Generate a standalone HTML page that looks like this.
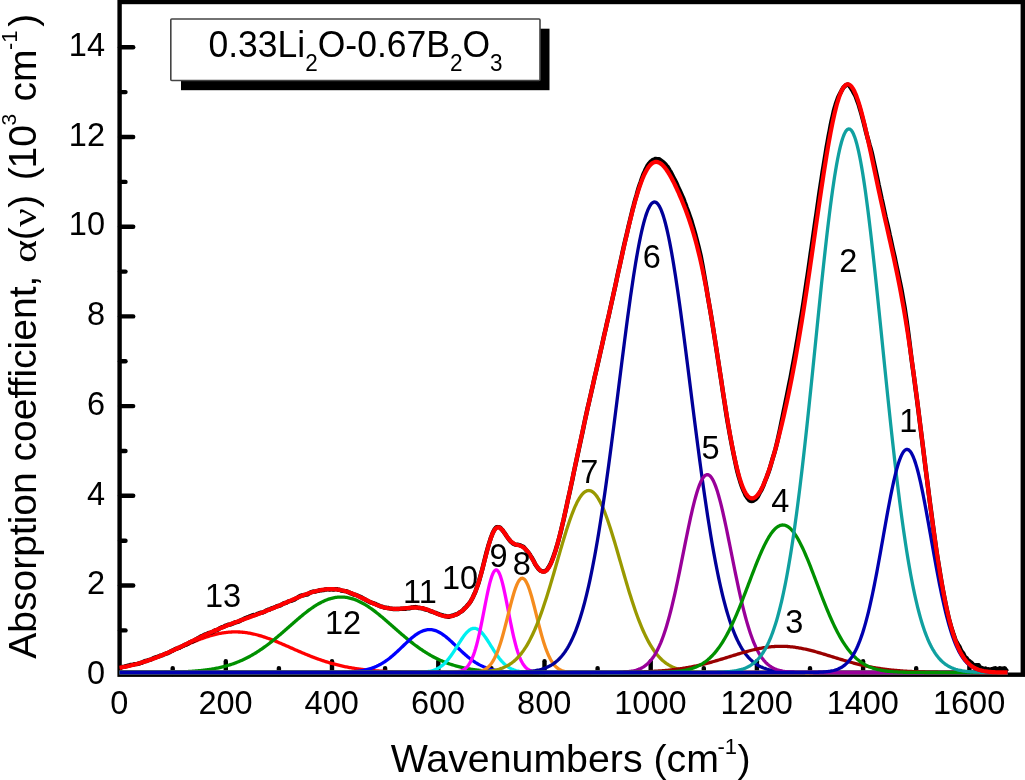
<!DOCTYPE html><html><head><meta charset="utf-8"><style>html,body{margin:0;padding:0;background:#fff;}svg{display:block;}</style></head><body>
<svg width="1025" height="780" viewBox="0 0 1025 780">
<rect x="0" y="0" width="1025" height="780" fill="#fff"/>
<rect x="119.6" y="2" width="903.2" height="672.7" fill="none" stroke="#000" stroke-width="4.4"/>
<line x1="172.7" y1="674" x2="172.7" y2="668.1" stroke="#000" stroke-width="4.4" stroke-linecap="round"/>
<line x1="225.8" y1="674" x2="225.8" y2="661.2" stroke="#000" stroke-width="4.4" stroke-linecap="round"/>
<line x1="278.9" y1="674" x2="278.9" y2="668.1" stroke="#000" stroke-width="4.4" stroke-linecap="round"/>
<line x1="332.0" y1="674" x2="332.0" y2="661.2" stroke="#000" stroke-width="4.4" stroke-linecap="round"/>
<line x1="385.1" y1="674" x2="385.1" y2="668.1" stroke="#000" stroke-width="4.4" stroke-linecap="round"/>
<line x1="438.3" y1="674" x2="438.3" y2="661.2" stroke="#000" stroke-width="4.4" stroke-linecap="round"/>
<line x1="491.4" y1="674" x2="491.4" y2="668.1" stroke="#000" stroke-width="4.4" stroke-linecap="round"/>
<line x1="544.5" y1="674" x2="544.5" y2="661.2" stroke="#000" stroke-width="4.4" stroke-linecap="round"/>
<line x1="597.6" y1="674" x2="597.6" y2="668.1" stroke="#000" stroke-width="4.4" stroke-linecap="round"/>
<line x1="650.7" y1="674" x2="650.7" y2="661.2" stroke="#000" stroke-width="4.4" stroke-linecap="round"/>
<line x1="703.8" y1="674" x2="703.8" y2="668.1" stroke="#000" stroke-width="4.4" stroke-linecap="round"/>
<line x1="756.9" y1="674" x2="756.9" y2="661.2" stroke="#000" stroke-width="4.4" stroke-linecap="round"/>
<line x1="810.0" y1="674" x2="810.0" y2="668.1" stroke="#000" stroke-width="4.4" stroke-linecap="round"/>
<line x1="863.1" y1="674" x2="863.1" y2="661.2" stroke="#000" stroke-width="4.4" stroke-linecap="round"/>
<line x1="916.2" y1="674" x2="916.2" y2="668.1" stroke="#000" stroke-width="4.4" stroke-linecap="round"/>
<line x1="969.4" y1="674" x2="969.4" y2="661.2" stroke="#000" stroke-width="4.4" stroke-linecap="round"/>
<line x1="120" y1="630.4" x2="125.5" y2="630.4" stroke="#000" stroke-width="4.4" stroke-linecap="round"/>
<line x1="120" y1="585.5" x2="133.2" y2="585.5" stroke="#000" stroke-width="4.4" stroke-linecap="round"/>
<line x1="120" y1="540.7" x2="125.5" y2="540.7" stroke="#000" stroke-width="4.4" stroke-linecap="round"/>
<line x1="120" y1="495.8" x2="133.2" y2="495.8" stroke="#000" stroke-width="4.4" stroke-linecap="round"/>
<line x1="120" y1="451.0" x2="125.5" y2="451.0" stroke="#000" stroke-width="4.4" stroke-linecap="round"/>
<line x1="120" y1="406.1" x2="133.2" y2="406.1" stroke="#000" stroke-width="4.4" stroke-linecap="round"/>
<line x1="120" y1="361.3" x2="125.5" y2="361.3" stroke="#000" stroke-width="4.4" stroke-linecap="round"/>
<line x1="120" y1="316.4" x2="133.2" y2="316.4" stroke="#000" stroke-width="4.4" stroke-linecap="round"/>
<line x1="120" y1="271.6" x2="125.5" y2="271.6" stroke="#000" stroke-width="4.4" stroke-linecap="round"/>
<line x1="120" y1="226.7" x2="133.2" y2="226.7" stroke="#000" stroke-width="4.4" stroke-linecap="round"/>
<line x1="120" y1="181.9" x2="125.5" y2="181.9" stroke="#000" stroke-width="4.4" stroke-linecap="round"/>
<line x1="120" y1="137.0" x2="133.2" y2="137.0" stroke="#000" stroke-width="4.4" stroke-linecap="round"/>
<line x1="120" y1="92.1" x2="125.5" y2="92.1" stroke="#000" stroke-width="4.4" stroke-linecap="round"/>
<line x1="120" y1="47.3" x2="133.2" y2="47.3" stroke="#000" stroke-width="4.4" stroke-linecap="round"/>
<rect x="181" y="28.7" width="368.5" height="61.5" fill="#000"/>
<rect x="170.8" y="19" width="369.2" height="61.5" fill="#fff" stroke="#444" stroke-width="1.6" rx="1"/>
<text x="208.5" y="57.2" transform="translate(0,57.2) scale(1,1.06) translate(0,-57.2)" font-family="Liberation Sans, sans-serif" font-size="35.5" fill="#000">0.33Li<tspan font-size="22.5" dy="12.6">2</tspan><tspan dy="-12.6">O-0.67B</tspan><tspan font-size="22.5" dy="12.6">2</tspan><tspan dy="-12.6">O</tspan><tspan font-size="22.5" dy="12.6">3</tspan></text>
<path d="M119.6,667.80 L120.6,667.63 L121.6,667.44 L122.6,667.26 L123.6,667.06 L124.6,666.87 L125.6,666.66 L126.6,666.45 L127.6,666.24 L128.6,666.02 L129.6,665.79 L130.6,665.56 L131.6,665.32 L132.6,665.08 L133.6,664.83 L134.6,664.58 L135.6,664.32 L136.6,664.05 L137.6,663.78 L138.6,663.50 L139.6,663.22 L140.6,662.93 L141.6,662.64 L142.6,662.34 L143.6,662.03 L144.6,661.72 L145.6,661.40 L146.6,661.08 L147.6,660.75 L148.6,660.41 L149.6,660.07 L150.6,659.73 L151.6,659.37 L152.6,659.02 L153.6,658.66 L154.6,658.29 L155.6,657.92 L156.6,657.54 L157.6,657.16 L158.6,656.77 L159.6,656.38 L160.6,655.99 L161.6,655.59 L162.6,655.18 L163.6,654.77 L164.6,654.36 L165.6,653.95 L166.6,653.53 L167.6,653.11 L168.6,652.68 L169.6,652.26 L170.6,651.83 L171.6,651.39 L172.6,650.96 L173.6,650.52 L174.6,650.09 L175.6,649.65 L176.6,649.21 L177.6,648.77 L178.6,648.32 L179.6,647.88 L180.6,647.44 L181.6,647.00 L182.6,646.56 L183.6,646.12 L184.6,645.68 L185.6,645.24 L186.6,644.81 L187.6,644.37 L188.6,643.94 L189.6,643.51 L190.6,643.09 L191.6,642.67 L192.6,642.25 L193.6,641.83 L194.6,641.42 L195.6,641.02 L196.6,640.62 L197.6,640.22 L198.6,639.83 L199.6,639.45 L200.6,639.07 L201.6,638.70 L202.6,638.34 L203.6,637.98 L204.6,637.63 L205.6,637.29 L206.6,636.96 L207.6,636.63 L208.6,636.32 L209.6,636.01 L210.6,635.71 L211.6,635.42 L212.6,635.15 L213.6,634.88 L214.6,634.62 L215.6,634.37 L216.6,634.14 L217.6,633.91 L218.6,633.69 L219.6,633.49 L220.6,633.30 L221.6,633.12 L222.6,632.95 L223.6,632.79 L224.6,632.65 L225.6,632.52 L226.6,632.40 L227.6,632.29 L228.6,632.20 L229.6,632.12 L230.6,632.05 L231.6,632.00 L232.6,631.95 L233.6,631.93 L234.6,631.91 L235.6,631.91 L236.6,631.92 L237.6,631.94 L238.6,631.98 L239.6,632.02 L240.6,632.09 L241.6,632.16 L242.6,632.25 L243.6,632.35 L244.6,632.46 L245.6,632.59 L246.6,632.73 L247.6,632.88 L248.6,633.04 L249.6,633.22 L250.6,633.40 L251.6,633.60 L252.6,633.81 L253.6,634.03 L254.6,634.26 L255.6,634.51 L256.6,634.76 L257.6,635.02 L258.6,635.30 L259.6,635.58 L260.6,635.87 L261.6,636.18 L262.6,636.49 L263.6,636.81 L264.6,637.14 L265.6,637.48 L266.6,637.82 L267.6,638.18 L268.6,638.54 L269.6,638.90 L270.6,639.28 L271.6,639.66 L272.6,640.04 L273.6,640.44 L274.6,640.84 L275.6,641.24 L276.6,641.65 L277.6,642.06 L278.6,642.48 L279.6,642.90 L280.6,643.32 L281.6,643.75 L282.6,644.18 L283.6,644.61 L284.6,645.04 L285.6,645.48 L286.6,645.92 L287.6,646.36 L288.6,646.80 L289.6,647.24 L290.6,647.68 L291.6,648.12 L292.6,648.57 L293.6,649.01 L294.6,649.45 L295.6,649.89 L296.6,650.33 L297.6,650.76 L298.6,651.20 L299.6,651.63 L300.6,652.06 L301.6,652.49 L302.6,652.92 L303.6,653.34 L304.6,653.76 L305.6,654.18 L306.6,654.59 L307.6,655.00 L308.6,655.40 L309.6,655.81 L310.6,656.20 L311.6,656.60 L312.6,656.98 L313.6,657.37 L314.6,657.75 L315.6,658.12 L316.6,658.49 L317.6,658.85 L318.6,659.21 L319.6,659.57 L320.6,659.92 L321.6,660.26 L322.6,660.60 L323.6,660.93 L324.6,661.25 L325.6,661.58 L326.6,661.89 L327.6,662.20 L328.6,662.50 L329.6,662.80 L330.6,663.09 L331.6,663.38 L332.6,663.66 L333.6,663.93 L334.6,664.20 L335.6,664.46 L336.6,664.72 L337.6,664.97 L338.6,665.22 L339.6,665.45 L340.6,665.69 L341.6,665.92 L342.6,666.14 L343.6,666.36 L344.6,666.57 L345.6,666.77 L346.6,666.97 L347.6,667.17 L348.6,667.36 L349.6,667.55 L350.6,667.73 L351.6,667.90 L352.6,668.07 L353.6,668.23 L354.6,668.39 L355.6,668.55 L356.6,668.70 L357.6,668.85 L358.6,668.99 L359.6,669.13 L360.6,669.26 L361.6,669.39 L362.6,669.51 L363.6,669.63 L364.6,669.75 L365.6,669.86 L366.6,669.97 L367.6,670.08 L368.6,670.18 L369.6,670.28 L370.6,670.37 L371.6,670.46 L372.6,670.55 L373.6,670.63 L374.6,670.72 L375.6,670.79 L376.6,670.87 L377.6,670.94 L378.6,671.01 L379.6,671.08 L380.6,671.14 L381.6,671.21 L382.6,671.27 L383.6,671.32 L384.6,671.38 L385.6,671.43 L386.6,671.48 L387.6,671.53 L388.6,671.58 L389.6,671.62 L390.6,671.66 L391.6,671.71 L392.6,671.74 L393.6,671.78 L394.6,671.82 L395.6,671.85 L396.6,671.88 L397.6,671.92 L398.6,671.95 L399.6,671.97 L400.6,672.00 L401.6,672.03 L402.6,672.05 L403.6,672.08 L404.6,672.10 L405.6,672.12 L406.6,672.14 L407.6,672.16 L408.6,672.18 L409.6,672.20 L410.6,672.21 L411.6,672.23 L412.6,672.24 L413.6,672.26 L414.6,672.27 L415.6,672.28 L416.6,672.30 L417.6,672.31 L418.6,672.32 L419.6,672.33 L420.6,672.34 L421.6,672.35 L422.6,672.36 L423.6,672.37 L424.6,672.37 L425.6,672.38 L426.6,672.39 L427.6,672.39 L428.6,672.40 L429.6,672.41 L430.6,672.41 L431.6,672.42 L432.6,672.42 L433.6,672.43 L434.6,672.43 L435.6,672.44 L436.6,672.44 L437.6,672.44 L438.6,672.45 L439.6,672.45 L440.6,672.45 L441.6,672.46 L442.6,672.46 L443.6,672.46 L444.6,672.46 L445.6,672.47 L446.6,672.47 L447.6,672.47 L448.6,672.47 L449.6,672.48 L450.6,672.48 L451.6,672.48 L452.6,672.48 L453.6,672.48 L454.6,672.48 L455.6,672.48 L456.6,672.48 L457.6,672.49 L458.6,672.49 L459.6,672.49 L460.6,672.49 L461.6,672.49 L462.6,672.49 L463.6,672.49 L464.6,672.49 L465.6,672.49 L466.6,672.49 L467.6,672.49 L468.6,672.49 L469.6,672.49 L470.6,672.49 L471.6,672.49 L472.6,672.50 L473.6,672.50 L474.6,672.50 L475.6,672.50 L476.6,672.50 L477.6,672.50 L478.6,672.50 L479.6,672.50 L480.6,672.50 L481.6,672.50 L482.6,672.50 L483.6,672.50 L484.6,672.50 L485.6,672.50 L486.6,672.50 L487.6,672.50 L488.6,672.50 L489.6,672.50 L490.6,672.50 L491.6,672.50 L492.6,672.50 L493.6,672.50 L494.6,672.50 L495.6,672.50 L496.6,672.50 L497.6,672.50 L498.6,672.50 L499.6,672.50 L500.6,672.50 L501.6,672.50 L502.6,672.50 L503.6,672.50 L504.6,672.50 L505.6,672.50 L506.6,672.50 L507.6,672.50 L508.6,672.50 L509.6,672.50 L510.6,672.50 L511.6,672.50 L512.6,672.50 L513.6,672.50 L514.6,672.50 L515.6,672.50 L516.6,672.50 L517.6,672.50 L518.6,672.50 L519.6,672.50 L520.6,672.50 L521.6,672.50 L522.6,672.50 L523.6,672.50 L524.6,672.50 L525.6,672.50 L526.6,672.50 L527.6,672.50 L528.6,672.50 L529.6,672.50 L530.6,672.50 L531.6,672.50 L532.6,672.50 L533.6,672.50 L534.6,672.50 L535.6,672.50 L536.6,672.50 L537.6,672.50 L538.6,672.50 L539.6,672.50 L540.6,672.50 L541.6,672.50 L542.6,672.50 L543.6,672.50 L544.6,672.50 L545.6,672.50 L546.6,672.50 L547.6,672.50 L548.6,672.50 L549.6,672.50 L550.6,672.50 L551.6,672.50 L552.6,672.50 L553.6,672.50 L554.6,672.50 L555.6,672.50 L556.6,672.50 L557.6,672.50 L558.6,672.50 L559.6,672.50 L560.6,672.50 L561.6,672.50 L562.6,672.50 L563.6,672.50 L564.6,672.50 L565.6,672.50 L566.6,672.50 L567.6,672.50 L568.6,672.50 L569.6,672.50 L570.6,672.50 L571.6,672.50 L572.6,672.50 L573.6,672.50 L574.6,672.50 L575.6,672.50 L576.6,672.50 L577.6,672.50 L578.6,672.50 L579.6,672.50 L580.6,672.50 L581.6,672.50 L582.6,672.50 L583.6,672.50 L584.6,672.50 L585.6,672.50 L586.6,672.50 L587.6,672.50 L588.6,672.50 L589.6,672.50 L590.6,672.50 L591.6,672.50 L592.6,672.50 L593.6,672.50 L594.6,672.50 L595.6,672.50 L596.6,672.50 L597.6,672.50 L598.6,672.50 L599.6,672.50 L600.6,672.50 L601.6,672.50 L602.6,672.50 L603.6,672.50 L604.6,672.50 L605.6,672.50 L606.6,672.50 L607.6,672.50 L608.6,672.50 L609.6,672.50 L610.6,672.50 L611.6,672.50 L612.6,672.50 L613.6,672.50 L614.6,672.50 L615.6,672.50 L616.6,672.50 L617.6,672.50 L618.6,672.50 L619.6,672.50 L620.6,672.50 L621.6,672.50 L622.6,672.50 L623.6,672.50 L624.6,672.50 L625.6,672.50 L626.6,672.50 L627.6,672.50 L628.6,672.50 L629.6,672.50 L630.6,672.50 L631.6,672.50 L632.6,672.50 L633.6,672.50 L634.6,672.50 L635.6,672.50 L636.6,672.50 L637.6,672.50 L638.6,672.50 L639.6,672.50 L640.6,672.50 L641.6,672.50 L642.6,672.50 L643.6,672.50 L644.6,672.50 L645.6,672.50 L646.6,672.50 L647.6,672.50 L648.6,672.50 L649.6,672.50 L650.6,672.50 L651.6,672.50 L652.6,672.50 L653.6,672.50 L654.6,672.50 L655.6,672.50 L656.6,672.50 L657.6,672.50 L658.6,672.50 L659.6,672.50 L660.6,672.50 L661.6,672.50 L662.6,672.50 L663.6,672.50 L664.6,672.50 L665.6,672.50 L666.6,672.50 L667.6,672.50 L668.6,672.50 L669.6,672.50 L670.6,672.50 L671.6,672.50 L672.6,672.50 L673.6,672.50 L674.6,672.50 L675.6,672.50 L676.6,672.50 L677.6,672.50 L678.6,672.50 L679.6,672.50 L680.6,672.50 L681.6,672.50 L682.6,672.50 L683.6,672.50 L684.6,672.50 L685.6,672.50 L686.6,672.50 L687.6,672.50 L688.6,672.50 L689.6,672.50 L690.6,672.50 L691.6,672.50 L692.6,672.50 L693.6,672.50 L694.6,672.50 L695.6,672.50 L696.6,672.50 L697.6,672.50 L698.6,672.50 L699.6,672.50 L700.6,672.50 L701.6,672.50 L702.6,672.50 L703.6,672.50 L704.6,672.50 L705.6,672.50 L706.6,672.50 L707.6,672.50 L708.6,672.50 L709.6,672.50 L710.6,672.50 L711.6,672.50 L712.6,672.50 L713.6,672.50 L714.6,672.50 L715.6,672.50 L716.6,672.50 L717.6,672.50 L718.6,672.50 L719.6,672.50 L720.6,672.50 L721.6,672.50 L722.6,672.50 L723.6,672.50 L724.6,672.50 L725.6,672.50 L726.6,672.50 L727.6,672.50 L728.6,672.50 L729.6,672.50 L730.6,672.50 L731.6,672.50 L732.6,672.50 L733.6,672.50 L734.6,672.50 L735.6,672.50 L736.6,672.50 L737.6,672.50 L738.6,672.50 L739.6,672.50 L740.6,672.50 L741.6,672.50 L742.6,672.50 L743.6,672.50 L744.6,672.50 L745.6,672.50 L746.6,672.50 L747.6,672.50 L748.6,672.50 L749.6,672.50 L750.6,672.50 L751.6,672.50 L752.6,672.50 L753.6,672.50 L754.6,672.50 L755.6,672.50 L756.6,672.50 L757.6,672.50 L758.6,672.50 L759.6,672.50 L760.6,672.50 L761.6,672.50 L762.6,672.50 L763.6,672.50 L764.6,672.50 L765.6,672.50 L766.6,672.50 L767.6,672.50 L768.6,672.50 L769.6,672.50 L770.6,672.50 L771.6,672.50 L772.6,672.50 L773.6,672.50 L774.6,672.50 L775.6,672.50 L776.6,672.50 L777.6,672.50 L778.6,672.50 L779.6,672.50 L780.6,672.50 L781.6,672.50 L782.6,672.50 L783.6,672.50 L784.6,672.50 L785.6,672.50 L786.6,672.50 L787.6,672.50 L788.6,672.50 L789.6,672.50 L790.6,672.50 L791.6,672.50 L792.6,672.50 L793.6,672.50 L794.6,672.50 L795.6,672.50 L796.6,672.50 L797.6,672.50 L798.6,672.50 L799.6,672.50 L800.6,672.50 L801.6,672.50 L802.6,672.50 L803.6,672.50 L804.6,672.50 L805.6,672.50 L806.6,672.50 L807.6,672.50 L808.6,672.50 L809.6,672.50 L810.6,672.50 L811.6,672.50 L812.6,672.50 L813.6,672.50 L814.6,672.50 L815.6,672.50 L816.6,672.50 L817.6,672.50 L818.6,672.50 L819.6,672.50 L820.6,672.50 L821.6,672.50 L822.6,672.50 L823.6,672.50 L824.6,672.50 L825.6,672.50 L826.6,672.50 L827.6,672.50 L828.6,672.50 L829.6,672.50 L830.6,672.50 L831.6,672.50 L832.6,672.50 L833.6,672.50 L834.6,672.50 L835.6,672.50 L836.6,672.50 L837.6,672.50 L838.6,672.50 L839.6,672.50 L840.6,672.50 L841.6,672.50 L842.6,672.50 L843.6,672.50 L844.6,672.50 L845.6,672.50 L846.6,672.50 L847.6,672.50 L848.6,672.50 L849.6,672.50 L850.6,672.50 L851.6,672.50 L852.6,672.50 L853.6,672.50 L854.6,672.50 L855.6,672.50 L856.6,672.50 L857.6,672.50 L858.6,672.50 L859.6,672.50 L860.6,672.50 L861.6,672.50 L862.6,672.50 L863.6,672.50 L864.6,672.50 L865.6,672.50 L866.6,672.50 L867.6,672.50 L868.6,672.50 L869.6,672.50 L870.6,672.50 L871.6,672.50 L872.6,672.50 L873.6,672.50 L874.6,672.50 L875.6,672.50 L876.6,672.50 L877.6,672.50 L878.6,672.50 L879.6,672.50 L880.6,672.50 L881.6,672.50 L882.6,672.50 L883.6,672.50 L884.6,672.50 L885.6,672.50 L886.6,672.50 L887.6,672.50 L888.6,672.50 L889.6,672.50 L890.6,672.50 L891.6,672.50 L892.6,672.50 L893.6,672.50 L894.6,672.50 L895.6,672.50 L896.6,672.50 L897.6,672.50 L898.6,672.50 L899.6,672.50 L900.6,672.50 L901.6,672.50 L902.6,672.50 L903.6,672.50 L904.6,672.50 L905.6,672.50 L906.6,672.50 L907.6,672.50 L908.6,672.50 L909.6,672.50 L910.6,672.50 L911.6,672.50 L912.6,672.50 L913.6,672.50 L914.6,672.50 L915.6,672.50 L916.6,672.50 L917.6,672.50 L918.6,672.50 L919.6,672.50 L920.6,672.50 L921.6,672.50 L922.6,672.50 L923.6,672.50 L924.6,672.50 L925.6,672.50 L926.6,672.50 L927.6,672.50 L928.6,672.50 L929.6,672.50 L930.6,672.50 L931.6,672.50 L932.6,672.50 L933.6,672.50 L934.6,672.50 L935.6,672.50 L936.6,672.50 L937.6,672.50 L938.6,672.50 L939.6,672.50 L940.6,672.50 L941.6,672.50 L942.6,672.50 L943.6,672.50 L944.6,672.50 L945.6,672.50 L946.6,672.50 L947.6,672.50 L948.6,672.50 L949.6,672.50 L950.6,672.50 L951.6,672.50 L952.6,672.50 L953.6,672.50 L954.6,672.50 L955.6,672.50 L956.6,672.50 L957.6,672.50 L958.6,672.50 L959.6,672.50 L960.6,672.50 L961.6,672.50 L962.6,672.50 L963.6,672.50 L964.6,672.50 L965.6,672.50 L966.6,672.50 L967.6,672.50 L968.6,672.50 L969.6,672.50 L970.6,672.50 L971.6,672.50 L972.6,672.50 L973.6,672.50 L974.6,672.50 L975.6,672.50 L976.6,672.50 L977.6,672.50 L978.6,672.50 L979.6,672.50 L980.6,672.50 L981.6,672.50 L982.6,672.50 L983.6,672.50 L984.6,672.50 L985.6,672.50 L986.6,672.50 L987.6,672.50 L988.6,672.50 L989.6,672.50 L990.6,672.50 L991.6,672.50 L992.6,672.50 L993.6,672.50 L994.6,672.50 L995.6,672.50 L996.6,672.50 L997.6,672.50 L998.6,672.50 L999.6,672.50 L1000.6,672.50 L1001.6,672.50 L1002.6,672.50 L1003.6,672.50 L1004.6,672.50 L1005.6,672.50 L1006.6,672.50 L1007.6,672.50" fill="none" stroke="#FF0000" stroke-width="3.3" stroke-linejoin="round"/>
<path d="M119.6,672.49 L120.6,672.49 L121.6,672.49 L122.6,672.49 L123.6,672.49 L124.6,672.49 L125.6,672.49 L126.6,672.48 L127.6,672.48 L128.6,672.48 L129.6,672.48 L130.6,672.48 L131.6,672.48 L132.6,672.48 L133.6,672.47 L134.6,672.47 L135.6,672.47 L136.6,672.47 L137.6,672.46 L138.6,672.46 L139.6,672.46 L140.6,672.46 L141.6,672.45 L142.6,672.45 L143.6,672.44 L144.6,672.44 L145.6,672.44 L146.6,672.43 L147.6,672.43 L148.6,672.42 L149.6,672.41 L150.6,672.41 L151.6,672.40 L152.6,672.39 L153.6,672.39 L154.6,672.38 L155.6,672.37 L156.6,672.36 L157.6,672.35 L158.6,672.34 L159.6,672.33 L160.6,672.32 L161.6,672.31 L162.6,672.29 L163.6,672.28 L164.6,672.26 L165.6,672.25 L166.6,672.23 L167.6,672.21 L168.6,672.19 L169.6,672.17 L170.6,672.15 L171.6,672.13 L172.6,672.10 L173.6,672.08 L174.6,672.05 L175.6,672.02 L176.6,671.99 L177.6,671.96 L178.6,671.93 L179.6,671.89 L180.6,671.86 L181.6,671.82 L182.6,671.78 L183.6,671.73 L184.6,671.69 L185.6,671.64 L186.6,671.59 L187.6,671.53 L188.6,671.48 L189.6,671.42 L190.6,671.36 L191.6,671.29 L192.6,671.22 L193.6,671.15 L194.6,671.07 L195.6,671.00 L196.6,670.91 L197.6,670.83 L198.6,670.74 L199.6,670.64 L200.6,670.54 L201.6,670.44 L202.6,670.33 L203.6,670.21 L204.6,670.09 L205.6,669.97 L206.6,669.84 L207.6,669.71 L208.6,669.57 L209.6,669.42 L210.6,669.27 L211.6,669.11 L212.6,668.94 L213.6,668.77 L214.6,668.59 L215.6,668.40 L216.6,668.21 L217.6,668.01 L218.6,667.80 L219.6,667.58 L220.6,667.35 L221.6,667.12 L222.6,666.88 L223.6,666.63 L224.6,666.37 L225.6,666.10 L226.6,665.82 L227.6,665.53 L228.6,665.24 L229.6,664.93 L230.6,664.61 L231.6,664.28 L232.6,663.95 L233.6,663.60 L234.6,663.24 L235.6,662.87 L236.6,662.49 L237.6,662.09 L238.6,661.69 L239.6,661.27 L240.6,660.85 L241.6,660.41 L242.6,659.96 L243.6,659.49 L244.6,659.02 L245.6,658.53 L246.6,658.03 L247.6,657.52 L248.6,657.00 L249.6,656.46 L250.6,655.91 L251.6,655.35 L252.6,654.77 L253.6,654.19 L254.6,653.59 L255.6,652.98 L256.6,652.35 L257.6,651.72 L258.6,651.07 L259.6,650.41 L260.6,649.74 L261.6,649.06 L262.6,648.36 L263.6,647.65 L264.6,646.94 L265.6,646.21 L266.6,645.47 L267.6,644.72 L268.6,643.96 L269.6,643.19 L270.6,642.41 L271.6,641.62 L272.6,640.82 L273.6,640.01 L274.6,639.20 L275.6,638.37 L276.6,637.54 L277.6,636.70 L278.6,635.86 L279.6,635.01 L280.6,634.15 L281.6,633.29 L282.6,632.43 L283.6,631.56 L284.6,630.69 L285.6,629.81 L286.6,628.93 L287.6,628.06 L288.6,627.18 L289.6,626.30 L290.6,625.42 L291.6,624.54 L292.6,623.66 L293.6,622.78 L294.6,621.91 L295.6,621.04 L296.6,620.18 L297.6,619.32 L298.6,618.47 L299.6,617.62 L300.6,616.78 L301.6,615.95 L302.6,615.13 L303.6,614.32 L304.6,613.52 L305.6,612.73 L306.6,611.95 L307.6,611.18 L308.6,610.43 L309.6,609.69 L310.6,608.96 L311.6,608.26 L312.6,607.56 L313.6,606.89 L314.6,606.23 L315.6,605.59 L316.6,604.96 L317.6,604.36 L318.6,603.78 L319.6,603.22 L320.6,602.68 L321.6,602.16 L322.6,601.66 L323.6,601.19 L324.6,600.74 L325.6,600.31 L326.6,599.91 L327.6,599.53 L328.6,599.18 L329.6,598.86 L330.6,598.56 L331.6,598.28 L332.6,598.03 L333.6,597.81 L334.6,597.62 L335.6,597.45 L336.6,597.31 L337.6,597.20 L338.6,597.12 L339.6,597.06 L340.6,597.03 L341.6,597.03 L342.6,597.06 L343.6,597.12 L344.6,597.20 L345.6,597.31 L346.6,597.45 L347.6,597.62 L348.6,597.81 L349.6,598.03 L350.6,598.28 L351.6,598.55 L352.6,598.85 L353.6,599.18 L354.6,599.53 L355.6,599.90 L356.6,600.31 L357.6,600.73 L358.6,601.18 L359.6,601.65 L360.6,602.15 L361.6,602.67 L362.6,603.21 L363.6,603.77 L364.6,604.35 L365.6,604.95 L366.6,605.57 L367.6,606.21 L368.6,606.87 L369.6,607.55 L370.6,608.24 L371.6,608.95 L372.6,609.67 L373.6,610.41 L374.6,611.17 L375.6,611.93 L376.6,612.71 L377.6,613.50 L378.6,614.30 L379.6,615.12 L380.6,615.94 L381.6,616.77 L382.6,617.61 L383.6,618.45 L384.6,619.30 L385.6,620.16 L386.6,621.03 L387.6,621.90 L388.6,622.77 L389.6,623.64 L390.6,624.52 L391.6,625.40 L392.6,626.28 L393.6,627.16 L394.6,628.04 L395.6,628.92 L396.6,629.79 L397.6,630.67 L398.6,631.54 L399.6,632.41 L400.6,633.28 L401.6,634.14 L402.6,634.99 L403.6,635.84 L404.6,636.69 L405.6,637.53 L406.6,638.36 L407.6,639.18 L408.6,639.99 L409.6,640.80 L410.6,641.60 L411.6,642.39 L412.6,643.17 L413.6,643.94 L414.6,644.70 L415.6,645.45 L416.6,646.19 L417.6,646.92 L418.6,647.64 L419.6,648.35 L420.6,649.04 L421.6,649.73 L422.6,650.40 L423.6,651.06 L424.6,651.71 L425.6,652.34 L426.6,652.97 L427.6,653.58 L428.6,654.18 L429.6,654.76 L430.6,655.34 L431.6,655.90 L432.6,656.45 L433.6,656.99 L434.6,657.51 L435.6,658.02 L436.6,658.52 L437.6,659.01 L438.6,659.48 L439.6,659.95 L440.6,660.40 L441.6,660.84 L442.6,661.27 L443.6,661.68 L444.6,662.09 L445.6,662.48 L446.6,662.86 L447.6,663.23 L448.6,663.59 L449.6,663.94 L450.6,664.28 L451.6,664.61 L452.6,664.92 L453.6,665.23 L454.6,665.53 L455.6,665.82 L456.6,666.09 L457.6,666.36 L458.6,666.62 L459.6,666.87 L460.6,667.12 L461.6,667.35 L462.6,667.58 L463.6,667.79 L464.6,668.00 L465.6,668.20 L466.6,668.40 L467.6,668.58 L468.6,668.76 L469.6,668.94 L470.6,669.10 L471.6,669.26 L472.6,669.42 L473.6,669.56 L474.6,669.70 L475.6,669.84 L476.6,669.97 L477.6,670.09 L478.6,670.21 L479.6,670.33 L480.6,670.43 L481.6,670.54 L482.6,670.64 L483.6,670.73 L484.6,670.82 L485.6,670.91 L486.6,670.99 L487.6,671.07 L488.6,671.15 L489.6,671.22 L490.6,671.29 L491.6,671.35 L492.6,671.42 L493.6,671.48 L494.6,671.53 L495.6,671.59 L496.6,671.64 L497.6,671.69 L498.6,671.73 L499.6,671.77 L500.6,671.82 L501.6,671.86 L502.6,671.89 L503.6,671.93 L504.6,671.96 L505.6,671.99 L506.6,672.02 L507.6,672.05 L508.6,672.08 L509.6,672.10 L510.6,672.13 L511.6,672.15 L512.6,672.17 L513.6,672.19 L514.6,672.21 L515.6,672.23 L516.6,672.25 L517.6,672.26 L518.6,672.28 L519.6,672.29 L520.6,672.30 L521.6,672.32 L522.6,672.33 L523.6,672.34 L524.6,672.35 L525.6,672.36 L526.6,672.37 L527.6,672.38 L528.6,672.39 L529.6,672.39 L530.6,672.40 L531.6,672.41 L532.6,672.41 L533.6,672.42 L534.6,672.43 L535.6,672.43 L536.6,672.44 L537.6,672.44 L538.6,672.44 L539.6,672.45 L540.6,672.45 L541.6,672.46 L542.6,672.46 L543.6,672.46 L544.6,672.46 L545.6,672.47 L546.6,672.47 L547.6,672.47 L548.6,672.47 L549.6,672.48 L550.6,672.48 L551.6,672.48 L552.6,672.48 L553.6,672.48 L554.6,672.48 L555.6,672.48 L556.6,672.49 L557.6,672.49 L558.6,672.49 L559.6,672.49 L560.6,672.49 L561.6,672.49 L562.6,672.49 L563.6,672.49 L564.6,672.49 L565.6,672.49 L566.6,672.49 L567.6,672.49 L568.6,672.49 L569.6,672.50 L570.6,672.50 L571.6,672.50 L572.6,672.50 L573.6,672.50 L574.6,672.50 L575.6,672.50 L576.6,672.50 L577.6,672.50 L578.6,672.50 L579.6,672.50 L580.6,672.50 L581.6,672.50 L582.6,672.50 L583.6,672.50 L584.6,672.50 L585.6,672.50 L586.6,672.50 L587.6,672.50 L588.6,672.50 L589.6,672.50 L590.6,672.50 L591.6,672.50 L592.6,672.50 L593.6,672.50 L594.6,672.50 L595.6,672.50 L596.6,672.50 L597.6,672.50 L598.6,672.50 L599.6,672.50 L600.6,672.50 L601.6,672.50 L602.6,672.50 L603.6,672.50 L604.6,672.50 L605.6,672.50 L606.6,672.50 L607.6,672.50 L608.6,672.50 L609.6,672.50 L610.6,672.50 L611.6,672.50 L612.6,672.50 L613.6,672.50 L614.6,672.50 L615.6,672.50 L616.6,672.50 L617.6,672.50 L618.6,672.50 L619.6,672.50 L620.6,672.50 L621.6,672.50 L622.6,672.50 L623.6,672.50 L624.6,672.50 L625.6,672.50 L626.6,672.50 L627.6,672.50 L628.6,672.50 L629.6,672.50 L630.6,672.50 L631.6,672.50 L632.6,672.50 L633.6,672.50 L634.6,672.50 L635.6,672.50 L636.6,672.50 L637.6,672.50 L638.6,672.50 L639.6,672.50 L640.6,672.50 L641.6,672.50 L642.6,672.50 L643.6,672.50 L644.6,672.50 L645.6,672.50 L646.6,672.50 L647.6,672.50 L648.6,672.50 L649.6,672.50 L650.6,672.50 L651.6,672.50 L652.6,672.50 L653.6,672.50 L654.6,672.50 L655.6,672.50 L656.6,672.50 L657.6,672.50 L658.6,672.50 L659.6,672.50 L660.6,672.50 L661.6,672.50 L662.6,672.50 L663.6,672.50 L664.6,672.50 L665.6,672.50 L666.6,672.50 L667.6,672.50 L668.6,672.50 L669.6,672.50 L670.6,672.50 L671.6,672.50 L672.6,672.50 L673.6,672.50 L674.6,672.50 L675.6,672.50 L676.6,672.50 L677.6,672.50 L678.6,672.50 L679.6,672.50 L680.6,672.50 L681.6,672.50 L682.6,672.50 L683.6,672.50 L684.6,672.50 L685.6,672.50 L686.6,672.50 L687.6,672.50 L688.6,672.50 L689.6,672.50 L690.6,672.50 L691.6,672.50 L692.6,672.50 L693.6,672.50 L694.6,672.50 L695.6,672.50 L696.6,672.50 L697.6,672.50 L698.6,672.50 L699.6,672.50 L700.6,672.50 L701.6,672.50 L702.6,672.50 L703.6,672.50 L704.6,672.50 L705.6,672.50 L706.6,672.50 L707.6,672.50 L708.6,672.50 L709.6,672.50 L710.6,672.50 L711.6,672.50 L712.6,672.50 L713.6,672.50 L714.6,672.50 L715.6,672.50 L716.6,672.50 L717.6,672.50 L718.6,672.50 L719.6,672.50 L720.6,672.50 L721.6,672.50 L722.6,672.50 L723.6,672.50 L724.6,672.50 L725.6,672.50 L726.6,672.50 L727.6,672.50 L728.6,672.50 L729.6,672.50 L730.6,672.50 L731.6,672.50 L732.6,672.50 L733.6,672.50 L734.6,672.50 L735.6,672.50 L736.6,672.50 L737.6,672.50 L738.6,672.50 L739.6,672.50 L740.6,672.50 L741.6,672.50 L742.6,672.50 L743.6,672.50 L744.6,672.50 L745.6,672.50 L746.6,672.50 L747.6,672.50 L748.6,672.50 L749.6,672.50 L750.6,672.50 L751.6,672.50 L752.6,672.50 L753.6,672.50 L754.6,672.50 L755.6,672.50 L756.6,672.50 L757.6,672.50 L758.6,672.50 L759.6,672.50 L760.6,672.50 L761.6,672.50 L762.6,672.50 L763.6,672.50 L764.6,672.50 L765.6,672.50 L766.6,672.50 L767.6,672.50 L768.6,672.50 L769.6,672.50 L770.6,672.50 L771.6,672.50 L772.6,672.50 L773.6,672.50 L774.6,672.50 L775.6,672.50 L776.6,672.50 L777.6,672.50 L778.6,672.50 L779.6,672.50 L780.6,672.50 L781.6,672.50 L782.6,672.50 L783.6,672.50 L784.6,672.50 L785.6,672.50 L786.6,672.50 L787.6,672.50 L788.6,672.50 L789.6,672.50 L790.6,672.50 L791.6,672.50 L792.6,672.50 L793.6,672.50 L794.6,672.50 L795.6,672.50 L796.6,672.50 L797.6,672.50 L798.6,672.50 L799.6,672.50 L800.6,672.50 L801.6,672.50 L802.6,672.50 L803.6,672.50 L804.6,672.50 L805.6,672.50 L806.6,672.50 L807.6,672.50 L808.6,672.50 L809.6,672.50 L810.6,672.50 L811.6,672.50 L812.6,672.50 L813.6,672.50 L814.6,672.50 L815.6,672.50 L816.6,672.50 L817.6,672.50 L818.6,672.50 L819.6,672.50 L820.6,672.50 L821.6,672.50 L822.6,672.50 L823.6,672.50 L824.6,672.50 L825.6,672.50 L826.6,672.50 L827.6,672.50 L828.6,672.50 L829.6,672.50 L830.6,672.50 L831.6,672.50 L832.6,672.50 L833.6,672.50 L834.6,672.50 L835.6,672.50 L836.6,672.50 L837.6,672.50 L838.6,672.50 L839.6,672.50 L840.6,672.50 L841.6,672.50 L842.6,672.50 L843.6,672.50 L844.6,672.50 L845.6,672.50 L846.6,672.50 L847.6,672.50 L848.6,672.50 L849.6,672.50 L850.6,672.50 L851.6,672.50 L852.6,672.50 L853.6,672.50 L854.6,672.50 L855.6,672.50 L856.6,672.50 L857.6,672.50 L858.6,672.50 L859.6,672.50 L860.6,672.50 L861.6,672.50 L862.6,672.50 L863.6,672.50 L864.6,672.50 L865.6,672.50 L866.6,672.50 L867.6,672.50 L868.6,672.50 L869.6,672.50 L870.6,672.50 L871.6,672.50 L872.6,672.50 L873.6,672.50 L874.6,672.50 L875.6,672.50 L876.6,672.50 L877.6,672.50 L878.6,672.50 L879.6,672.50 L880.6,672.50 L881.6,672.50 L882.6,672.50 L883.6,672.50 L884.6,672.50 L885.6,672.50 L886.6,672.50 L887.6,672.50 L888.6,672.50 L889.6,672.50 L890.6,672.50 L891.6,672.50 L892.6,672.50 L893.6,672.50 L894.6,672.50 L895.6,672.50 L896.6,672.50 L897.6,672.50 L898.6,672.50 L899.6,672.50 L900.6,672.50 L901.6,672.50 L902.6,672.50 L903.6,672.50 L904.6,672.50 L905.6,672.50 L906.6,672.50 L907.6,672.50 L908.6,672.50 L909.6,672.50 L910.6,672.50 L911.6,672.50 L912.6,672.50 L913.6,672.50 L914.6,672.50 L915.6,672.50 L916.6,672.50 L917.6,672.50 L918.6,672.50 L919.6,672.50 L920.6,672.50 L921.6,672.50 L922.6,672.50 L923.6,672.50 L924.6,672.50 L925.6,672.50 L926.6,672.50 L927.6,672.50 L928.6,672.50 L929.6,672.50 L930.6,672.50 L931.6,672.50 L932.6,672.50 L933.6,672.50 L934.6,672.50 L935.6,672.50 L936.6,672.50 L937.6,672.50 L938.6,672.50 L939.6,672.50 L940.6,672.50 L941.6,672.50 L942.6,672.50 L943.6,672.50 L944.6,672.50 L945.6,672.50 L946.6,672.50 L947.6,672.50 L948.6,672.50 L949.6,672.50 L950.6,672.50 L951.6,672.50 L952.6,672.50 L953.6,672.50 L954.6,672.50 L955.6,672.50 L956.6,672.50 L957.6,672.50 L958.6,672.50 L959.6,672.50 L960.6,672.50 L961.6,672.50 L962.6,672.50 L963.6,672.50 L964.6,672.50 L965.6,672.50 L966.6,672.50 L967.6,672.50 L968.6,672.50 L969.6,672.50 L970.6,672.50 L971.6,672.50 L972.6,672.50 L973.6,672.50 L974.6,672.50 L975.6,672.50 L976.6,672.50 L977.6,672.50 L978.6,672.50 L979.6,672.50 L980.6,672.50 L981.6,672.50 L982.6,672.50 L983.6,672.50 L984.6,672.50 L985.6,672.50 L986.6,672.50 L987.6,672.50 L988.6,672.50 L989.6,672.50 L990.6,672.50 L991.6,672.50 L992.6,672.50 L993.6,672.50 L994.6,672.50 L995.6,672.50 L996.6,672.50 L997.6,672.50 L998.6,672.50 L999.6,672.50 L1000.6,672.50 L1001.6,672.50 L1002.6,672.50 L1003.6,672.50 L1004.6,672.50 L1005.6,672.50 L1006.6,672.50 L1007.6,672.50" fill="none" stroke="#009000" stroke-width="3.3" stroke-linejoin="round"/>
<path d="M119.6,672.50 L120.6,672.50 L121.6,672.50 L122.6,672.50 L123.6,672.50 L124.6,672.50 L125.6,672.50 L126.6,672.50 L127.6,672.50 L128.6,672.50 L129.6,672.50 L130.6,672.50 L131.6,672.50 L132.6,672.50 L133.6,672.50 L134.6,672.50 L135.6,672.50 L136.6,672.50 L137.6,672.50 L138.6,672.50 L139.6,672.50 L140.6,672.50 L141.6,672.50 L142.6,672.50 L143.6,672.50 L144.6,672.50 L145.6,672.50 L146.6,672.50 L147.6,672.50 L148.6,672.50 L149.6,672.50 L150.6,672.50 L151.6,672.50 L152.6,672.50 L153.6,672.50 L154.6,672.50 L155.6,672.50 L156.6,672.50 L157.6,672.50 L158.6,672.50 L159.6,672.50 L160.6,672.50 L161.6,672.50 L162.6,672.50 L163.6,672.50 L164.6,672.50 L165.6,672.50 L166.6,672.50 L167.6,672.50 L168.6,672.50 L169.6,672.50 L170.6,672.50 L171.6,672.50 L172.6,672.50 L173.6,672.50 L174.6,672.50 L175.6,672.50 L176.6,672.50 L177.6,672.50 L178.6,672.50 L179.6,672.50 L180.6,672.50 L181.6,672.50 L182.6,672.50 L183.6,672.50 L184.6,672.50 L185.6,672.50 L186.6,672.50 L187.6,672.50 L188.6,672.50 L189.6,672.50 L190.6,672.50 L191.6,672.50 L192.6,672.50 L193.6,672.50 L194.6,672.50 L195.6,672.50 L196.6,672.50 L197.6,672.50 L198.6,672.50 L199.6,672.50 L200.6,672.50 L201.6,672.50 L202.6,672.50 L203.6,672.50 L204.6,672.50 L205.6,672.50 L206.6,672.50 L207.6,672.50 L208.6,672.50 L209.6,672.50 L210.6,672.50 L211.6,672.50 L212.6,672.50 L213.6,672.50 L214.6,672.50 L215.6,672.50 L216.6,672.50 L217.6,672.50 L218.6,672.50 L219.6,672.50 L220.6,672.50 L221.6,672.50 L222.6,672.50 L223.6,672.50 L224.6,672.50 L225.6,672.50 L226.6,672.50 L227.6,672.50 L228.6,672.50 L229.6,672.50 L230.6,672.50 L231.6,672.50 L232.6,672.50 L233.6,672.50 L234.6,672.50 L235.6,672.50 L236.6,672.50 L237.6,672.50 L238.6,672.50 L239.6,672.50 L240.6,672.50 L241.6,672.50 L242.6,672.50 L243.6,672.50 L244.6,672.50 L245.6,672.50 L246.6,672.50 L247.6,672.50 L248.6,672.50 L249.6,672.50 L250.6,672.50 L251.6,672.50 L252.6,672.50 L253.6,672.50 L254.6,672.50 L255.6,672.50 L256.6,672.50 L257.6,672.50 L258.6,672.50 L259.6,672.50 L260.6,672.50 L261.6,672.50 L262.6,672.50 L263.6,672.50 L264.6,672.50 L265.6,672.50 L266.6,672.50 L267.6,672.50 L268.6,672.50 L269.6,672.50 L270.6,672.50 L271.6,672.50 L272.6,672.50 L273.6,672.50 L274.6,672.50 L275.6,672.50 L276.6,672.50 L277.6,672.50 L278.6,672.50 L279.6,672.50 L280.6,672.50 L281.6,672.50 L282.6,672.50 L283.6,672.50 L284.6,672.50 L285.6,672.50 L286.6,672.50 L287.6,672.50 L288.6,672.50 L289.6,672.50 L290.6,672.50 L291.6,672.50 L292.6,672.50 L293.6,672.50 L294.6,672.50 L295.6,672.50 L296.6,672.50 L297.6,672.50 L298.6,672.50 L299.6,672.50 L300.6,672.50 L301.6,672.50 L302.6,672.50 L303.6,672.50 L304.6,672.50 L305.6,672.50 L306.6,672.50 L307.6,672.50 L308.6,672.50 L309.6,672.50 L310.6,672.50 L311.6,672.50 L312.6,672.50 L313.6,672.50 L314.6,672.50 L315.6,672.49 L316.6,672.49 L317.6,672.49 L318.6,672.49 L319.6,672.49 L320.6,672.49 L321.6,672.49 L322.6,672.48 L323.6,672.48 L324.6,672.48 L325.6,672.47 L326.6,672.47 L327.6,672.47 L328.6,672.46 L329.6,672.46 L330.6,672.45 L331.6,672.44 L332.6,672.43 L333.6,672.42 L334.6,672.41 L335.6,672.40 L336.6,672.39 L337.6,672.37 L338.6,672.36 L339.6,672.34 L340.6,672.31 L341.6,672.29 L342.6,672.26 L343.6,672.23 L344.6,672.20 L345.6,672.16 L346.6,672.12 L347.6,672.08 L348.6,672.03 L349.6,671.97 L350.6,671.91 L351.6,671.84 L352.6,671.77 L353.6,671.69 L354.6,671.60 L355.6,671.50 L356.6,671.40 L357.6,671.28 L358.6,671.16 L359.6,671.02 L360.6,670.87 L361.6,670.71 L362.6,670.54 L363.6,670.35 L364.6,670.15 L365.6,669.93 L366.6,669.69 L367.6,669.44 L368.6,669.17 L369.6,668.88 L370.6,668.57 L371.6,668.24 L372.6,667.89 L373.6,667.52 L374.6,667.13 L375.6,666.71 L376.6,666.27 L377.6,665.80 L378.6,665.31 L379.6,664.79 L380.6,664.25 L381.6,663.68 L382.6,663.08 L383.6,662.46 L384.6,661.81 L385.6,661.14 L386.6,660.44 L387.6,659.71 L388.6,658.96 L389.6,658.19 L390.6,657.39 L391.6,656.57 L392.6,655.72 L393.6,654.86 L394.6,653.98 L395.6,653.08 L396.6,652.16 L397.6,651.23 L398.6,650.29 L399.6,649.34 L400.6,648.38 L401.6,647.42 L402.6,646.46 L403.6,645.49 L404.6,644.53 L405.6,643.57 L406.6,642.62 L407.6,641.68 L408.6,640.76 L409.6,639.86 L410.6,638.97 L411.6,638.11 L412.6,637.27 L413.6,636.47 L414.6,635.69 L415.6,634.95 L416.6,634.25 L417.6,633.59 L418.6,632.97 L419.6,632.40 L420.6,631.88 L421.6,631.40 L422.6,630.98 L423.6,630.61 L424.6,630.30 L425.6,630.04 L426.6,629.84 L427.6,629.69 L428.6,629.61 L429.6,629.58 L430.6,629.62 L431.6,629.71 L432.6,629.86 L433.6,630.07 L434.6,630.34 L435.6,630.66 L436.6,631.03 L437.6,631.46 L438.6,631.95 L439.6,632.48 L440.6,633.05 L441.6,633.68 L442.6,634.34 L443.6,635.05 L444.6,635.79 L445.6,636.57 L446.6,637.38 L447.6,638.22 L448.6,639.09 L449.6,639.98 L450.6,640.88 L451.6,641.81 L452.6,642.75 L453.6,643.70 L454.6,644.66 L455.6,645.62 L456.6,646.59 L457.6,647.55 L458.6,648.51 L459.6,649.47 L460.6,650.42 L461.6,651.36 L462.6,652.29 L463.6,653.20 L464.6,654.10 L465.6,654.98 L466.6,655.84 L467.6,656.68 L468.6,657.50 L469.6,658.29 L470.6,659.06 L471.6,659.81 L472.6,660.53 L473.6,661.23 L474.6,661.90 L475.6,662.55 L476.6,663.16 L477.6,663.76 L478.6,664.32 L479.6,664.86 L480.6,665.37 L481.6,665.86 L482.6,666.33 L483.6,666.77 L484.6,667.18 L485.6,667.57 L486.6,667.94 L487.6,668.29 L488.6,668.62 L489.6,668.92 L490.6,669.21 L491.6,669.48 L492.6,669.73 L493.6,669.96 L494.6,670.17 L495.6,670.37 L496.6,670.56 L497.6,670.73 L498.6,670.89 L499.6,671.04 L500.6,671.17 L501.6,671.30 L502.6,671.41 L503.6,671.52 L504.6,671.61 L505.6,671.70 L506.6,671.78 L507.6,671.85 L508.6,671.92 L509.6,671.98 L510.6,672.04 L511.6,672.08 L512.6,672.13 L513.6,672.17 L514.6,672.21 L515.6,672.24 L516.6,672.27 L517.6,672.29 L518.6,672.32 L519.6,672.34 L520.6,672.36 L521.6,672.37 L522.6,672.39 L523.6,672.40 L524.6,672.41 L525.6,672.43 L526.6,672.43 L527.6,672.44 L528.6,672.45 L529.6,672.46 L530.6,672.46 L531.6,672.47 L532.6,672.47 L533.6,672.48 L534.6,672.48 L535.6,672.48 L536.6,672.48 L537.6,672.49 L538.6,672.49 L539.6,672.49 L540.6,672.49 L541.6,672.49 L542.6,672.49 L543.6,672.49 L544.6,672.50 L545.6,672.50 L546.6,672.50 L547.6,672.50 L548.6,672.50 L549.6,672.50 L550.6,672.50 L551.6,672.50 L552.6,672.50 L553.6,672.50 L554.6,672.50 L555.6,672.50 L556.6,672.50 L557.6,672.50 L558.6,672.50 L559.6,672.50 L560.6,672.50 L561.6,672.50 L562.6,672.50 L563.6,672.50 L564.6,672.50 L565.6,672.50 L566.6,672.50 L567.6,672.50 L568.6,672.50 L569.6,672.50 L570.6,672.50 L571.6,672.50 L572.6,672.50 L573.6,672.50 L574.6,672.50 L575.6,672.50 L576.6,672.50 L577.6,672.50 L578.6,672.50 L579.6,672.50 L580.6,672.50 L581.6,672.50 L582.6,672.50 L583.6,672.50 L584.6,672.50 L585.6,672.50 L586.6,672.50 L587.6,672.50 L588.6,672.50 L589.6,672.50 L590.6,672.50 L591.6,672.50 L592.6,672.50 L593.6,672.50 L594.6,672.50 L595.6,672.50 L596.6,672.50 L597.6,672.50 L598.6,672.50 L599.6,672.50 L600.6,672.50 L601.6,672.50 L602.6,672.50 L603.6,672.50 L604.6,672.50 L605.6,672.50 L606.6,672.50 L607.6,672.50 L608.6,672.50 L609.6,672.50 L610.6,672.50 L611.6,672.50 L612.6,672.50 L613.6,672.50 L614.6,672.50 L615.6,672.50 L616.6,672.50 L617.6,672.50 L618.6,672.50 L619.6,672.50 L620.6,672.50 L621.6,672.50 L622.6,672.50 L623.6,672.50 L624.6,672.50 L625.6,672.50 L626.6,672.50 L627.6,672.50 L628.6,672.50 L629.6,672.50 L630.6,672.50 L631.6,672.50 L632.6,672.50 L633.6,672.50 L634.6,672.50 L635.6,672.50 L636.6,672.50 L637.6,672.50 L638.6,672.50 L639.6,672.50 L640.6,672.50 L641.6,672.50 L642.6,672.50 L643.6,672.50 L644.6,672.50 L645.6,672.50 L646.6,672.50 L647.6,672.50 L648.6,672.50 L649.6,672.50 L650.6,672.50 L651.6,672.50 L652.6,672.50 L653.6,672.50 L654.6,672.50 L655.6,672.50 L656.6,672.50 L657.6,672.50 L658.6,672.50 L659.6,672.50 L660.6,672.50 L661.6,672.50 L662.6,672.50 L663.6,672.50 L664.6,672.50 L665.6,672.50 L666.6,672.50 L667.6,672.50 L668.6,672.50 L669.6,672.50 L670.6,672.50 L671.6,672.50 L672.6,672.50 L673.6,672.50 L674.6,672.50 L675.6,672.50 L676.6,672.50 L677.6,672.50 L678.6,672.50 L679.6,672.50 L680.6,672.50 L681.6,672.50 L682.6,672.50 L683.6,672.50 L684.6,672.50 L685.6,672.50 L686.6,672.50 L687.6,672.50 L688.6,672.50 L689.6,672.50 L690.6,672.50 L691.6,672.50 L692.6,672.50 L693.6,672.50 L694.6,672.50 L695.6,672.50 L696.6,672.50 L697.6,672.50 L698.6,672.50 L699.6,672.50 L700.6,672.50 L701.6,672.50 L702.6,672.50 L703.6,672.50 L704.6,672.50 L705.6,672.50 L706.6,672.50 L707.6,672.50 L708.6,672.50 L709.6,672.50 L710.6,672.50 L711.6,672.50 L712.6,672.50 L713.6,672.50 L714.6,672.50 L715.6,672.50 L716.6,672.50 L717.6,672.50 L718.6,672.50 L719.6,672.50 L720.6,672.50 L721.6,672.50 L722.6,672.50 L723.6,672.50 L724.6,672.50 L725.6,672.50 L726.6,672.50 L727.6,672.50 L728.6,672.50 L729.6,672.50 L730.6,672.50 L731.6,672.50 L732.6,672.50 L733.6,672.50 L734.6,672.50 L735.6,672.50 L736.6,672.50 L737.6,672.50 L738.6,672.50 L739.6,672.50 L740.6,672.50 L741.6,672.50 L742.6,672.50 L743.6,672.50 L744.6,672.50 L745.6,672.50 L746.6,672.50 L747.6,672.50 L748.6,672.50 L749.6,672.50 L750.6,672.50 L751.6,672.50 L752.6,672.50 L753.6,672.50 L754.6,672.50 L755.6,672.50 L756.6,672.50 L757.6,672.50 L758.6,672.50 L759.6,672.50 L760.6,672.50 L761.6,672.50 L762.6,672.50 L763.6,672.50 L764.6,672.50 L765.6,672.50 L766.6,672.50 L767.6,672.50 L768.6,672.50 L769.6,672.50 L770.6,672.50 L771.6,672.50 L772.6,672.50 L773.6,672.50 L774.6,672.50 L775.6,672.50 L776.6,672.50 L777.6,672.50 L778.6,672.50 L779.6,672.50 L780.6,672.50 L781.6,672.50 L782.6,672.50 L783.6,672.50 L784.6,672.50 L785.6,672.50 L786.6,672.50 L787.6,672.50 L788.6,672.50 L789.6,672.50 L790.6,672.50 L791.6,672.50 L792.6,672.50 L793.6,672.50 L794.6,672.50 L795.6,672.50 L796.6,672.50 L797.6,672.50 L798.6,672.50 L799.6,672.50 L800.6,672.50 L801.6,672.50 L802.6,672.50 L803.6,672.50 L804.6,672.50 L805.6,672.50 L806.6,672.50 L807.6,672.50 L808.6,672.50 L809.6,672.50 L810.6,672.50 L811.6,672.50 L812.6,672.50 L813.6,672.50 L814.6,672.50 L815.6,672.50 L816.6,672.50 L817.6,672.50 L818.6,672.50 L819.6,672.50 L820.6,672.50 L821.6,672.50 L822.6,672.50 L823.6,672.50 L824.6,672.50 L825.6,672.50 L826.6,672.50 L827.6,672.50 L828.6,672.50 L829.6,672.50 L830.6,672.50 L831.6,672.50 L832.6,672.50 L833.6,672.50 L834.6,672.50 L835.6,672.50 L836.6,672.50 L837.6,672.50 L838.6,672.50 L839.6,672.50 L840.6,672.50 L841.6,672.50 L842.6,672.50 L843.6,672.50 L844.6,672.50 L845.6,672.50 L846.6,672.50 L847.6,672.50 L848.6,672.50 L849.6,672.50 L850.6,672.50 L851.6,672.50 L852.6,672.50 L853.6,672.50 L854.6,672.50 L855.6,672.50 L856.6,672.50 L857.6,672.50 L858.6,672.50 L859.6,672.50 L860.6,672.50 L861.6,672.50 L862.6,672.50 L863.6,672.50 L864.6,672.50 L865.6,672.50 L866.6,672.50 L867.6,672.50 L868.6,672.50 L869.6,672.50 L870.6,672.50 L871.6,672.50 L872.6,672.50 L873.6,672.50 L874.6,672.50 L875.6,672.50 L876.6,672.50 L877.6,672.50 L878.6,672.50 L879.6,672.50 L880.6,672.50 L881.6,672.50 L882.6,672.50 L883.6,672.50 L884.6,672.50 L885.6,672.50 L886.6,672.50 L887.6,672.50 L888.6,672.50 L889.6,672.50 L890.6,672.50 L891.6,672.50 L892.6,672.50 L893.6,672.50 L894.6,672.50 L895.6,672.50 L896.6,672.50 L897.6,672.50 L898.6,672.50 L899.6,672.50 L900.6,672.50 L901.6,672.50 L902.6,672.50 L903.6,672.50 L904.6,672.50 L905.6,672.50 L906.6,672.50 L907.6,672.50 L908.6,672.50 L909.6,672.50 L910.6,672.50 L911.6,672.50 L912.6,672.50 L913.6,672.50 L914.6,672.50 L915.6,672.50 L916.6,672.50 L917.6,672.50 L918.6,672.50 L919.6,672.50 L920.6,672.50 L921.6,672.50 L922.6,672.50 L923.6,672.50 L924.6,672.50 L925.6,672.50 L926.6,672.50 L927.6,672.50 L928.6,672.50 L929.6,672.50 L930.6,672.50 L931.6,672.50 L932.6,672.50 L933.6,672.50 L934.6,672.50 L935.6,672.50 L936.6,672.50 L937.6,672.50 L938.6,672.50 L939.6,672.50 L940.6,672.50 L941.6,672.50 L942.6,672.50 L943.6,672.50 L944.6,672.50 L945.6,672.50 L946.6,672.50 L947.6,672.50 L948.6,672.50 L949.6,672.50 L950.6,672.50 L951.6,672.50 L952.6,672.50 L953.6,672.50 L954.6,672.50 L955.6,672.50 L956.6,672.50 L957.6,672.50 L958.6,672.50 L959.6,672.50 L960.6,672.50 L961.6,672.50 L962.6,672.50 L963.6,672.50 L964.6,672.50 L965.6,672.50 L966.6,672.50 L967.6,672.50 L968.6,672.50 L969.6,672.50 L970.6,672.50 L971.6,672.50 L972.6,672.50 L973.6,672.50 L974.6,672.50 L975.6,672.50 L976.6,672.50 L977.6,672.50 L978.6,672.50 L979.6,672.50 L980.6,672.50 L981.6,672.50 L982.6,672.50 L983.6,672.50 L984.6,672.50 L985.6,672.50 L986.6,672.50 L987.6,672.50 L988.6,672.50 L989.6,672.50 L990.6,672.50 L991.6,672.50 L992.6,672.50 L993.6,672.50 L994.6,672.50 L995.6,672.50 L996.6,672.50 L997.6,672.50 L998.6,672.50 L999.6,672.50 L1000.6,672.50 L1001.6,672.50 L1002.6,672.50 L1003.6,672.50 L1004.6,672.50 L1005.6,672.50 L1006.6,672.50 L1007.6,672.50" fill="none" stroke="#0000FF" stroke-width="3.3" stroke-linejoin="round"/>
<path d="M119.6,672.50 L120.6,672.50 L121.6,672.50 L122.6,672.50 L123.6,672.50 L124.6,672.50 L125.6,672.50 L126.6,672.50 L127.6,672.50 L128.6,672.50 L129.6,672.50 L130.6,672.50 L131.6,672.50 L132.6,672.50 L133.6,672.50 L134.6,672.50 L135.6,672.50 L136.6,672.50 L137.6,672.50 L138.6,672.50 L139.6,672.50 L140.6,672.50 L141.6,672.50 L142.6,672.50 L143.6,672.50 L144.6,672.50 L145.6,672.50 L146.6,672.50 L147.6,672.50 L148.6,672.50 L149.6,672.50 L150.6,672.50 L151.6,672.50 L152.6,672.50 L153.6,672.50 L154.6,672.50 L155.6,672.50 L156.6,672.50 L157.6,672.50 L158.6,672.50 L159.6,672.50 L160.6,672.50 L161.6,672.50 L162.6,672.50 L163.6,672.50 L164.6,672.50 L165.6,672.50 L166.6,672.50 L167.6,672.50 L168.6,672.50 L169.6,672.50 L170.6,672.50 L171.6,672.50 L172.6,672.50 L173.6,672.50 L174.6,672.50 L175.6,672.50 L176.6,672.50 L177.6,672.50 L178.6,672.50 L179.6,672.50 L180.6,672.50 L181.6,672.50 L182.6,672.50 L183.6,672.50 L184.6,672.50 L185.6,672.50 L186.6,672.50 L187.6,672.50 L188.6,672.50 L189.6,672.50 L190.6,672.50 L191.6,672.50 L192.6,672.50 L193.6,672.50 L194.6,672.50 L195.6,672.50 L196.6,672.50 L197.6,672.50 L198.6,672.50 L199.6,672.50 L200.6,672.50 L201.6,672.50 L202.6,672.50 L203.6,672.50 L204.6,672.50 L205.6,672.50 L206.6,672.50 L207.6,672.50 L208.6,672.50 L209.6,672.50 L210.6,672.50 L211.6,672.50 L212.6,672.50 L213.6,672.50 L214.6,672.50 L215.6,672.50 L216.6,672.50 L217.6,672.50 L218.6,672.50 L219.6,672.50 L220.6,672.50 L221.6,672.50 L222.6,672.50 L223.6,672.50 L224.6,672.50 L225.6,672.50 L226.6,672.50 L227.6,672.50 L228.6,672.50 L229.6,672.50 L230.6,672.50 L231.6,672.50 L232.6,672.50 L233.6,672.50 L234.6,672.50 L235.6,672.50 L236.6,672.50 L237.6,672.50 L238.6,672.50 L239.6,672.50 L240.6,672.50 L241.6,672.50 L242.6,672.50 L243.6,672.50 L244.6,672.50 L245.6,672.50 L246.6,672.50 L247.6,672.50 L248.6,672.50 L249.6,672.50 L250.6,672.50 L251.6,672.50 L252.6,672.50 L253.6,672.50 L254.6,672.50 L255.6,672.50 L256.6,672.50 L257.6,672.50 L258.6,672.50 L259.6,672.50 L260.6,672.50 L261.6,672.50 L262.6,672.50 L263.6,672.50 L264.6,672.50 L265.6,672.50 L266.6,672.50 L267.6,672.50 L268.6,672.50 L269.6,672.50 L270.6,672.50 L271.6,672.50 L272.6,672.50 L273.6,672.50 L274.6,672.50 L275.6,672.50 L276.6,672.50 L277.6,672.50 L278.6,672.50 L279.6,672.50 L280.6,672.50 L281.6,672.50 L282.6,672.50 L283.6,672.50 L284.6,672.50 L285.6,672.50 L286.6,672.50 L287.6,672.50 L288.6,672.50 L289.6,672.50 L290.6,672.50 L291.6,672.50 L292.6,672.50 L293.6,672.50 L294.6,672.50 L295.6,672.50 L296.6,672.50 L297.6,672.50 L298.6,672.50 L299.6,672.50 L300.6,672.50 L301.6,672.50 L302.6,672.50 L303.6,672.50 L304.6,672.50 L305.6,672.50 L306.6,672.50 L307.6,672.50 L308.6,672.50 L309.6,672.50 L310.6,672.50 L311.6,672.50 L312.6,672.50 L313.6,672.50 L314.6,672.50 L315.6,672.50 L316.6,672.50 L317.6,672.50 L318.6,672.50 L319.6,672.50 L320.6,672.50 L321.6,672.50 L322.6,672.50 L323.6,672.50 L324.6,672.50 L325.6,672.50 L326.6,672.50 L327.6,672.50 L328.6,672.50 L329.6,672.50 L330.6,672.50 L331.6,672.50 L332.6,672.50 L333.6,672.50 L334.6,672.50 L335.6,672.50 L336.6,672.50 L337.6,672.50 L338.6,672.50 L339.6,672.50 L340.6,672.50 L341.6,672.50 L342.6,672.50 L343.6,672.50 L344.6,672.50 L345.6,672.50 L346.6,672.50 L347.6,672.50 L348.6,672.50 L349.6,672.50 L350.6,672.50 L351.6,672.50 L352.6,672.50 L353.6,672.50 L354.6,672.50 L355.6,672.50 L356.6,672.50 L357.6,672.50 L358.6,672.50 L359.6,672.50 L360.6,672.50 L361.6,672.50 L362.6,672.50 L363.6,672.50 L364.6,672.50 L365.6,672.50 L366.6,672.50 L367.6,672.50 L368.6,672.50 L369.6,672.50 L370.6,672.50 L371.6,672.50 L372.6,672.50 L373.6,672.50 L374.6,672.50 L375.6,672.50 L376.6,672.50 L377.6,672.50 L378.6,672.50 L379.6,672.50 L380.6,672.50 L381.6,672.50 L382.6,672.50 L383.6,672.50 L384.6,672.50 L385.6,672.50 L386.6,672.50 L387.6,672.50 L388.6,672.50 L389.6,672.50 L390.6,672.50 L391.6,672.50 L392.6,672.50 L393.6,672.50 L394.6,672.50 L395.6,672.50 L396.6,672.50 L397.6,672.50 L398.6,672.50 L399.6,672.50 L400.6,672.50 L401.6,672.50 L402.6,672.50 L403.6,672.49 L404.6,672.49 L405.6,672.49 L406.6,672.49 L407.6,672.48 L408.6,672.48 L409.6,672.48 L410.6,672.47 L411.6,672.46 L412.6,672.45 L413.6,672.44 L414.6,672.43 L415.6,672.41 L416.6,672.39 L417.6,672.36 L418.6,672.33 L419.6,672.29 L420.6,672.25 L421.6,672.19 L422.6,672.13 L423.6,672.06 L424.6,671.97 L425.6,671.86 L426.6,671.74 L427.6,671.61 L428.6,671.44 L429.6,671.26 L430.6,671.05 L431.6,670.80 L432.6,670.52 L433.6,670.21 L434.6,669.86 L435.6,669.46 L436.6,669.01 L437.6,668.51 L438.6,667.96 L439.6,667.35 L440.6,666.68 L441.6,665.94 L442.6,665.14 L443.6,664.27 L444.6,663.33 L445.6,662.32 L446.6,661.24 L447.6,660.09 L448.6,658.87 L449.6,657.58 L450.6,656.23 L451.6,654.82 L452.6,653.36 L453.6,651.86 L454.6,650.31 L455.6,648.73 L456.6,647.14 L457.6,645.53 L458.6,643.93 L459.6,642.34 L460.6,640.77 L461.6,639.24 L462.6,637.77 L463.6,636.35 L464.6,635.02 L465.6,633.78 L466.6,632.64 L467.6,631.61 L468.6,630.70 L469.6,629.93 L470.6,629.31 L471.6,628.83 L472.6,628.50 L473.6,628.33 L474.6,628.32 L475.6,628.46 L476.6,628.77 L477.6,629.22 L478.6,629.83 L479.6,630.58 L480.6,631.46 L481.6,632.47 L482.6,633.59 L483.6,634.82 L484.6,636.14 L485.6,637.54 L486.6,639.01 L487.6,640.53 L488.6,642.09 L489.6,643.68 L490.6,645.29 L491.6,646.89 L492.6,648.49 L493.6,650.07 L494.6,651.62 L495.6,653.13 L496.6,654.60 L497.6,656.02 L498.6,657.38 L499.6,658.67 L500.6,659.90 L501.6,661.07 L502.6,662.16 L503.6,663.18 L504.6,664.13 L505.6,665.01 L506.6,665.82 L507.6,666.57 L508.6,667.25 L509.6,667.87 L510.6,668.43 L511.6,668.94 L512.6,669.39 L513.6,669.80 L514.6,670.16 L515.6,670.48 L516.6,670.76 L517.6,671.01 L518.6,671.23 L519.6,671.42 L520.6,671.58 L521.6,671.72 L522.6,671.85 L523.6,671.95 L524.6,672.04 L525.6,672.12 L526.6,672.18 L527.6,672.24 L528.6,672.28 L529.6,672.32 L530.6,672.36 L531.6,672.38 L532.6,672.40 L533.6,672.42 L534.6,672.44 L535.6,672.45 L536.6,672.46 L537.6,672.47 L538.6,672.47 L539.6,672.48 L540.6,672.48 L541.6,672.49 L542.6,672.49 L543.6,672.49 L544.6,672.49 L545.6,672.50 L546.6,672.50 L547.6,672.50 L548.6,672.50 L549.6,672.50 L550.6,672.50 L551.6,672.50 L552.6,672.50 L553.6,672.50 L554.6,672.50 L555.6,672.50 L556.6,672.50 L557.6,672.50 L558.6,672.50 L559.6,672.50 L560.6,672.50 L561.6,672.50 L562.6,672.50 L563.6,672.50 L564.6,672.50 L565.6,672.50 L566.6,672.50 L567.6,672.50 L568.6,672.50 L569.6,672.50 L570.6,672.50 L571.6,672.50 L572.6,672.50 L573.6,672.50 L574.6,672.50 L575.6,672.50 L576.6,672.50 L577.6,672.50 L578.6,672.50 L579.6,672.50 L580.6,672.50 L581.6,672.50 L582.6,672.50 L583.6,672.50 L584.6,672.50 L585.6,672.50 L586.6,672.50 L587.6,672.50 L588.6,672.50 L589.6,672.50 L590.6,672.50 L591.6,672.50 L592.6,672.50 L593.6,672.50 L594.6,672.50 L595.6,672.50 L596.6,672.50 L597.6,672.50 L598.6,672.50 L599.6,672.50 L600.6,672.50 L601.6,672.50 L602.6,672.50 L603.6,672.50 L604.6,672.50 L605.6,672.50 L606.6,672.50 L607.6,672.50 L608.6,672.50 L609.6,672.50 L610.6,672.50 L611.6,672.50 L612.6,672.50 L613.6,672.50 L614.6,672.50 L615.6,672.50 L616.6,672.50 L617.6,672.50 L618.6,672.50 L619.6,672.50 L620.6,672.50 L621.6,672.50 L622.6,672.50 L623.6,672.50 L624.6,672.50 L625.6,672.50 L626.6,672.50 L627.6,672.50 L628.6,672.50 L629.6,672.50 L630.6,672.50 L631.6,672.50 L632.6,672.50 L633.6,672.50 L634.6,672.50 L635.6,672.50 L636.6,672.50 L637.6,672.50 L638.6,672.50 L639.6,672.50 L640.6,672.50 L641.6,672.50 L642.6,672.50 L643.6,672.50 L644.6,672.50 L645.6,672.50 L646.6,672.50 L647.6,672.50 L648.6,672.50 L649.6,672.50 L650.6,672.50 L651.6,672.50 L652.6,672.50 L653.6,672.50 L654.6,672.50 L655.6,672.50 L656.6,672.50 L657.6,672.50 L658.6,672.50 L659.6,672.50 L660.6,672.50 L661.6,672.50 L662.6,672.50 L663.6,672.50 L664.6,672.50 L665.6,672.50 L666.6,672.50 L667.6,672.50 L668.6,672.50 L669.6,672.50 L670.6,672.50 L671.6,672.50 L672.6,672.50 L673.6,672.50 L674.6,672.50 L675.6,672.50 L676.6,672.50 L677.6,672.50 L678.6,672.50 L679.6,672.50 L680.6,672.50 L681.6,672.50 L682.6,672.50 L683.6,672.50 L684.6,672.50 L685.6,672.50 L686.6,672.50 L687.6,672.50 L688.6,672.50 L689.6,672.50 L690.6,672.50 L691.6,672.50 L692.6,672.50 L693.6,672.50 L694.6,672.50 L695.6,672.50 L696.6,672.50 L697.6,672.50 L698.6,672.50 L699.6,672.50 L700.6,672.50 L701.6,672.50 L702.6,672.50 L703.6,672.50 L704.6,672.50 L705.6,672.50 L706.6,672.50 L707.6,672.50 L708.6,672.50 L709.6,672.50 L710.6,672.50 L711.6,672.50 L712.6,672.50 L713.6,672.50 L714.6,672.50 L715.6,672.50 L716.6,672.50 L717.6,672.50 L718.6,672.50 L719.6,672.50 L720.6,672.50 L721.6,672.50 L722.6,672.50 L723.6,672.50 L724.6,672.50 L725.6,672.50 L726.6,672.50 L727.6,672.50 L728.6,672.50 L729.6,672.50 L730.6,672.50 L731.6,672.50 L732.6,672.50 L733.6,672.50 L734.6,672.50 L735.6,672.50 L736.6,672.50 L737.6,672.50 L738.6,672.50 L739.6,672.50 L740.6,672.50 L741.6,672.50 L742.6,672.50 L743.6,672.50 L744.6,672.50 L745.6,672.50 L746.6,672.50 L747.6,672.50 L748.6,672.50 L749.6,672.50 L750.6,672.50 L751.6,672.50 L752.6,672.50 L753.6,672.50 L754.6,672.50 L755.6,672.50 L756.6,672.50 L757.6,672.50 L758.6,672.50 L759.6,672.50 L760.6,672.50 L761.6,672.50 L762.6,672.50 L763.6,672.50 L764.6,672.50 L765.6,672.50 L766.6,672.50 L767.6,672.50 L768.6,672.50 L769.6,672.50 L770.6,672.50 L771.6,672.50 L772.6,672.50 L773.6,672.50 L774.6,672.50 L775.6,672.50 L776.6,672.50 L777.6,672.50 L778.6,672.50 L779.6,672.50 L780.6,672.50 L781.6,672.50 L782.6,672.50 L783.6,672.50 L784.6,672.50 L785.6,672.50 L786.6,672.50 L787.6,672.50 L788.6,672.50 L789.6,672.50 L790.6,672.50 L791.6,672.50 L792.6,672.50 L793.6,672.50 L794.6,672.50 L795.6,672.50 L796.6,672.50 L797.6,672.50 L798.6,672.50 L799.6,672.50 L800.6,672.50 L801.6,672.50 L802.6,672.50 L803.6,672.50 L804.6,672.50 L805.6,672.50 L806.6,672.50 L807.6,672.50 L808.6,672.50 L809.6,672.50 L810.6,672.50 L811.6,672.50 L812.6,672.50 L813.6,672.50 L814.6,672.50 L815.6,672.50 L816.6,672.50 L817.6,672.50 L818.6,672.50 L819.6,672.50 L820.6,672.50 L821.6,672.50 L822.6,672.50 L823.6,672.50 L824.6,672.50 L825.6,672.50 L826.6,672.50 L827.6,672.50 L828.6,672.50 L829.6,672.50 L830.6,672.50 L831.6,672.50 L832.6,672.50 L833.6,672.50 L834.6,672.50 L835.6,672.50 L836.6,672.50 L837.6,672.50 L838.6,672.50 L839.6,672.50 L840.6,672.50 L841.6,672.50 L842.6,672.50 L843.6,672.50 L844.6,672.50 L845.6,672.50 L846.6,672.50 L847.6,672.50 L848.6,672.50 L849.6,672.50 L850.6,672.50 L851.6,672.50 L852.6,672.50 L853.6,672.50 L854.6,672.50 L855.6,672.50 L856.6,672.50 L857.6,672.50 L858.6,672.50 L859.6,672.50 L860.6,672.50 L861.6,672.50 L862.6,672.50 L863.6,672.50 L864.6,672.50 L865.6,672.50 L866.6,672.50 L867.6,672.50 L868.6,672.50 L869.6,672.50 L870.6,672.50 L871.6,672.50 L872.6,672.50 L873.6,672.50 L874.6,672.50 L875.6,672.50 L876.6,672.50 L877.6,672.50 L878.6,672.50 L879.6,672.50 L880.6,672.50 L881.6,672.50 L882.6,672.50 L883.6,672.50 L884.6,672.50 L885.6,672.50 L886.6,672.50 L887.6,672.50 L888.6,672.50 L889.6,672.50 L890.6,672.50 L891.6,672.50 L892.6,672.50 L893.6,672.50 L894.6,672.50 L895.6,672.50 L896.6,672.50 L897.6,672.50 L898.6,672.50 L899.6,672.50 L900.6,672.50 L901.6,672.50 L902.6,672.50 L903.6,672.50 L904.6,672.50 L905.6,672.50 L906.6,672.50 L907.6,672.50 L908.6,672.50 L909.6,672.50 L910.6,672.50 L911.6,672.50 L912.6,672.50 L913.6,672.50 L914.6,672.50 L915.6,672.50 L916.6,672.50 L917.6,672.50 L918.6,672.50 L919.6,672.50 L920.6,672.50 L921.6,672.50 L922.6,672.50 L923.6,672.50 L924.6,672.50 L925.6,672.50 L926.6,672.50 L927.6,672.50 L928.6,672.50 L929.6,672.50 L930.6,672.50 L931.6,672.50 L932.6,672.50 L933.6,672.50 L934.6,672.50 L935.6,672.50 L936.6,672.50 L937.6,672.50 L938.6,672.50 L939.6,672.50 L940.6,672.50 L941.6,672.50 L942.6,672.50 L943.6,672.50 L944.6,672.50 L945.6,672.50 L946.6,672.50 L947.6,672.50 L948.6,672.50 L949.6,672.50 L950.6,672.50 L951.6,672.50 L952.6,672.50 L953.6,672.50 L954.6,672.50 L955.6,672.50 L956.6,672.50 L957.6,672.50 L958.6,672.50 L959.6,672.50 L960.6,672.50 L961.6,672.50 L962.6,672.50 L963.6,672.50 L964.6,672.50 L965.6,672.50 L966.6,672.50 L967.6,672.50 L968.6,672.50 L969.6,672.50 L970.6,672.50 L971.6,672.50 L972.6,672.50 L973.6,672.50 L974.6,672.50 L975.6,672.50 L976.6,672.50 L977.6,672.50 L978.6,672.50 L979.6,672.50 L980.6,672.50 L981.6,672.50 L982.6,672.50 L983.6,672.50 L984.6,672.50 L985.6,672.50 L986.6,672.50 L987.6,672.50 L988.6,672.50 L989.6,672.50 L990.6,672.50 L991.6,672.50 L992.6,672.50 L993.6,672.50 L994.6,672.50 L995.6,672.50 L996.6,672.50 L997.6,672.50 L998.6,672.50 L999.6,672.50 L1000.6,672.50 L1001.6,672.50 L1002.6,672.50 L1003.6,672.50 L1004.6,672.50 L1005.6,672.50 L1006.6,672.50 L1007.6,672.50" fill="none" stroke="#00F0F0" stroke-width="3.3" stroke-linejoin="round"/>
<path d="M119.6,672.50 L120.6,672.50 L121.6,672.50 L122.6,672.50 L123.6,672.50 L124.6,672.50 L125.6,672.50 L126.6,672.50 L127.6,672.50 L128.6,672.50 L129.6,672.50 L130.6,672.50 L131.6,672.50 L132.6,672.50 L133.6,672.50 L134.6,672.50 L135.6,672.50 L136.6,672.50 L137.6,672.50 L138.6,672.50 L139.6,672.50 L140.6,672.50 L141.6,672.50 L142.6,672.50 L143.6,672.50 L144.6,672.50 L145.6,672.50 L146.6,672.50 L147.6,672.50 L148.6,672.50 L149.6,672.50 L150.6,672.50 L151.6,672.50 L152.6,672.50 L153.6,672.50 L154.6,672.50 L155.6,672.50 L156.6,672.50 L157.6,672.50 L158.6,672.50 L159.6,672.50 L160.6,672.50 L161.6,672.50 L162.6,672.50 L163.6,672.50 L164.6,672.50 L165.6,672.50 L166.6,672.50 L167.6,672.50 L168.6,672.50 L169.6,672.50 L170.6,672.50 L171.6,672.50 L172.6,672.50 L173.6,672.50 L174.6,672.50 L175.6,672.50 L176.6,672.50 L177.6,672.50 L178.6,672.50 L179.6,672.50 L180.6,672.50 L181.6,672.50 L182.6,672.50 L183.6,672.50 L184.6,672.50 L185.6,672.50 L186.6,672.50 L187.6,672.50 L188.6,672.50 L189.6,672.50 L190.6,672.50 L191.6,672.50 L192.6,672.50 L193.6,672.50 L194.6,672.50 L195.6,672.50 L196.6,672.50 L197.6,672.50 L198.6,672.50 L199.6,672.50 L200.6,672.50 L201.6,672.50 L202.6,672.50 L203.6,672.50 L204.6,672.50 L205.6,672.50 L206.6,672.50 L207.6,672.50 L208.6,672.50 L209.6,672.50 L210.6,672.50 L211.6,672.50 L212.6,672.50 L213.6,672.50 L214.6,672.50 L215.6,672.50 L216.6,672.50 L217.6,672.50 L218.6,672.50 L219.6,672.50 L220.6,672.50 L221.6,672.50 L222.6,672.50 L223.6,672.50 L224.6,672.50 L225.6,672.50 L226.6,672.50 L227.6,672.50 L228.6,672.50 L229.6,672.50 L230.6,672.50 L231.6,672.50 L232.6,672.50 L233.6,672.50 L234.6,672.50 L235.6,672.50 L236.6,672.50 L237.6,672.50 L238.6,672.50 L239.6,672.50 L240.6,672.50 L241.6,672.50 L242.6,672.50 L243.6,672.50 L244.6,672.50 L245.6,672.50 L246.6,672.50 L247.6,672.50 L248.6,672.50 L249.6,672.50 L250.6,672.50 L251.6,672.50 L252.6,672.50 L253.6,672.50 L254.6,672.50 L255.6,672.50 L256.6,672.50 L257.6,672.50 L258.6,672.50 L259.6,672.50 L260.6,672.50 L261.6,672.50 L262.6,672.50 L263.6,672.50 L264.6,672.50 L265.6,672.50 L266.6,672.50 L267.6,672.50 L268.6,672.50 L269.6,672.50 L270.6,672.50 L271.6,672.50 L272.6,672.50 L273.6,672.50 L274.6,672.50 L275.6,672.50 L276.6,672.50 L277.6,672.50 L278.6,672.50 L279.6,672.50 L280.6,672.50 L281.6,672.50 L282.6,672.50 L283.6,672.50 L284.6,672.50 L285.6,672.50 L286.6,672.50 L287.6,672.50 L288.6,672.50 L289.6,672.50 L290.6,672.50 L291.6,672.50 L292.6,672.50 L293.6,672.50 L294.6,672.50 L295.6,672.50 L296.6,672.50 L297.6,672.50 L298.6,672.50 L299.6,672.50 L300.6,672.50 L301.6,672.50 L302.6,672.50 L303.6,672.50 L304.6,672.50 L305.6,672.50 L306.6,672.50 L307.6,672.50 L308.6,672.50 L309.6,672.50 L310.6,672.50 L311.6,672.50 L312.6,672.50 L313.6,672.50 L314.6,672.50 L315.6,672.50 L316.6,672.50 L317.6,672.50 L318.6,672.50 L319.6,672.50 L320.6,672.50 L321.6,672.50 L322.6,672.50 L323.6,672.50 L324.6,672.50 L325.6,672.50 L326.6,672.50 L327.6,672.50 L328.6,672.50 L329.6,672.50 L330.6,672.50 L331.6,672.50 L332.6,672.50 L333.6,672.50 L334.6,672.50 L335.6,672.50 L336.6,672.50 L337.6,672.50 L338.6,672.50 L339.6,672.50 L340.6,672.50 L341.6,672.50 L342.6,672.50 L343.6,672.50 L344.6,672.50 L345.6,672.50 L346.6,672.50 L347.6,672.50 L348.6,672.50 L349.6,672.50 L350.6,672.50 L351.6,672.50 L352.6,672.50 L353.6,672.50 L354.6,672.50 L355.6,672.50 L356.6,672.50 L357.6,672.50 L358.6,672.50 L359.6,672.50 L360.6,672.50 L361.6,672.50 L362.6,672.50 L363.6,672.50 L364.6,672.50 L365.6,672.50 L366.6,672.50 L367.6,672.50 L368.6,672.50 L369.6,672.50 L370.6,672.50 L371.6,672.50 L372.6,672.50 L373.6,672.50 L374.6,672.50 L375.6,672.50 L376.6,672.50 L377.6,672.50 L378.6,672.50 L379.6,672.50 L380.6,672.50 L381.6,672.50 L382.6,672.50 L383.6,672.50 L384.6,672.50 L385.6,672.50 L386.6,672.50 L387.6,672.50 L388.6,672.50 L389.6,672.50 L390.6,672.50 L391.6,672.50 L392.6,672.50 L393.6,672.50 L394.6,672.50 L395.6,672.50 L396.6,672.50 L397.6,672.50 L398.6,672.50 L399.6,672.50 L400.6,672.50 L401.6,672.50 L402.6,672.50 L403.6,672.50 L404.6,672.50 L405.6,672.50 L406.6,672.50 L407.6,672.50 L408.6,672.50 L409.6,672.50 L410.6,672.50 L411.6,672.50 L412.6,672.50 L413.6,672.50 L414.6,672.50 L415.6,672.50 L416.6,672.50 L417.6,672.50 L418.6,672.50 L419.6,672.50 L420.6,672.50 L421.6,672.50 L422.6,672.50 L423.6,672.50 L424.6,672.50 L425.6,672.50 L426.6,672.50 L427.6,672.50 L428.6,672.50 L429.6,672.50 L430.6,672.50 L431.6,672.50 L432.6,672.50 L433.6,672.50 L434.6,672.50 L435.6,672.50 L436.6,672.50 L437.6,672.50 L438.6,672.50 L439.6,672.50 L440.6,672.50 L441.6,672.50 L442.6,672.49 L443.6,672.49 L444.6,672.49 L445.6,672.48 L446.6,672.48 L447.6,672.47 L448.6,672.46 L449.6,672.44 L450.6,672.42 L451.6,672.39 L452.6,672.35 L453.6,672.30 L454.6,672.23 L455.6,672.14 L456.6,672.03 L457.6,671.88 L458.6,671.70 L459.6,671.47 L460.6,671.17 L461.6,670.81 L462.6,670.37 L463.6,669.82 L464.6,669.16 L465.6,668.36 L466.6,667.41 L467.6,666.29 L468.6,664.97 L469.6,663.42 L470.6,661.64 L471.6,659.60 L472.6,657.27 L473.6,654.66 L474.6,651.73 L475.6,648.49 L476.6,644.94 L477.6,641.08 L478.6,636.93 L479.6,632.50 L480.6,627.82 L481.6,622.95 L482.6,617.92 L483.6,612.79 L484.6,607.63 L485.6,602.50 L486.6,597.49 L487.6,592.67 L488.6,588.13 L489.6,583.94 L490.6,580.17 L491.6,576.91 L492.6,574.21 L493.6,572.13 L494.6,570.71 L495.6,569.97 L496.6,569.94 L497.6,570.62 L498.6,571.98 L499.6,574.01 L500.6,576.65 L501.6,579.87 L502.6,583.59 L503.6,587.75 L504.6,592.27 L505.6,597.07 L506.6,602.06 L507.6,607.18 L508.6,612.34 L509.6,617.48 L510.6,622.52 L511.6,627.41 L512.6,632.10 L513.6,636.55 L514.6,640.73 L515.6,644.62 L516.6,648.20 L517.6,651.46 L518.6,654.42 L519.6,657.06 L520.6,659.41 L521.6,661.47 L522.6,663.28 L523.6,664.84 L524.6,666.18 L525.6,667.32 L526.6,668.29 L527.6,669.10 L528.6,669.77 L529.6,670.32 L530.6,670.78 L531.6,671.15 L532.6,671.44 L533.6,671.68 L534.6,671.87 L535.6,672.02 L536.6,672.13 L537.6,672.22 L538.6,672.29 L539.6,672.35 L540.6,672.39 L541.6,672.42 L542.6,672.44 L543.6,672.46 L544.6,672.47 L545.6,672.48 L546.6,672.48 L547.6,672.49 L548.6,672.49 L549.6,672.49 L550.6,672.50 L551.6,672.50 L552.6,672.50 L553.6,672.50 L554.6,672.50 L555.6,672.50 L556.6,672.50 L557.6,672.50 L558.6,672.50 L559.6,672.50 L560.6,672.50 L561.6,672.50 L562.6,672.50 L563.6,672.50 L564.6,672.50 L565.6,672.50 L566.6,672.50 L567.6,672.50 L568.6,672.50 L569.6,672.50 L570.6,672.50 L571.6,672.50 L572.6,672.50 L573.6,672.50 L574.6,672.50 L575.6,672.50 L576.6,672.50 L577.6,672.50 L578.6,672.50 L579.6,672.50 L580.6,672.50 L581.6,672.50 L582.6,672.50 L583.6,672.50 L584.6,672.50 L585.6,672.50 L586.6,672.50 L587.6,672.50 L588.6,672.50 L589.6,672.50 L590.6,672.50 L591.6,672.50 L592.6,672.50 L593.6,672.50 L594.6,672.50 L595.6,672.50 L596.6,672.50 L597.6,672.50 L598.6,672.50 L599.6,672.50 L600.6,672.50 L601.6,672.50 L602.6,672.50 L603.6,672.50 L604.6,672.50 L605.6,672.50 L606.6,672.50 L607.6,672.50 L608.6,672.50 L609.6,672.50 L610.6,672.50 L611.6,672.50 L612.6,672.50 L613.6,672.50 L614.6,672.50 L615.6,672.50 L616.6,672.50 L617.6,672.50 L618.6,672.50 L619.6,672.50 L620.6,672.50 L621.6,672.50 L622.6,672.50 L623.6,672.50 L624.6,672.50 L625.6,672.50 L626.6,672.50 L627.6,672.50 L628.6,672.50 L629.6,672.50 L630.6,672.50 L631.6,672.50 L632.6,672.50 L633.6,672.50 L634.6,672.50 L635.6,672.50 L636.6,672.50 L637.6,672.50 L638.6,672.50 L639.6,672.50 L640.6,672.50 L641.6,672.50 L642.6,672.50 L643.6,672.50 L644.6,672.50 L645.6,672.50 L646.6,672.50 L647.6,672.50 L648.6,672.50 L649.6,672.50 L650.6,672.50 L651.6,672.50 L652.6,672.50 L653.6,672.50 L654.6,672.50 L655.6,672.50 L656.6,672.50 L657.6,672.50 L658.6,672.50 L659.6,672.50 L660.6,672.50 L661.6,672.50 L662.6,672.50 L663.6,672.50 L664.6,672.50 L665.6,672.50 L666.6,672.50 L667.6,672.50 L668.6,672.50 L669.6,672.50 L670.6,672.50 L671.6,672.50 L672.6,672.50 L673.6,672.50 L674.6,672.50 L675.6,672.50 L676.6,672.50 L677.6,672.50 L678.6,672.50 L679.6,672.50 L680.6,672.50 L681.6,672.50 L682.6,672.50 L683.6,672.50 L684.6,672.50 L685.6,672.50 L686.6,672.50 L687.6,672.50 L688.6,672.50 L689.6,672.50 L690.6,672.50 L691.6,672.50 L692.6,672.50 L693.6,672.50 L694.6,672.50 L695.6,672.50 L696.6,672.50 L697.6,672.50 L698.6,672.50 L699.6,672.50 L700.6,672.50 L701.6,672.50 L702.6,672.50 L703.6,672.50 L704.6,672.50 L705.6,672.50 L706.6,672.50 L707.6,672.50 L708.6,672.50 L709.6,672.50 L710.6,672.50 L711.6,672.50 L712.6,672.50 L713.6,672.50 L714.6,672.50 L715.6,672.50 L716.6,672.50 L717.6,672.50 L718.6,672.50 L719.6,672.50 L720.6,672.50 L721.6,672.50 L722.6,672.50 L723.6,672.50 L724.6,672.50 L725.6,672.50 L726.6,672.50 L727.6,672.50 L728.6,672.50 L729.6,672.50 L730.6,672.50 L731.6,672.50 L732.6,672.50 L733.6,672.50 L734.6,672.50 L735.6,672.50 L736.6,672.50 L737.6,672.50 L738.6,672.50 L739.6,672.50 L740.6,672.50 L741.6,672.50 L742.6,672.50 L743.6,672.50 L744.6,672.50 L745.6,672.50 L746.6,672.50 L747.6,672.50 L748.6,672.50 L749.6,672.50 L750.6,672.50 L751.6,672.50 L752.6,672.50 L753.6,672.50 L754.6,672.50 L755.6,672.50 L756.6,672.50 L757.6,672.50 L758.6,672.50 L759.6,672.50 L760.6,672.50 L761.6,672.50 L762.6,672.50 L763.6,672.50 L764.6,672.50 L765.6,672.50 L766.6,672.50 L767.6,672.50 L768.6,672.50 L769.6,672.50 L770.6,672.50 L771.6,672.50 L772.6,672.50 L773.6,672.50 L774.6,672.50 L775.6,672.50 L776.6,672.50 L777.6,672.50 L778.6,672.50 L779.6,672.50 L780.6,672.50 L781.6,672.50 L782.6,672.50 L783.6,672.50 L784.6,672.50 L785.6,672.50 L786.6,672.50 L787.6,672.50 L788.6,672.50 L789.6,672.50 L790.6,672.50 L791.6,672.50 L792.6,672.50 L793.6,672.50 L794.6,672.50 L795.6,672.50 L796.6,672.50 L797.6,672.50 L798.6,672.50 L799.6,672.50 L800.6,672.50 L801.6,672.50 L802.6,672.50 L803.6,672.50 L804.6,672.50 L805.6,672.50 L806.6,672.50 L807.6,672.50 L808.6,672.50 L809.6,672.50 L810.6,672.50 L811.6,672.50 L812.6,672.50 L813.6,672.50 L814.6,672.50 L815.6,672.50 L816.6,672.50 L817.6,672.50 L818.6,672.50 L819.6,672.50 L820.6,672.50 L821.6,672.50 L822.6,672.50 L823.6,672.50 L824.6,672.50 L825.6,672.50 L826.6,672.50 L827.6,672.50 L828.6,672.50 L829.6,672.50 L830.6,672.50 L831.6,672.50 L832.6,672.50 L833.6,672.50 L834.6,672.50 L835.6,672.50 L836.6,672.50 L837.6,672.50 L838.6,672.50 L839.6,672.50 L840.6,672.50 L841.6,672.50 L842.6,672.50 L843.6,672.50 L844.6,672.50 L845.6,672.50 L846.6,672.50 L847.6,672.50 L848.6,672.50 L849.6,672.50 L850.6,672.50 L851.6,672.50 L852.6,672.50 L853.6,672.50 L854.6,672.50 L855.6,672.50 L856.6,672.50 L857.6,672.50 L858.6,672.50 L859.6,672.50 L860.6,672.50 L861.6,672.50 L862.6,672.50 L863.6,672.50 L864.6,672.50 L865.6,672.50 L866.6,672.50 L867.6,672.50 L868.6,672.50 L869.6,672.50 L870.6,672.50 L871.6,672.50 L872.6,672.50 L873.6,672.50 L874.6,672.50 L875.6,672.50 L876.6,672.50 L877.6,672.50 L878.6,672.50 L879.6,672.50 L880.6,672.50 L881.6,672.50 L882.6,672.50 L883.6,672.50 L884.6,672.50 L885.6,672.50 L886.6,672.50 L887.6,672.50 L888.6,672.50 L889.6,672.50 L890.6,672.50 L891.6,672.50 L892.6,672.50 L893.6,672.50 L894.6,672.50 L895.6,672.50 L896.6,672.50 L897.6,672.50 L898.6,672.50 L899.6,672.50 L900.6,672.50 L901.6,672.50 L902.6,672.50 L903.6,672.50 L904.6,672.50 L905.6,672.50 L906.6,672.50 L907.6,672.50 L908.6,672.50 L909.6,672.50 L910.6,672.50 L911.6,672.50 L912.6,672.50 L913.6,672.50 L914.6,672.50 L915.6,672.50 L916.6,672.50 L917.6,672.50 L918.6,672.50 L919.6,672.50 L920.6,672.50 L921.6,672.50 L922.6,672.50 L923.6,672.50 L924.6,672.50 L925.6,672.50 L926.6,672.50 L927.6,672.50 L928.6,672.50 L929.6,672.50 L930.6,672.50 L931.6,672.50 L932.6,672.50 L933.6,672.50 L934.6,672.50 L935.6,672.50 L936.6,672.50 L937.6,672.50 L938.6,672.50 L939.6,672.50 L940.6,672.50 L941.6,672.50 L942.6,672.50 L943.6,672.50 L944.6,672.50 L945.6,672.50 L946.6,672.50 L947.6,672.50 L948.6,672.50 L949.6,672.50 L950.6,672.50 L951.6,672.50 L952.6,672.50 L953.6,672.50 L954.6,672.50 L955.6,672.50 L956.6,672.50 L957.6,672.50 L958.6,672.50 L959.6,672.50 L960.6,672.50 L961.6,672.50 L962.6,672.50 L963.6,672.50 L964.6,672.50 L965.6,672.50 L966.6,672.50 L967.6,672.50 L968.6,672.50 L969.6,672.50 L970.6,672.50 L971.6,672.50 L972.6,672.50 L973.6,672.50 L974.6,672.50 L975.6,672.50 L976.6,672.50 L977.6,672.50 L978.6,672.50 L979.6,672.50 L980.6,672.50 L981.6,672.50 L982.6,672.50 L983.6,672.50 L984.6,672.50 L985.6,672.50 L986.6,672.50 L987.6,672.50 L988.6,672.50 L989.6,672.50 L990.6,672.50 L991.6,672.50 L992.6,672.50 L993.6,672.50 L994.6,672.50 L995.6,672.50 L996.6,672.50 L997.6,672.50 L998.6,672.50 L999.6,672.50 L1000.6,672.50 L1001.6,672.50 L1002.6,672.50 L1003.6,672.50 L1004.6,672.50 L1005.6,672.50 L1006.6,672.50 L1007.6,672.50" fill="none" stroke="#FF00FF" stroke-width="3.3" stroke-linejoin="round"/>
<path d="M119.6,672.50 L120.6,672.50 L121.6,672.50 L122.6,672.50 L123.6,672.50 L124.6,672.50 L125.6,672.50 L126.6,672.50 L127.6,672.50 L128.6,672.50 L129.6,672.50 L130.6,672.50 L131.6,672.50 L132.6,672.50 L133.6,672.50 L134.6,672.50 L135.6,672.50 L136.6,672.50 L137.6,672.50 L138.6,672.50 L139.6,672.50 L140.6,672.50 L141.6,672.50 L142.6,672.50 L143.6,672.50 L144.6,672.50 L145.6,672.50 L146.6,672.50 L147.6,672.50 L148.6,672.50 L149.6,672.50 L150.6,672.50 L151.6,672.50 L152.6,672.50 L153.6,672.50 L154.6,672.50 L155.6,672.50 L156.6,672.50 L157.6,672.50 L158.6,672.50 L159.6,672.50 L160.6,672.50 L161.6,672.50 L162.6,672.50 L163.6,672.50 L164.6,672.50 L165.6,672.50 L166.6,672.50 L167.6,672.50 L168.6,672.50 L169.6,672.50 L170.6,672.50 L171.6,672.50 L172.6,672.50 L173.6,672.50 L174.6,672.50 L175.6,672.50 L176.6,672.50 L177.6,672.50 L178.6,672.50 L179.6,672.50 L180.6,672.50 L181.6,672.50 L182.6,672.50 L183.6,672.50 L184.6,672.50 L185.6,672.50 L186.6,672.50 L187.6,672.50 L188.6,672.50 L189.6,672.50 L190.6,672.50 L191.6,672.50 L192.6,672.50 L193.6,672.50 L194.6,672.50 L195.6,672.50 L196.6,672.50 L197.6,672.50 L198.6,672.50 L199.6,672.50 L200.6,672.50 L201.6,672.50 L202.6,672.50 L203.6,672.50 L204.6,672.50 L205.6,672.50 L206.6,672.50 L207.6,672.50 L208.6,672.50 L209.6,672.50 L210.6,672.50 L211.6,672.50 L212.6,672.50 L213.6,672.50 L214.6,672.50 L215.6,672.50 L216.6,672.50 L217.6,672.50 L218.6,672.50 L219.6,672.50 L220.6,672.50 L221.6,672.50 L222.6,672.50 L223.6,672.50 L224.6,672.50 L225.6,672.50 L226.6,672.50 L227.6,672.50 L228.6,672.50 L229.6,672.50 L230.6,672.50 L231.6,672.50 L232.6,672.50 L233.6,672.50 L234.6,672.50 L235.6,672.50 L236.6,672.50 L237.6,672.50 L238.6,672.50 L239.6,672.50 L240.6,672.50 L241.6,672.50 L242.6,672.50 L243.6,672.50 L244.6,672.50 L245.6,672.50 L246.6,672.50 L247.6,672.50 L248.6,672.50 L249.6,672.50 L250.6,672.50 L251.6,672.50 L252.6,672.50 L253.6,672.50 L254.6,672.50 L255.6,672.50 L256.6,672.50 L257.6,672.50 L258.6,672.50 L259.6,672.50 L260.6,672.50 L261.6,672.50 L262.6,672.50 L263.6,672.50 L264.6,672.50 L265.6,672.50 L266.6,672.50 L267.6,672.50 L268.6,672.50 L269.6,672.50 L270.6,672.50 L271.6,672.50 L272.6,672.50 L273.6,672.50 L274.6,672.50 L275.6,672.50 L276.6,672.50 L277.6,672.50 L278.6,672.50 L279.6,672.50 L280.6,672.50 L281.6,672.50 L282.6,672.50 L283.6,672.50 L284.6,672.50 L285.6,672.50 L286.6,672.50 L287.6,672.50 L288.6,672.50 L289.6,672.50 L290.6,672.50 L291.6,672.50 L292.6,672.50 L293.6,672.50 L294.6,672.50 L295.6,672.50 L296.6,672.50 L297.6,672.50 L298.6,672.50 L299.6,672.50 L300.6,672.50 L301.6,672.50 L302.6,672.50 L303.6,672.50 L304.6,672.50 L305.6,672.50 L306.6,672.50 L307.6,672.50 L308.6,672.50 L309.6,672.50 L310.6,672.50 L311.6,672.50 L312.6,672.50 L313.6,672.50 L314.6,672.50 L315.6,672.50 L316.6,672.50 L317.6,672.50 L318.6,672.50 L319.6,672.50 L320.6,672.50 L321.6,672.50 L322.6,672.50 L323.6,672.50 L324.6,672.50 L325.6,672.50 L326.6,672.50 L327.6,672.50 L328.6,672.50 L329.6,672.50 L330.6,672.50 L331.6,672.50 L332.6,672.50 L333.6,672.50 L334.6,672.50 L335.6,672.50 L336.6,672.50 L337.6,672.50 L338.6,672.50 L339.6,672.50 L340.6,672.50 L341.6,672.50 L342.6,672.50 L343.6,672.50 L344.6,672.50 L345.6,672.50 L346.6,672.50 L347.6,672.50 L348.6,672.50 L349.6,672.50 L350.6,672.50 L351.6,672.50 L352.6,672.50 L353.6,672.50 L354.6,672.50 L355.6,672.50 L356.6,672.50 L357.6,672.50 L358.6,672.50 L359.6,672.50 L360.6,672.50 L361.6,672.50 L362.6,672.50 L363.6,672.50 L364.6,672.50 L365.6,672.50 L366.6,672.50 L367.6,672.50 L368.6,672.50 L369.6,672.50 L370.6,672.50 L371.6,672.50 L372.6,672.50 L373.6,672.50 L374.6,672.50 L375.6,672.50 L376.6,672.50 L377.6,672.50 L378.6,672.50 L379.6,672.50 L380.6,672.50 L381.6,672.50 L382.6,672.50 L383.6,672.50 L384.6,672.50 L385.6,672.50 L386.6,672.50 L387.6,672.50 L388.6,672.50 L389.6,672.50 L390.6,672.50 L391.6,672.50 L392.6,672.50 L393.6,672.50 L394.6,672.50 L395.6,672.50 L396.6,672.50 L397.6,672.50 L398.6,672.50 L399.6,672.50 L400.6,672.50 L401.6,672.50 L402.6,672.50 L403.6,672.50 L404.6,672.50 L405.6,672.50 L406.6,672.50 L407.6,672.50 L408.6,672.50 L409.6,672.50 L410.6,672.50 L411.6,672.50 L412.6,672.50 L413.6,672.50 L414.6,672.50 L415.6,672.50 L416.6,672.50 L417.6,672.50 L418.6,672.50 L419.6,672.50 L420.6,672.50 L421.6,672.50 L422.6,672.50 L423.6,672.50 L424.6,672.50 L425.6,672.50 L426.6,672.50 L427.6,672.50 L428.6,672.50 L429.6,672.50 L430.6,672.50 L431.6,672.50 L432.6,672.50 L433.6,672.50 L434.6,672.50 L435.6,672.50 L436.6,672.50 L437.6,672.50 L438.6,672.50 L439.6,672.50 L440.6,672.50 L441.6,672.50 L442.6,672.50 L443.6,672.50 L444.6,672.50 L445.6,672.50 L446.6,672.50 L447.6,672.50 L448.6,672.50 L449.6,672.50 L450.6,672.50 L451.6,672.50 L452.6,672.50 L453.6,672.50 L454.6,672.50 L455.6,672.50 L456.6,672.50 L457.6,672.50 L458.6,672.50 L459.6,672.49 L460.6,672.49 L461.6,672.49 L462.6,672.49 L463.6,672.48 L464.6,672.47 L465.6,672.46 L466.6,672.45 L467.6,672.44 L468.6,672.42 L469.6,672.40 L470.6,672.37 L471.6,672.33 L472.6,672.28 L473.6,672.22 L474.6,672.15 L475.6,672.05 L476.6,671.94 L477.6,671.80 L478.6,671.63 L479.6,671.42 L480.6,671.17 L481.6,670.88 L482.6,670.52 L483.6,670.10 L484.6,669.61 L485.6,669.03 L486.6,668.35 L487.6,667.57 L488.6,666.67 L489.6,665.63 L490.6,664.46 L491.6,663.12 L492.6,661.63 L493.6,659.95 L494.6,658.09 L495.6,656.03 L496.6,653.77 L497.6,651.30 L498.6,648.63 L499.6,645.75 L500.6,642.67 L501.6,639.40 L502.6,635.96 L503.6,632.35 L504.6,628.60 L505.6,624.74 L506.6,620.80 L507.6,616.80 L508.6,612.79 L509.6,608.81 L510.6,604.89 L511.6,601.09 L512.6,597.44 L513.6,593.99 L514.6,590.79 L515.6,587.88 L516.6,585.29 L517.6,583.06 L518.6,581.23 L519.6,579.82 L520.6,578.84 L521.6,578.33 L522.6,578.27 L523.6,578.68 L524.6,579.54 L525.6,580.85 L526.6,582.58 L527.6,584.72 L528.6,587.22 L529.6,590.06 L530.6,593.20 L531.6,596.59 L532.6,600.20 L533.6,603.97 L534.6,607.86 L535.6,611.83 L536.6,615.84 L537.6,619.84 L538.6,623.80 L539.6,627.69 L540.6,631.46 L541.6,635.10 L542.6,638.59 L543.6,641.90 L544.6,645.03 L545.6,647.95 L546.6,650.68 L547.6,653.19 L548.6,655.50 L549.6,657.61 L550.6,659.52 L551.6,661.24 L552.6,662.78 L553.6,664.15 L554.6,665.36 L555.6,666.43 L556.6,667.36 L557.6,668.17 L558.6,668.87 L559.6,669.48 L560.6,669.99 L561.6,670.43 L562.6,670.80 L563.6,671.11 L564.6,671.37 L565.6,671.58 L566.6,671.76 L567.6,671.91 L568.6,672.03 L569.6,672.12 L570.6,672.20 L571.6,672.27 L572.6,672.32 L573.6,672.36 L574.6,672.39 L575.6,672.42 L576.6,672.43 L577.6,672.45 L578.6,672.46 L579.6,672.47 L580.6,672.48 L581.6,672.48 L582.6,672.49 L583.6,672.49 L584.6,672.49 L585.6,672.50 L586.6,672.50 L587.6,672.50 L588.6,672.50 L589.6,672.50 L590.6,672.50 L591.6,672.50 L592.6,672.50 L593.6,672.50 L594.6,672.50 L595.6,672.50 L596.6,672.50 L597.6,672.50 L598.6,672.50 L599.6,672.50 L600.6,672.50 L601.6,672.50 L602.6,672.50 L603.6,672.50 L604.6,672.50 L605.6,672.50 L606.6,672.50 L607.6,672.50 L608.6,672.50 L609.6,672.50 L610.6,672.50 L611.6,672.50 L612.6,672.50 L613.6,672.50 L614.6,672.50 L615.6,672.50 L616.6,672.50 L617.6,672.50 L618.6,672.50 L619.6,672.50 L620.6,672.50 L621.6,672.50 L622.6,672.50 L623.6,672.50 L624.6,672.50 L625.6,672.50 L626.6,672.50 L627.6,672.50 L628.6,672.50 L629.6,672.50 L630.6,672.50 L631.6,672.50 L632.6,672.50 L633.6,672.50 L634.6,672.50 L635.6,672.50 L636.6,672.50 L637.6,672.50 L638.6,672.50 L639.6,672.50 L640.6,672.50 L641.6,672.50 L642.6,672.50 L643.6,672.50 L644.6,672.50 L645.6,672.50 L646.6,672.50 L647.6,672.50 L648.6,672.50 L649.6,672.50 L650.6,672.50 L651.6,672.50 L652.6,672.50 L653.6,672.50 L654.6,672.50 L655.6,672.50 L656.6,672.50 L657.6,672.50 L658.6,672.50 L659.6,672.50 L660.6,672.50 L661.6,672.50 L662.6,672.50 L663.6,672.50 L664.6,672.50 L665.6,672.50 L666.6,672.50 L667.6,672.50 L668.6,672.50 L669.6,672.50 L670.6,672.50 L671.6,672.50 L672.6,672.50 L673.6,672.50 L674.6,672.50 L675.6,672.50 L676.6,672.50 L677.6,672.50 L678.6,672.50 L679.6,672.50 L680.6,672.50 L681.6,672.50 L682.6,672.50 L683.6,672.50 L684.6,672.50 L685.6,672.50 L686.6,672.50 L687.6,672.50 L688.6,672.50 L689.6,672.50 L690.6,672.50 L691.6,672.50 L692.6,672.50 L693.6,672.50 L694.6,672.50 L695.6,672.50 L696.6,672.50 L697.6,672.50 L698.6,672.50 L699.6,672.50 L700.6,672.50 L701.6,672.50 L702.6,672.50 L703.6,672.50 L704.6,672.50 L705.6,672.50 L706.6,672.50 L707.6,672.50 L708.6,672.50 L709.6,672.50 L710.6,672.50 L711.6,672.50 L712.6,672.50 L713.6,672.50 L714.6,672.50 L715.6,672.50 L716.6,672.50 L717.6,672.50 L718.6,672.50 L719.6,672.50 L720.6,672.50 L721.6,672.50 L722.6,672.50 L723.6,672.50 L724.6,672.50 L725.6,672.50 L726.6,672.50 L727.6,672.50 L728.6,672.50 L729.6,672.50 L730.6,672.50 L731.6,672.50 L732.6,672.50 L733.6,672.50 L734.6,672.50 L735.6,672.50 L736.6,672.50 L737.6,672.50 L738.6,672.50 L739.6,672.50 L740.6,672.50 L741.6,672.50 L742.6,672.50 L743.6,672.50 L744.6,672.50 L745.6,672.50 L746.6,672.50 L747.6,672.50 L748.6,672.50 L749.6,672.50 L750.6,672.50 L751.6,672.50 L752.6,672.50 L753.6,672.50 L754.6,672.50 L755.6,672.50 L756.6,672.50 L757.6,672.50 L758.6,672.50 L759.6,672.50 L760.6,672.50 L761.6,672.50 L762.6,672.50 L763.6,672.50 L764.6,672.50 L765.6,672.50 L766.6,672.50 L767.6,672.50 L768.6,672.50 L769.6,672.50 L770.6,672.50 L771.6,672.50 L772.6,672.50 L773.6,672.50 L774.6,672.50 L775.6,672.50 L776.6,672.50 L777.6,672.50 L778.6,672.50 L779.6,672.50 L780.6,672.50 L781.6,672.50 L782.6,672.50 L783.6,672.50 L784.6,672.50 L785.6,672.50 L786.6,672.50 L787.6,672.50 L788.6,672.50 L789.6,672.50 L790.6,672.50 L791.6,672.50 L792.6,672.50 L793.6,672.50 L794.6,672.50 L795.6,672.50 L796.6,672.50 L797.6,672.50 L798.6,672.50 L799.6,672.50 L800.6,672.50 L801.6,672.50 L802.6,672.50 L803.6,672.50 L804.6,672.50 L805.6,672.50 L806.6,672.50 L807.6,672.50 L808.6,672.50 L809.6,672.50 L810.6,672.50 L811.6,672.50 L812.6,672.50 L813.6,672.50 L814.6,672.50 L815.6,672.50 L816.6,672.50 L817.6,672.50 L818.6,672.50 L819.6,672.50 L820.6,672.50 L821.6,672.50 L822.6,672.50 L823.6,672.50 L824.6,672.50 L825.6,672.50 L826.6,672.50 L827.6,672.50 L828.6,672.50 L829.6,672.50 L830.6,672.50 L831.6,672.50 L832.6,672.50 L833.6,672.50 L834.6,672.50 L835.6,672.50 L836.6,672.50 L837.6,672.50 L838.6,672.50 L839.6,672.50 L840.6,672.50 L841.6,672.50 L842.6,672.50 L843.6,672.50 L844.6,672.50 L845.6,672.50 L846.6,672.50 L847.6,672.50 L848.6,672.50 L849.6,672.50 L850.6,672.50 L851.6,672.50 L852.6,672.50 L853.6,672.50 L854.6,672.50 L855.6,672.50 L856.6,672.50 L857.6,672.50 L858.6,672.50 L859.6,672.50 L860.6,672.50 L861.6,672.50 L862.6,672.50 L863.6,672.50 L864.6,672.50 L865.6,672.50 L866.6,672.50 L867.6,672.50 L868.6,672.50 L869.6,672.50 L870.6,672.50 L871.6,672.50 L872.6,672.50 L873.6,672.50 L874.6,672.50 L875.6,672.50 L876.6,672.50 L877.6,672.50 L878.6,672.50 L879.6,672.50 L880.6,672.50 L881.6,672.50 L882.6,672.50 L883.6,672.50 L884.6,672.50 L885.6,672.50 L886.6,672.50 L887.6,672.50 L888.6,672.50 L889.6,672.50 L890.6,672.50 L891.6,672.50 L892.6,672.50 L893.6,672.50 L894.6,672.50 L895.6,672.50 L896.6,672.50 L897.6,672.50 L898.6,672.50 L899.6,672.50 L900.6,672.50 L901.6,672.50 L902.6,672.50 L903.6,672.50 L904.6,672.50 L905.6,672.50 L906.6,672.50 L907.6,672.50 L908.6,672.50 L909.6,672.50 L910.6,672.50 L911.6,672.50 L912.6,672.50 L913.6,672.50 L914.6,672.50 L915.6,672.50 L916.6,672.50 L917.6,672.50 L918.6,672.50 L919.6,672.50 L920.6,672.50 L921.6,672.50 L922.6,672.50 L923.6,672.50 L924.6,672.50 L925.6,672.50 L926.6,672.50 L927.6,672.50 L928.6,672.50 L929.6,672.50 L930.6,672.50 L931.6,672.50 L932.6,672.50 L933.6,672.50 L934.6,672.50 L935.6,672.50 L936.6,672.50 L937.6,672.50 L938.6,672.50 L939.6,672.50 L940.6,672.50 L941.6,672.50 L942.6,672.50 L943.6,672.50 L944.6,672.50 L945.6,672.50 L946.6,672.50 L947.6,672.50 L948.6,672.50 L949.6,672.50 L950.6,672.50 L951.6,672.50 L952.6,672.50 L953.6,672.50 L954.6,672.50 L955.6,672.50 L956.6,672.50 L957.6,672.50 L958.6,672.50 L959.6,672.50 L960.6,672.50 L961.6,672.50 L962.6,672.50 L963.6,672.50 L964.6,672.50 L965.6,672.50 L966.6,672.50 L967.6,672.50 L968.6,672.50 L969.6,672.50 L970.6,672.50 L971.6,672.50 L972.6,672.50 L973.6,672.50 L974.6,672.50 L975.6,672.50 L976.6,672.50 L977.6,672.50 L978.6,672.50 L979.6,672.50 L980.6,672.50 L981.6,672.50 L982.6,672.50 L983.6,672.50 L984.6,672.50 L985.6,672.50 L986.6,672.50 L987.6,672.50 L988.6,672.50 L989.6,672.50 L990.6,672.50 L991.6,672.50 L992.6,672.50 L993.6,672.50 L994.6,672.50 L995.6,672.50 L996.6,672.50 L997.6,672.50 L998.6,672.50 L999.6,672.50 L1000.6,672.50 L1001.6,672.50 L1002.6,672.50 L1003.6,672.50 L1004.6,672.50 L1005.6,672.50 L1006.6,672.50 L1007.6,672.50" fill="none" stroke="#F58C1E" stroke-width="3.3" stroke-linejoin="round"/>
<path d="M119.6,672.50 L120.6,672.50 L121.6,672.50 L122.6,672.50 L123.6,672.50 L124.6,672.50 L125.6,672.50 L126.6,672.50 L127.6,672.50 L128.6,672.50 L129.6,672.50 L130.6,672.50 L131.6,672.50 L132.6,672.50 L133.6,672.50 L134.6,672.50 L135.6,672.50 L136.6,672.50 L137.6,672.50 L138.6,672.50 L139.6,672.50 L140.6,672.50 L141.6,672.50 L142.6,672.50 L143.6,672.50 L144.6,672.50 L145.6,672.50 L146.6,672.50 L147.6,672.50 L148.6,672.50 L149.6,672.50 L150.6,672.50 L151.6,672.50 L152.6,672.50 L153.6,672.50 L154.6,672.50 L155.6,672.50 L156.6,672.50 L157.6,672.50 L158.6,672.50 L159.6,672.50 L160.6,672.50 L161.6,672.50 L162.6,672.50 L163.6,672.50 L164.6,672.50 L165.6,672.50 L166.6,672.50 L167.6,672.50 L168.6,672.50 L169.6,672.50 L170.6,672.50 L171.6,672.50 L172.6,672.50 L173.6,672.50 L174.6,672.50 L175.6,672.50 L176.6,672.50 L177.6,672.50 L178.6,672.50 L179.6,672.50 L180.6,672.50 L181.6,672.50 L182.6,672.50 L183.6,672.50 L184.6,672.50 L185.6,672.50 L186.6,672.50 L187.6,672.50 L188.6,672.50 L189.6,672.50 L190.6,672.50 L191.6,672.50 L192.6,672.50 L193.6,672.50 L194.6,672.50 L195.6,672.50 L196.6,672.50 L197.6,672.50 L198.6,672.50 L199.6,672.50 L200.6,672.50 L201.6,672.50 L202.6,672.50 L203.6,672.50 L204.6,672.50 L205.6,672.50 L206.6,672.50 L207.6,672.50 L208.6,672.50 L209.6,672.50 L210.6,672.50 L211.6,672.50 L212.6,672.50 L213.6,672.50 L214.6,672.50 L215.6,672.50 L216.6,672.50 L217.6,672.50 L218.6,672.50 L219.6,672.50 L220.6,672.50 L221.6,672.50 L222.6,672.50 L223.6,672.50 L224.6,672.50 L225.6,672.50 L226.6,672.50 L227.6,672.50 L228.6,672.50 L229.6,672.50 L230.6,672.50 L231.6,672.50 L232.6,672.50 L233.6,672.50 L234.6,672.50 L235.6,672.50 L236.6,672.50 L237.6,672.50 L238.6,672.50 L239.6,672.50 L240.6,672.50 L241.6,672.50 L242.6,672.50 L243.6,672.50 L244.6,672.50 L245.6,672.50 L246.6,672.50 L247.6,672.50 L248.6,672.50 L249.6,672.50 L250.6,672.50 L251.6,672.50 L252.6,672.50 L253.6,672.50 L254.6,672.50 L255.6,672.50 L256.6,672.50 L257.6,672.50 L258.6,672.50 L259.6,672.50 L260.6,672.50 L261.6,672.50 L262.6,672.50 L263.6,672.50 L264.6,672.50 L265.6,672.50 L266.6,672.50 L267.6,672.50 L268.6,672.50 L269.6,672.50 L270.6,672.50 L271.6,672.50 L272.6,672.50 L273.6,672.50 L274.6,672.50 L275.6,672.50 L276.6,672.50 L277.6,672.50 L278.6,672.50 L279.6,672.50 L280.6,672.50 L281.6,672.50 L282.6,672.50 L283.6,672.50 L284.6,672.50 L285.6,672.50 L286.6,672.50 L287.6,672.50 L288.6,672.50 L289.6,672.50 L290.6,672.50 L291.6,672.50 L292.6,672.50 L293.6,672.50 L294.6,672.50 L295.6,672.50 L296.6,672.50 L297.6,672.50 L298.6,672.50 L299.6,672.50 L300.6,672.50 L301.6,672.50 L302.6,672.50 L303.6,672.50 L304.6,672.50 L305.6,672.50 L306.6,672.50 L307.6,672.50 L308.6,672.50 L309.6,672.50 L310.6,672.50 L311.6,672.50 L312.6,672.50 L313.6,672.50 L314.6,672.50 L315.6,672.50 L316.6,672.50 L317.6,672.50 L318.6,672.50 L319.6,672.50 L320.6,672.50 L321.6,672.50 L322.6,672.50 L323.6,672.50 L324.6,672.50 L325.6,672.50 L326.6,672.50 L327.6,672.50 L328.6,672.50 L329.6,672.50 L330.6,672.50 L331.6,672.50 L332.6,672.50 L333.6,672.50 L334.6,672.50 L335.6,672.50 L336.6,672.50 L337.6,672.50 L338.6,672.50 L339.6,672.50 L340.6,672.50 L341.6,672.50 L342.6,672.50 L343.6,672.50 L344.6,672.50 L345.6,672.50 L346.6,672.50 L347.6,672.50 L348.6,672.50 L349.6,672.50 L350.6,672.50 L351.6,672.50 L352.6,672.50 L353.6,672.50 L354.6,672.50 L355.6,672.50 L356.6,672.50 L357.6,672.50 L358.6,672.50 L359.6,672.50 L360.6,672.50 L361.6,672.50 L362.6,672.50 L363.6,672.50 L364.6,672.50 L365.6,672.50 L366.6,672.50 L367.6,672.50 L368.6,672.50 L369.6,672.50 L370.6,672.50 L371.6,672.50 L372.6,672.50 L373.6,672.50 L374.6,672.50 L375.6,672.50 L376.6,672.50 L377.6,672.50 L378.6,672.50 L379.6,672.50 L380.6,672.50 L381.6,672.50 L382.6,672.50 L383.6,672.50 L384.6,672.50 L385.6,672.50 L386.6,672.50 L387.6,672.50 L388.6,672.50 L389.6,672.50 L390.6,672.50 L391.6,672.50 L392.6,672.50 L393.6,672.50 L394.6,672.50 L395.6,672.50 L396.6,672.50 L397.6,672.50 L398.6,672.50 L399.6,672.50 L400.6,672.50 L401.6,672.50 L402.6,672.50 L403.6,672.50 L404.6,672.50 L405.6,672.50 L406.6,672.50 L407.6,672.50 L408.6,672.50 L409.6,672.50 L410.6,672.50 L411.6,672.50 L412.6,672.50 L413.6,672.50 L414.6,672.50 L415.6,672.50 L416.6,672.50 L417.6,672.50 L418.6,672.50 L419.6,672.50 L420.6,672.50 L421.6,672.50 L422.6,672.50 L423.6,672.50 L424.6,672.50 L425.6,672.50 L426.6,672.50 L427.6,672.50 L428.6,672.50 L429.6,672.50 L430.6,672.50 L431.6,672.50 L432.6,672.50 L433.6,672.50 L434.6,672.50 L435.6,672.50 L436.6,672.50 L437.6,672.50 L438.6,672.50 L439.6,672.50 L440.6,672.50 L441.6,672.50 L442.6,672.50 L443.6,672.49 L444.6,672.49 L445.6,672.49 L446.6,672.49 L447.6,672.49 L448.6,672.49 L449.6,672.49 L450.6,672.49 L451.6,672.48 L452.6,672.48 L453.6,672.48 L454.6,672.48 L455.6,672.47 L456.6,672.47 L457.6,672.46 L458.6,672.46 L459.6,672.45 L460.6,672.45 L461.6,672.44 L462.6,672.43 L463.6,672.42 L464.6,672.41 L465.6,672.40 L466.6,672.39 L467.6,672.38 L468.6,672.36 L469.6,672.34 L470.6,672.32 L471.6,672.30 L472.6,672.28 L473.6,672.25 L474.6,672.22 L475.6,672.18 L476.6,672.15 L477.6,672.11 L478.6,672.06 L479.6,672.01 L480.6,671.95 L481.6,671.89 L482.6,671.82 L483.6,671.75 L484.6,671.67 L485.6,671.58 L486.6,671.48 L487.6,671.37 L488.6,671.25 L489.6,671.12 L490.6,670.98 L491.6,670.82 L492.6,670.65 L493.6,670.47 L494.6,670.27 L495.6,670.05 L496.6,669.82 L497.6,669.56 L498.6,669.29 L499.6,668.99 L500.6,668.66 L501.6,668.31 L502.6,667.94 L503.6,667.53 L504.6,667.10 L505.6,666.63 L506.6,666.12 L507.6,665.59 L508.6,665.01 L509.6,664.39 L510.6,663.73 L511.6,663.03 L512.6,662.28 L513.6,661.48 L514.6,660.63 L515.6,659.73 L516.6,658.78 L517.6,657.77 L518.6,656.69 L519.6,655.56 L520.6,654.37 L521.6,653.11 L522.6,651.78 L523.6,650.38 L524.6,648.91 L525.6,647.38 L526.6,645.76 L527.6,644.07 L528.6,642.31 L529.6,640.46 L530.6,638.54 L531.6,636.54 L532.6,634.46 L533.6,632.30 L534.6,630.05 L535.6,627.73 L536.6,625.33 L537.6,622.84 L538.6,620.28 L539.6,617.64 L540.6,614.93 L541.6,612.14 L542.6,609.27 L543.6,606.34 L544.6,603.34 L545.6,600.28 L546.6,597.15 L547.6,593.97 L548.6,590.73 L549.6,587.45 L550.6,584.12 L551.6,580.75 L552.6,577.35 L553.6,573.92 L554.6,570.47 L555.6,567.00 L556.6,563.53 L557.6,560.05 L558.6,556.57 L559.6,553.11 L560.6,549.66 L561.6,546.25 L562.6,542.86 L563.6,539.52 L564.6,536.22 L565.6,532.98 L566.6,529.81 L567.6,526.71 L568.6,523.69 L569.6,520.76 L570.6,517.93 L571.6,515.20 L572.6,512.58 L573.6,510.07 L574.6,507.69 L575.6,505.45 L576.6,503.34 L577.6,501.37 L578.6,499.56 L579.6,497.89 L580.6,496.39 L581.6,495.05 L582.6,493.88 L583.6,492.88 L584.6,492.05 L585.6,491.40 L586.6,490.93 L587.6,490.63 L588.6,490.52 L589.6,490.59 L590.6,490.83 L591.6,491.26 L592.6,491.87 L593.6,492.65 L594.6,493.61 L595.6,494.74 L596.6,496.04 L597.6,497.50 L598.6,499.12 L599.6,500.90 L600.6,502.83 L601.6,504.91 L602.6,507.12 L603.6,509.46 L604.6,511.94 L605.6,514.53 L606.6,517.23 L607.6,520.04 L608.6,522.95 L609.6,525.95 L610.6,529.03 L611.6,532.18 L612.6,535.40 L613.6,538.68 L614.6,542.02 L615.6,545.39 L616.6,548.80 L617.6,552.24 L618.6,555.70 L619.6,559.18 L620.6,562.66 L621.6,566.13 L622.6,569.60 L623.6,573.06 L624.6,576.49 L625.6,579.90 L626.6,583.28 L627.6,586.62 L628.6,589.91 L629.6,593.16 L630.6,596.36 L631.6,599.50 L632.6,602.58 L633.6,605.59 L634.6,608.54 L635.6,611.42 L636.6,614.23 L637.6,616.97 L638.6,619.63 L639.6,622.21 L640.6,624.71 L641.6,627.14 L642.6,629.48 L643.6,631.74 L644.6,633.92 L645.6,636.03 L646.6,638.05 L647.6,639.99 L648.6,641.85 L649.6,643.64 L650.6,645.35 L651.6,646.98 L652.6,648.54 L653.6,650.02 L654.6,651.43 L655.6,652.78 L656.6,654.06 L657.6,655.27 L658.6,656.42 L659.6,657.50 L660.6,658.53 L661.6,659.50 L662.6,660.41 L663.6,661.27 L664.6,662.08 L665.6,662.85 L666.6,663.56 L667.6,664.23 L668.6,664.86 L669.6,665.44 L670.6,665.99 L671.6,666.50 L672.6,666.98 L673.6,667.42 L674.6,667.84 L675.6,668.22 L676.6,668.58 L677.6,668.91 L678.6,669.21 L679.6,669.49 L680.6,669.76 L681.6,670.00 L682.6,670.22 L683.6,670.42 L684.6,670.61 L685.6,670.78 L686.6,670.94 L687.6,671.09 L688.6,671.22 L689.6,671.34 L690.6,671.45 L691.6,671.55 L692.6,671.65 L693.6,671.73 L694.6,671.81 L695.6,671.88 L696.6,671.94 L697.6,672.00 L698.6,672.05 L699.6,672.10 L700.6,672.14 L701.6,672.18 L702.6,672.21 L703.6,672.24 L704.6,672.27 L705.6,672.29 L706.6,672.32 L707.6,672.34 L708.6,672.36 L709.6,672.37 L710.6,672.39 L711.6,672.40 L712.6,672.41 L713.6,672.42 L714.6,672.43 L715.6,672.44 L716.6,672.45 L717.6,672.45 L718.6,672.46 L719.6,672.46 L720.6,672.47 L721.6,672.47 L722.6,672.48 L723.6,672.48 L724.6,672.48 L725.6,672.48 L726.6,672.49 L727.6,672.49 L728.6,672.49 L729.6,672.49 L730.6,672.49 L731.6,672.49 L732.6,672.49 L733.6,672.49 L734.6,672.50 L735.6,672.50 L736.6,672.50 L737.6,672.50 L738.6,672.50 L739.6,672.50 L740.6,672.50 L741.6,672.50 L742.6,672.50 L743.6,672.50 L744.6,672.50 L745.6,672.50 L746.6,672.50 L747.6,672.50 L748.6,672.50 L749.6,672.50 L750.6,672.50 L751.6,672.50 L752.6,672.50 L753.6,672.50 L754.6,672.50 L755.6,672.50 L756.6,672.50 L757.6,672.50 L758.6,672.50 L759.6,672.50 L760.6,672.50 L761.6,672.50 L762.6,672.50 L763.6,672.50 L764.6,672.50 L765.6,672.50 L766.6,672.50 L767.6,672.50 L768.6,672.50 L769.6,672.50 L770.6,672.50 L771.6,672.50 L772.6,672.50 L773.6,672.50 L774.6,672.50 L775.6,672.50 L776.6,672.50 L777.6,672.50 L778.6,672.50 L779.6,672.50 L780.6,672.50 L781.6,672.50 L782.6,672.50 L783.6,672.50 L784.6,672.50 L785.6,672.50 L786.6,672.50 L787.6,672.50 L788.6,672.50 L789.6,672.50 L790.6,672.50 L791.6,672.50 L792.6,672.50 L793.6,672.50 L794.6,672.50 L795.6,672.50 L796.6,672.50 L797.6,672.50 L798.6,672.50 L799.6,672.50 L800.6,672.50 L801.6,672.50 L802.6,672.50 L803.6,672.50 L804.6,672.50 L805.6,672.50 L806.6,672.50 L807.6,672.50 L808.6,672.50 L809.6,672.50 L810.6,672.50 L811.6,672.50 L812.6,672.50 L813.6,672.50 L814.6,672.50 L815.6,672.50 L816.6,672.50 L817.6,672.50 L818.6,672.50 L819.6,672.50 L820.6,672.50 L821.6,672.50 L822.6,672.50 L823.6,672.50 L824.6,672.50 L825.6,672.50 L826.6,672.50 L827.6,672.50 L828.6,672.50 L829.6,672.50 L830.6,672.50 L831.6,672.50 L832.6,672.50 L833.6,672.50 L834.6,672.50 L835.6,672.50 L836.6,672.50 L837.6,672.50 L838.6,672.50 L839.6,672.50 L840.6,672.50 L841.6,672.50 L842.6,672.50 L843.6,672.50 L844.6,672.50 L845.6,672.50 L846.6,672.50 L847.6,672.50 L848.6,672.50 L849.6,672.50 L850.6,672.50 L851.6,672.50 L852.6,672.50 L853.6,672.50 L854.6,672.50 L855.6,672.50 L856.6,672.50 L857.6,672.50 L858.6,672.50 L859.6,672.50 L860.6,672.50 L861.6,672.50 L862.6,672.50 L863.6,672.50 L864.6,672.50 L865.6,672.50 L866.6,672.50 L867.6,672.50 L868.6,672.50 L869.6,672.50 L870.6,672.50 L871.6,672.50 L872.6,672.50 L873.6,672.50 L874.6,672.50 L875.6,672.50 L876.6,672.50 L877.6,672.50 L878.6,672.50 L879.6,672.50 L880.6,672.50 L881.6,672.50 L882.6,672.50 L883.6,672.50 L884.6,672.50 L885.6,672.50 L886.6,672.50 L887.6,672.50 L888.6,672.50 L889.6,672.50 L890.6,672.50 L891.6,672.50 L892.6,672.50 L893.6,672.50 L894.6,672.50 L895.6,672.50 L896.6,672.50 L897.6,672.50 L898.6,672.50 L899.6,672.50 L900.6,672.50 L901.6,672.50 L902.6,672.50 L903.6,672.50 L904.6,672.50 L905.6,672.50 L906.6,672.50 L907.6,672.50 L908.6,672.50 L909.6,672.50 L910.6,672.50 L911.6,672.50 L912.6,672.50 L913.6,672.50 L914.6,672.50 L915.6,672.50 L916.6,672.50 L917.6,672.50 L918.6,672.50 L919.6,672.50 L920.6,672.50 L921.6,672.50 L922.6,672.50 L923.6,672.50 L924.6,672.50 L925.6,672.50 L926.6,672.50 L927.6,672.50 L928.6,672.50 L929.6,672.50 L930.6,672.50 L931.6,672.50 L932.6,672.50 L933.6,672.50 L934.6,672.50 L935.6,672.50 L936.6,672.50 L937.6,672.50 L938.6,672.50 L939.6,672.50 L940.6,672.50 L941.6,672.50 L942.6,672.50 L943.6,672.50 L944.6,672.50 L945.6,672.50 L946.6,672.50 L947.6,672.50 L948.6,672.50 L949.6,672.50 L950.6,672.50 L951.6,672.50 L952.6,672.50 L953.6,672.50 L954.6,672.50 L955.6,672.50 L956.6,672.50 L957.6,672.50 L958.6,672.50 L959.6,672.50 L960.6,672.50 L961.6,672.50 L962.6,672.50 L963.6,672.50 L964.6,672.50 L965.6,672.50 L966.6,672.50 L967.6,672.50 L968.6,672.50 L969.6,672.50 L970.6,672.50 L971.6,672.50 L972.6,672.50 L973.6,672.50 L974.6,672.50 L975.6,672.50 L976.6,672.50 L977.6,672.50 L978.6,672.50 L979.6,672.50 L980.6,672.50 L981.6,672.50 L982.6,672.50 L983.6,672.50 L984.6,672.50 L985.6,672.50 L986.6,672.50 L987.6,672.50 L988.6,672.50 L989.6,672.50 L990.6,672.50 L991.6,672.50 L992.6,672.50 L993.6,672.50 L994.6,672.50 L995.6,672.50 L996.6,672.50 L997.6,672.50 L998.6,672.50 L999.6,672.50 L1000.6,672.50 L1001.6,672.50 L1002.6,672.50 L1003.6,672.50 L1004.6,672.50 L1005.6,672.50 L1006.6,672.50 L1007.6,672.50" fill="none" stroke="#999900" stroke-width="3.3" stroke-linejoin="round"/>
<path d="M119.6,672.50 L120.6,672.50 L121.6,672.50 L122.6,672.50 L123.6,672.50 L124.6,672.50 L125.6,672.50 L126.6,672.50 L127.6,672.50 L128.6,672.50 L129.6,672.50 L130.6,672.50 L131.6,672.50 L132.6,672.50 L133.6,672.50 L134.6,672.50 L135.6,672.50 L136.6,672.50 L137.6,672.50 L138.6,672.50 L139.6,672.50 L140.6,672.50 L141.6,672.50 L142.6,672.50 L143.6,672.50 L144.6,672.50 L145.6,672.50 L146.6,672.50 L147.6,672.50 L148.6,672.50 L149.6,672.50 L150.6,672.50 L151.6,672.50 L152.6,672.50 L153.6,672.50 L154.6,672.50 L155.6,672.50 L156.6,672.50 L157.6,672.50 L158.6,672.50 L159.6,672.50 L160.6,672.50 L161.6,672.50 L162.6,672.50 L163.6,672.50 L164.6,672.50 L165.6,672.50 L166.6,672.50 L167.6,672.50 L168.6,672.50 L169.6,672.50 L170.6,672.50 L171.6,672.50 L172.6,672.50 L173.6,672.50 L174.6,672.50 L175.6,672.50 L176.6,672.50 L177.6,672.50 L178.6,672.50 L179.6,672.50 L180.6,672.50 L181.6,672.50 L182.6,672.50 L183.6,672.50 L184.6,672.50 L185.6,672.50 L186.6,672.50 L187.6,672.50 L188.6,672.50 L189.6,672.50 L190.6,672.50 L191.6,672.50 L192.6,672.50 L193.6,672.50 L194.6,672.50 L195.6,672.50 L196.6,672.50 L197.6,672.50 L198.6,672.50 L199.6,672.50 L200.6,672.50 L201.6,672.50 L202.6,672.50 L203.6,672.50 L204.6,672.50 L205.6,672.50 L206.6,672.50 L207.6,672.50 L208.6,672.50 L209.6,672.50 L210.6,672.50 L211.6,672.50 L212.6,672.50 L213.6,672.50 L214.6,672.50 L215.6,672.50 L216.6,672.50 L217.6,672.50 L218.6,672.50 L219.6,672.50 L220.6,672.50 L221.6,672.50 L222.6,672.50 L223.6,672.50 L224.6,672.50 L225.6,672.50 L226.6,672.50 L227.6,672.50 L228.6,672.50 L229.6,672.50 L230.6,672.50 L231.6,672.50 L232.6,672.50 L233.6,672.50 L234.6,672.50 L235.6,672.50 L236.6,672.50 L237.6,672.50 L238.6,672.50 L239.6,672.50 L240.6,672.50 L241.6,672.50 L242.6,672.50 L243.6,672.50 L244.6,672.50 L245.6,672.50 L246.6,672.50 L247.6,672.50 L248.6,672.50 L249.6,672.50 L250.6,672.50 L251.6,672.50 L252.6,672.50 L253.6,672.50 L254.6,672.50 L255.6,672.50 L256.6,672.50 L257.6,672.50 L258.6,672.50 L259.6,672.50 L260.6,672.50 L261.6,672.50 L262.6,672.50 L263.6,672.50 L264.6,672.50 L265.6,672.50 L266.6,672.50 L267.6,672.50 L268.6,672.50 L269.6,672.50 L270.6,672.50 L271.6,672.50 L272.6,672.50 L273.6,672.50 L274.6,672.50 L275.6,672.50 L276.6,672.50 L277.6,672.50 L278.6,672.50 L279.6,672.50 L280.6,672.50 L281.6,672.50 L282.6,672.50 L283.6,672.50 L284.6,672.50 L285.6,672.50 L286.6,672.50 L287.6,672.50 L288.6,672.50 L289.6,672.50 L290.6,672.50 L291.6,672.50 L292.6,672.50 L293.6,672.50 L294.6,672.50 L295.6,672.50 L296.6,672.50 L297.6,672.50 L298.6,672.50 L299.6,672.50 L300.6,672.50 L301.6,672.50 L302.6,672.50 L303.6,672.50 L304.6,672.50 L305.6,672.50 L306.6,672.50 L307.6,672.50 L308.6,672.50 L309.6,672.50 L310.6,672.50 L311.6,672.50 L312.6,672.50 L313.6,672.50 L314.6,672.50 L315.6,672.50 L316.6,672.50 L317.6,672.50 L318.6,672.50 L319.6,672.50 L320.6,672.50 L321.6,672.50 L322.6,672.50 L323.6,672.50 L324.6,672.50 L325.6,672.50 L326.6,672.50 L327.6,672.50 L328.6,672.50 L329.6,672.50 L330.6,672.50 L331.6,672.50 L332.6,672.50 L333.6,672.50 L334.6,672.50 L335.6,672.50 L336.6,672.50 L337.6,672.50 L338.6,672.50 L339.6,672.50 L340.6,672.50 L341.6,672.50 L342.6,672.50 L343.6,672.50 L344.6,672.50 L345.6,672.50 L346.6,672.50 L347.6,672.50 L348.6,672.50 L349.6,672.50 L350.6,672.50 L351.6,672.50 L352.6,672.50 L353.6,672.50 L354.6,672.50 L355.6,672.50 L356.6,672.50 L357.6,672.50 L358.6,672.50 L359.6,672.50 L360.6,672.50 L361.6,672.50 L362.6,672.50 L363.6,672.50 L364.6,672.50 L365.6,672.50 L366.6,672.50 L367.6,672.50 L368.6,672.50 L369.6,672.50 L370.6,672.50 L371.6,672.50 L372.6,672.50 L373.6,672.50 L374.6,672.50 L375.6,672.50 L376.6,672.50 L377.6,672.50 L378.6,672.50 L379.6,672.50 L380.6,672.50 L381.6,672.50 L382.6,672.50 L383.6,672.50 L384.6,672.50 L385.6,672.50 L386.6,672.50 L387.6,672.50 L388.6,672.50 L389.6,672.50 L390.6,672.50 L391.6,672.50 L392.6,672.50 L393.6,672.50 L394.6,672.50 L395.6,672.50 L396.6,672.50 L397.6,672.50 L398.6,672.50 L399.6,672.50 L400.6,672.50 L401.6,672.50 L402.6,672.50 L403.6,672.50 L404.6,672.50 L405.6,672.50 L406.6,672.50 L407.6,672.50 L408.6,672.50 L409.6,672.50 L410.6,672.50 L411.6,672.50 L412.6,672.50 L413.6,672.50 L414.6,672.50 L415.6,672.50 L416.6,672.50 L417.6,672.50 L418.6,672.50 L419.6,672.50 L420.6,672.50 L421.6,672.50 L422.6,672.50 L423.6,672.50 L424.6,672.50 L425.6,672.50 L426.6,672.50 L427.6,672.50 L428.6,672.50 L429.6,672.50 L430.6,672.50 L431.6,672.50 L432.6,672.50 L433.6,672.50 L434.6,672.50 L435.6,672.50 L436.6,672.50 L437.6,672.50 L438.6,672.50 L439.6,672.50 L440.6,672.50 L441.6,672.50 L442.6,672.50 L443.6,672.50 L444.6,672.50 L445.6,672.50 L446.6,672.50 L447.6,672.50 L448.6,672.50 L449.6,672.50 L450.6,672.50 L451.6,672.50 L452.6,672.50 L453.6,672.50 L454.6,672.50 L455.6,672.50 L456.6,672.50 L457.6,672.50 L458.6,672.50 L459.6,672.50 L460.6,672.50 L461.6,672.50 L462.6,672.50 L463.6,672.50 L464.6,672.50 L465.6,672.50 L466.6,672.50 L467.6,672.50 L468.6,672.50 L469.6,672.50 L470.6,672.50 L471.6,672.50 L472.6,672.50 L473.6,672.50 L474.6,672.50 L475.6,672.50 L476.6,672.50 L477.6,672.50 L478.6,672.50 L479.6,672.50 L480.6,672.50 L481.6,672.50 L482.6,672.50 L483.6,672.49 L484.6,672.49 L485.6,672.49 L486.6,672.49 L487.6,672.49 L488.6,672.49 L489.6,672.49 L490.6,672.49 L491.6,672.48 L492.6,672.48 L493.6,672.48 L494.6,672.48 L495.6,672.48 L496.6,672.47 L497.6,672.47 L498.6,672.46 L499.6,672.46 L500.6,672.45 L501.6,672.45 L502.6,672.44 L503.6,672.43 L504.6,672.43 L505.6,672.42 L506.6,672.41 L507.6,672.40 L508.6,672.38 L509.6,672.37 L510.6,672.35 L511.6,672.34 L512.6,672.32 L513.6,672.30 L514.6,672.27 L515.6,672.25 L516.6,672.22 L517.6,672.19 L518.6,672.15 L519.6,672.11 L520.6,672.07 L521.6,672.02 L522.6,671.97 L523.6,671.91 L524.6,671.85 L525.6,671.78 L526.6,671.70 L527.6,671.62 L528.6,671.53 L529.6,671.43 L530.6,671.32 L531.6,671.20 L532.6,671.07 L533.6,670.93 L534.6,670.77 L535.6,670.60 L536.6,670.42 L537.6,670.22 L538.6,670.00 L539.6,669.77 L540.6,669.51 L541.6,669.24 L542.6,668.94 L543.6,668.62 L544.6,668.27 L545.6,667.89 L546.6,667.48 L547.6,667.05 L548.6,666.57 L549.6,666.07 L550.6,665.52 L551.6,664.93 L552.6,664.30 L553.6,663.63 L554.6,662.91 L555.6,662.13 L556.6,661.31 L557.6,660.42 L558.6,659.48 L559.6,658.47 L560.6,657.40 L561.6,656.26 L562.6,655.05 L563.6,653.76 L564.6,652.39 L565.6,650.94 L566.6,649.40 L567.6,647.77 L568.6,646.05 L569.6,644.22 L570.6,642.30 L571.6,640.27 L572.6,638.13 L573.6,635.88 L574.6,633.51 L575.6,631.02 L576.6,628.40 L577.6,625.65 L578.6,622.78 L579.6,619.77 L580.6,616.62 L581.6,613.32 L582.6,609.88 L583.6,606.30 L584.6,602.56 L585.6,598.67 L586.6,594.63 L587.6,590.42 L588.6,586.06 L589.6,581.53 L590.6,576.85 L591.6,572.00 L592.6,566.99 L593.6,561.81 L594.6,556.47 L595.6,550.97 L596.6,545.30 L597.6,539.48 L598.6,533.49 L599.6,527.35 L600.6,521.06 L601.6,514.62 L602.6,508.03 L603.6,501.31 L604.6,494.44 L605.6,487.44 L606.6,480.32 L607.6,473.08 L608.6,465.73 L609.6,458.28 L610.6,450.73 L611.6,443.09 L612.6,435.37 L613.6,427.59 L614.6,419.75 L615.6,411.86 L616.6,403.93 L617.6,395.98 L618.6,388.01 L619.6,380.05 L620.6,372.09 L621.6,364.16 L622.6,356.26 L623.6,348.42 L624.6,340.64 L625.6,332.94 L626.6,325.33 L627.6,317.82 L628.6,310.44 L629.6,303.19 L630.6,296.09 L631.6,289.15 L632.6,282.39 L633.6,275.82 L634.6,269.45 L635.6,263.30 L636.6,257.38 L637.6,251.70 L638.6,246.28 L639.6,241.12 L640.6,236.25 L641.6,231.66 L642.6,227.36 L643.6,223.38 L644.6,219.72 L645.6,216.38 L646.6,213.37 L647.6,210.71 L648.6,208.39 L649.6,206.42 L650.6,204.81 L651.6,203.56 L652.6,202.68 L653.6,202.16 L654.6,202.00 L655.6,202.21 L656.6,202.79 L657.6,203.74 L658.6,205.04 L659.6,206.71 L660.6,208.73 L661.6,211.10 L662.6,213.82 L663.6,216.88 L664.6,220.27 L665.6,223.98 L666.6,228.01 L667.6,232.35 L668.6,236.99 L669.6,241.91 L670.6,247.11 L671.6,252.57 L672.6,258.29 L673.6,264.25 L674.6,270.43 L675.6,276.83 L676.6,283.43 L677.6,290.22 L678.6,297.19 L679.6,304.31 L680.6,311.58 L681.6,318.99 L682.6,326.51 L683.6,334.13 L684.6,341.85 L685.6,349.64 L686.6,357.49 L687.6,365.39 L688.6,373.33 L689.6,381.29 L690.6,389.26 L691.6,397.22 L692.6,405.17 L693.6,413.09 L694.6,420.97 L695.6,428.81 L696.6,436.58 L697.6,444.29 L698.6,451.91 L699.6,459.45 L700.6,466.89 L701.6,474.22 L702.6,481.44 L703.6,488.54 L704.6,495.52 L705.6,502.36 L706.6,509.07 L707.6,515.64 L708.6,522.05 L709.6,528.32 L710.6,534.44 L711.6,540.40 L712.6,546.20 L713.6,551.84 L714.6,557.31 L715.6,562.63 L716.6,567.78 L717.6,572.77 L718.6,577.59 L719.6,582.25 L720.6,586.75 L721.6,591.09 L722.6,595.27 L723.6,599.29 L724.6,603.15 L725.6,606.87 L726.6,610.43 L727.6,613.85 L728.6,617.12 L729.6,620.25 L730.6,623.24 L731.6,626.09 L732.6,628.82 L733.6,631.41 L734.6,633.88 L735.6,636.24 L736.6,638.47 L737.6,640.59 L738.6,642.61 L739.6,644.51 L740.6,646.32 L741.6,648.03 L742.6,649.64 L743.6,651.17 L744.6,652.61 L745.6,653.97 L746.6,655.24 L747.6,656.44 L748.6,657.57 L749.6,658.64 L750.6,659.63 L751.6,660.57 L752.6,661.44 L753.6,662.26 L754.6,663.02 L755.6,663.74 L756.6,664.41 L757.6,665.03 L758.6,665.61 L759.6,666.15 L760.6,666.65 L761.6,667.12 L762.6,667.55 L763.6,667.95 L764.6,668.32 L765.6,668.67 L766.6,668.99 L767.6,669.28 L768.6,669.56 L769.6,669.81 L770.6,670.04 L771.6,670.25 L772.6,670.45 L773.6,670.63 L774.6,670.80 L775.6,670.95 L776.6,671.09 L777.6,671.22 L778.6,671.34 L779.6,671.44 L780.6,671.54 L781.6,671.63 L782.6,671.71 L783.6,671.79 L784.6,671.86 L785.6,671.92 L786.6,671.98 L787.6,672.03 L788.6,672.07 L789.6,672.12 L790.6,672.16 L791.6,672.19 L792.6,672.22 L793.6,672.25 L794.6,672.28 L795.6,672.30 L796.6,672.32 L797.6,672.34 L798.6,672.36 L799.6,672.37 L800.6,672.39 L801.6,672.40 L802.6,672.41 L803.6,672.42 L804.6,672.43 L805.6,672.44 L806.6,672.44 L807.6,672.45 L808.6,672.46 L809.6,672.46 L810.6,672.46 L811.6,672.47 L812.6,672.47 L813.6,672.48 L814.6,672.48 L815.6,672.48 L816.6,672.48 L817.6,672.49 L818.6,672.49 L819.6,672.49 L820.6,672.49 L821.6,672.49 L822.6,672.49 L823.6,672.49 L824.6,672.49 L825.6,672.49 L826.6,672.50 L827.6,672.50 L828.6,672.50 L829.6,672.50 L830.6,672.50 L831.6,672.50 L832.6,672.50 L833.6,672.50 L834.6,672.50 L835.6,672.50 L836.6,672.50 L837.6,672.50 L838.6,672.50 L839.6,672.50 L840.6,672.50 L841.6,672.50 L842.6,672.50 L843.6,672.50 L844.6,672.50 L845.6,672.50 L846.6,672.50 L847.6,672.50 L848.6,672.50 L849.6,672.50 L850.6,672.50 L851.6,672.50 L852.6,672.50 L853.6,672.50 L854.6,672.50 L855.6,672.50 L856.6,672.50 L857.6,672.50 L858.6,672.50 L859.6,672.50 L860.6,672.50 L861.6,672.50 L862.6,672.50 L863.6,672.50 L864.6,672.50 L865.6,672.50 L866.6,672.50 L867.6,672.50 L868.6,672.50 L869.6,672.50 L870.6,672.50 L871.6,672.50 L872.6,672.50 L873.6,672.50 L874.6,672.50 L875.6,672.50 L876.6,672.50 L877.6,672.50 L878.6,672.50 L879.6,672.50 L880.6,672.50 L881.6,672.50 L882.6,672.50 L883.6,672.50 L884.6,672.50 L885.6,672.50 L886.6,672.50 L887.6,672.50 L888.6,672.50 L889.6,672.50 L890.6,672.50 L891.6,672.50 L892.6,672.50 L893.6,672.50 L894.6,672.50 L895.6,672.50 L896.6,672.50 L897.6,672.50 L898.6,672.50 L899.6,672.50 L900.6,672.50 L901.6,672.50 L902.6,672.50 L903.6,672.50 L904.6,672.50 L905.6,672.50 L906.6,672.50 L907.6,672.50 L908.6,672.50 L909.6,672.50 L910.6,672.50 L911.6,672.50 L912.6,672.50 L913.6,672.50 L914.6,672.50 L915.6,672.50 L916.6,672.50 L917.6,672.50 L918.6,672.50 L919.6,672.50 L920.6,672.50 L921.6,672.50 L922.6,672.50 L923.6,672.50 L924.6,672.50 L925.6,672.50 L926.6,672.50 L927.6,672.50 L928.6,672.50 L929.6,672.50 L930.6,672.50 L931.6,672.50 L932.6,672.50 L933.6,672.50 L934.6,672.50 L935.6,672.50 L936.6,672.50 L937.6,672.50 L938.6,672.50 L939.6,672.50 L940.6,672.50 L941.6,672.50 L942.6,672.50 L943.6,672.50 L944.6,672.50 L945.6,672.50 L946.6,672.50 L947.6,672.50 L948.6,672.50 L949.6,672.50 L950.6,672.50 L951.6,672.50 L952.6,672.50 L953.6,672.50 L954.6,672.50 L955.6,672.50 L956.6,672.50 L957.6,672.50 L958.6,672.50 L959.6,672.50 L960.6,672.50 L961.6,672.50 L962.6,672.50 L963.6,672.50 L964.6,672.50 L965.6,672.50 L966.6,672.50 L967.6,672.50 L968.6,672.50 L969.6,672.50 L970.6,672.50 L971.6,672.50 L972.6,672.50 L973.6,672.50 L974.6,672.50 L975.6,672.50 L976.6,672.50 L977.6,672.50 L978.6,672.50 L979.6,672.50 L980.6,672.50 L981.6,672.50 L982.6,672.50 L983.6,672.50 L984.6,672.50 L985.6,672.50 L986.6,672.50 L987.6,672.50 L988.6,672.50 L989.6,672.50 L990.6,672.50 L991.6,672.50 L992.6,672.50 L993.6,672.50 L994.6,672.50 L995.6,672.50 L996.6,672.50 L997.6,672.50 L998.6,672.50 L999.6,672.50 L1000.6,672.50 L1001.6,672.50 L1002.6,672.50 L1003.6,672.50 L1004.6,672.50 L1005.6,672.50 L1006.6,672.50 L1007.6,672.50" fill="none" stroke="#000099" stroke-width="3.3" stroke-linejoin="round"/>
<path d="M119.6,672.50 L120.6,672.50 L121.6,672.50 L122.6,672.50 L123.6,672.50 L124.6,672.50 L125.6,672.50 L126.6,672.50 L127.6,672.50 L128.6,672.50 L129.6,672.50 L130.6,672.50 L131.6,672.50 L132.6,672.50 L133.6,672.50 L134.6,672.50 L135.6,672.50 L136.6,672.50 L137.6,672.50 L138.6,672.50 L139.6,672.50 L140.6,672.50 L141.6,672.50 L142.6,672.50 L143.6,672.50 L144.6,672.50 L145.6,672.50 L146.6,672.50 L147.6,672.50 L148.6,672.50 L149.6,672.50 L150.6,672.50 L151.6,672.50 L152.6,672.50 L153.6,672.50 L154.6,672.50 L155.6,672.50 L156.6,672.50 L157.6,672.50 L158.6,672.50 L159.6,672.50 L160.6,672.50 L161.6,672.50 L162.6,672.50 L163.6,672.50 L164.6,672.50 L165.6,672.50 L166.6,672.50 L167.6,672.50 L168.6,672.50 L169.6,672.50 L170.6,672.50 L171.6,672.50 L172.6,672.50 L173.6,672.50 L174.6,672.50 L175.6,672.50 L176.6,672.50 L177.6,672.50 L178.6,672.50 L179.6,672.50 L180.6,672.50 L181.6,672.50 L182.6,672.50 L183.6,672.50 L184.6,672.50 L185.6,672.50 L186.6,672.50 L187.6,672.50 L188.6,672.50 L189.6,672.50 L190.6,672.50 L191.6,672.50 L192.6,672.50 L193.6,672.50 L194.6,672.50 L195.6,672.50 L196.6,672.50 L197.6,672.50 L198.6,672.50 L199.6,672.50 L200.6,672.50 L201.6,672.50 L202.6,672.50 L203.6,672.50 L204.6,672.50 L205.6,672.50 L206.6,672.50 L207.6,672.50 L208.6,672.50 L209.6,672.50 L210.6,672.50 L211.6,672.50 L212.6,672.50 L213.6,672.50 L214.6,672.50 L215.6,672.50 L216.6,672.50 L217.6,672.50 L218.6,672.50 L219.6,672.50 L220.6,672.50 L221.6,672.50 L222.6,672.50 L223.6,672.50 L224.6,672.50 L225.6,672.50 L226.6,672.50 L227.6,672.50 L228.6,672.50 L229.6,672.50 L230.6,672.50 L231.6,672.50 L232.6,672.50 L233.6,672.50 L234.6,672.50 L235.6,672.50 L236.6,672.50 L237.6,672.50 L238.6,672.50 L239.6,672.50 L240.6,672.50 L241.6,672.50 L242.6,672.50 L243.6,672.50 L244.6,672.50 L245.6,672.50 L246.6,672.50 L247.6,672.50 L248.6,672.50 L249.6,672.50 L250.6,672.50 L251.6,672.50 L252.6,672.50 L253.6,672.50 L254.6,672.50 L255.6,672.50 L256.6,672.50 L257.6,672.50 L258.6,672.50 L259.6,672.50 L260.6,672.50 L261.6,672.50 L262.6,672.50 L263.6,672.50 L264.6,672.50 L265.6,672.50 L266.6,672.50 L267.6,672.50 L268.6,672.50 L269.6,672.50 L270.6,672.50 L271.6,672.50 L272.6,672.50 L273.6,672.50 L274.6,672.50 L275.6,672.50 L276.6,672.50 L277.6,672.50 L278.6,672.50 L279.6,672.50 L280.6,672.50 L281.6,672.50 L282.6,672.50 L283.6,672.50 L284.6,672.50 L285.6,672.50 L286.6,672.50 L287.6,672.50 L288.6,672.50 L289.6,672.50 L290.6,672.50 L291.6,672.50 L292.6,672.50 L293.6,672.50 L294.6,672.50 L295.6,672.50 L296.6,672.50 L297.6,672.50 L298.6,672.50 L299.6,672.50 L300.6,672.50 L301.6,672.50 L302.6,672.50 L303.6,672.50 L304.6,672.50 L305.6,672.50 L306.6,672.50 L307.6,672.50 L308.6,672.50 L309.6,672.50 L310.6,672.50 L311.6,672.50 L312.6,672.50 L313.6,672.50 L314.6,672.50 L315.6,672.50 L316.6,672.50 L317.6,672.50 L318.6,672.50 L319.6,672.50 L320.6,672.50 L321.6,672.50 L322.6,672.50 L323.6,672.50 L324.6,672.50 L325.6,672.50 L326.6,672.50 L327.6,672.50 L328.6,672.50 L329.6,672.50 L330.6,672.50 L331.6,672.50 L332.6,672.50 L333.6,672.50 L334.6,672.50 L335.6,672.50 L336.6,672.50 L337.6,672.50 L338.6,672.50 L339.6,672.50 L340.6,672.50 L341.6,672.50 L342.6,672.50 L343.6,672.50 L344.6,672.50 L345.6,672.50 L346.6,672.50 L347.6,672.50 L348.6,672.50 L349.6,672.50 L350.6,672.50 L351.6,672.50 L352.6,672.50 L353.6,672.50 L354.6,672.50 L355.6,672.50 L356.6,672.50 L357.6,672.50 L358.6,672.50 L359.6,672.50 L360.6,672.50 L361.6,672.50 L362.6,672.50 L363.6,672.50 L364.6,672.50 L365.6,672.50 L366.6,672.50 L367.6,672.50 L368.6,672.50 L369.6,672.50 L370.6,672.50 L371.6,672.50 L372.6,672.50 L373.6,672.50 L374.6,672.50 L375.6,672.50 L376.6,672.50 L377.6,672.50 L378.6,672.50 L379.6,672.50 L380.6,672.50 L381.6,672.50 L382.6,672.50 L383.6,672.50 L384.6,672.50 L385.6,672.50 L386.6,672.50 L387.6,672.50 L388.6,672.50 L389.6,672.50 L390.6,672.50 L391.6,672.50 L392.6,672.50 L393.6,672.50 L394.6,672.50 L395.6,672.50 L396.6,672.50 L397.6,672.50 L398.6,672.50 L399.6,672.50 L400.6,672.50 L401.6,672.50 L402.6,672.50 L403.6,672.50 L404.6,672.50 L405.6,672.50 L406.6,672.50 L407.6,672.50 L408.6,672.50 L409.6,672.50 L410.6,672.50 L411.6,672.50 L412.6,672.50 L413.6,672.50 L414.6,672.50 L415.6,672.50 L416.6,672.50 L417.6,672.50 L418.6,672.50 L419.6,672.50 L420.6,672.50 L421.6,672.50 L422.6,672.50 L423.6,672.50 L424.6,672.50 L425.6,672.50 L426.6,672.50 L427.6,672.50 L428.6,672.50 L429.6,672.50 L430.6,672.50 L431.6,672.50 L432.6,672.50 L433.6,672.50 L434.6,672.50 L435.6,672.50 L436.6,672.50 L437.6,672.50 L438.6,672.50 L439.6,672.50 L440.6,672.50 L441.6,672.50 L442.6,672.50 L443.6,672.50 L444.6,672.50 L445.6,672.50 L446.6,672.50 L447.6,672.50 L448.6,672.50 L449.6,672.50 L450.6,672.50 L451.6,672.50 L452.6,672.50 L453.6,672.50 L454.6,672.50 L455.6,672.50 L456.6,672.50 L457.6,672.50 L458.6,672.50 L459.6,672.50 L460.6,672.50 L461.6,672.50 L462.6,672.50 L463.6,672.50 L464.6,672.50 L465.6,672.50 L466.6,672.50 L467.6,672.50 L468.6,672.50 L469.6,672.50 L470.6,672.50 L471.6,672.50 L472.6,672.50 L473.6,672.50 L474.6,672.50 L475.6,672.50 L476.6,672.50 L477.6,672.50 L478.6,672.50 L479.6,672.50 L480.6,672.50 L481.6,672.50 L482.6,672.50 L483.6,672.50 L484.6,672.50 L485.6,672.50 L486.6,672.50 L487.6,672.50 L488.6,672.50 L489.6,672.50 L490.6,672.50 L491.6,672.50 L492.6,672.50 L493.6,672.50 L494.6,672.50 L495.6,672.50 L496.6,672.50 L497.6,672.50 L498.6,672.50 L499.6,672.50 L500.6,672.50 L501.6,672.50 L502.6,672.50 L503.6,672.50 L504.6,672.50 L505.6,672.50 L506.6,672.50 L507.6,672.50 L508.6,672.50 L509.6,672.50 L510.6,672.50 L511.6,672.50 L512.6,672.50 L513.6,672.50 L514.6,672.50 L515.6,672.50 L516.6,672.50 L517.6,672.50 L518.6,672.50 L519.6,672.50 L520.6,672.50 L521.6,672.50 L522.6,672.50 L523.6,672.50 L524.6,672.50 L525.6,672.50 L526.6,672.50 L527.6,672.50 L528.6,672.50 L529.6,672.50 L530.6,672.50 L531.6,672.50 L532.6,672.50 L533.6,672.50 L534.6,672.50 L535.6,672.50 L536.6,672.50 L537.6,672.50 L538.6,672.50 L539.6,672.50 L540.6,672.50 L541.6,672.50 L542.6,672.50 L543.6,672.50 L544.6,672.50 L545.6,672.50 L546.6,672.50 L547.6,672.50 L548.6,672.50 L549.6,672.50 L550.6,672.50 L551.6,672.50 L552.6,672.50 L553.6,672.50 L554.6,672.50 L555.6,672.50 L556.6,672.50 L557.6,672.50 L558.6,672.50 L559.6,672.50 L560.6,672.50 L561.6,672.50 L562.6,672.50 L563.6,672.50 L564.6,672.50 L565.6,672.50 L566.6,672.50 L567.6,672.50 L568.6,672.50 L569.6,672.50 L570.6,672.50 L571.6,672.50 L572.6,672.50 L573.6,672.50 L574.6,672.50 L575.6,672.50 L576.6,672.50 L577.6,672.50 L578.6,672.50 L579.6,672.50 L580.6,672.50 L581.6,672.50 L582.6,672.50 L583.6,672.50 L584.6,672.50 L585.6,672.50 L586.6,672.50 L587.6,672.50 L588.6,672.50 L589.6,672.50 L590.6,672.50 L591.6,672.50 L592.6,672.50 L593.6,672.50 L594.6,672.50 L595.6,672.50 L596.6,672.50 L597.6,672.49 L598.6,672.49 L599.6,672.49 L600.6,672.49 L601.6,672.49 L602.6,672.49 L603.6,672.48 L604.6,672.48 L605.6,672.48 L606.6,672.47 L607.6,672.47 L608.6,672.46 L609.6,672.45 L610.6,672.44 L611.6,672.43 L612.6,672.42 L613.6,672.41 L614.6,672.39 L615.6,672.37 L616.6,672.35 L617.6,672.32 L618.6,672.29 L619.6,672.26 L620.6,672.22 L621.6,672.18 L622.6,672.12 L623.6,672.06 L624.6,672.00 L625.6,671.92 L626.6,671.83 L627.6,671.73 L628.6,671.62 L629.6,671.49 L630.6,671.34 L631.6,671.17 L632.6,670.99 L633.6,670.78 L634.6,670.54 L635.6,670.28 L636.6,669.99 L637.6,669.66 L638.6,669.29 L639.6,668.89 L640.6,668.44 L641.6,667.94 L642.6,667.39 L643.6,666.79 L644.6,666.12 L645.6,665.39 L646.6,664.58 L647.6,663.71 L648.6,662.75 L649.6,661.70 L650.6,660.57 L651.6,659.34 L652.6,658.01 L653.6,656.57 L654.6,655.02 L655.6,653.35 L656.6,651.55 L657.6,649.64 L658.6,647.58 L659.6,645.39 L660.6,643.07 L661.6,640.59 L662.6,637.97 L663.6,635.20 L664.6,632.27 L665.6,629.20 L666.6,625.97 L667.6,622.58 L668.6,619.04 L669.6,615.35 L670.6,611.52 L671.6,607.53 L672.6,603.41 L673.6,599.16 L674.6,594.78 L675.6,590.28 L676.6,585.68 L677.6,580.97 L678.6,576.18 L679.6,571.32 L680.6,566.40 L681.6,561.43 L682.6,556.43 L683.6,551.41 L684.6,546.40 L685.6,541.42 L686.6,536.47 L687.6,531.58 L688.6,526.77 L689.6,522.06 L690.6,517.47 L691.6,513.02 L692.6,508.73 L693.6,504.61 L694.6,500.69 L695.6,496.99 L696.6,493.52 L697.6,490.30 L698.6,487.34 L699.6,484.67 L700.6,482.29 L701.6,480.21 L702.6,478.45 L703.6,477.02 L704.6,475.92 L705.6,475.16 L706.6,474.74 L707.6,474.67 L708.6,474.94 L709.6,475.55 L710.6,476.51 L711.6,477.80 L712.6,479.42 L713.6,481.36 L714.6,483.62 L715.6,486.17 L716.6,489.00 L717.6,492.11 L718.6,495.48 L719.6,499.09 L720.6,502.92 L721.6,506.95 L722.6,511.17 L723.6,515.56 L724.6,520.09 L725.6,524.75 L726.6,529.52 L727.6,534.38 L728.6,539.30 L729.6,544.27 L730.6,549.27 L731.6,554.29 L732.6,559.30 L733.6,564.28 L734.6,569.23 L735.6,574.12 L736.6,578.94 L737.6,583.68 L738.6,588.33 L739.6,592.88 L740.6,597.31 L741.6,601.62 L742.6,605.79 L743.6,609.84 L744.6,613.73 L745.6,617.49 L746.6,621.09 L747.6,624.54 L748.6,627.84 L749.6,630.98 L750.6,633.97 L751.6,636.81 L752.6,639.49 L753.6,642.03 L754.6,644.42 L755.6,646.67 L756.6,648.78 L757.6,650.75 L758.6,652.60 L759.6,654.32 L760.6,655.92 L761.6,657.41 L762.6,658.78 L763.6,660.06 L764.6,661.23 L765.6,662.31 L766.6,663.31 L767.6,664.22 L768.6,665.05 L769.6,665.81 L770.6,666.51 L771.6,667.14 L772.6,667.71 L773.6,668.23 L774.6,668.70 L775.6,669.13 L776.6,669.51 L777.6,669.85 L778.6,670.16 L779.6,670.44 L780.6,670.68 L781.6,670.90 L782.6,671.10 L783.6,671.27 L784.6,671.43 L785.6,671.56 L786.6,671.68 L787.6,671.79 L788.6,671.88 L789.6,671.96 L790.6,672.04 L791.6,672.10 L792.6,672.15 L793.6,672.20 L794.6,672.24 L795.6,672.28 L796.6,672.31 L797.6,672.34 L798.6,672.36 L799.6,672.38 L800.6,672.40 L801.6,672.42 L802.6,672.43 L803.6,672.44 L804.6,672.45 L805.6,672.46 L806.6,672.46 L807.6,672.47 L808.6,672.47 L809.6,672.48 L810.6,672.48 L811.6,672.49 L812.6,672.49 L813.6,672.49 L814.6,672.49 L815.6,672.49 L816.6,672.49 L817.6,672.50 L818.6,672.50 L819.6,672.50 L820.6,672.50 L821.6,672.50 L822.6,672.50 L823.6,672.50 L824.6,672.50 L825.6,672.50 L826.6,672.50 L827.6,672.50 L828.6,672.50 L829.6,672.50 L830.6,672.50 L831.6,672.50 L832.6,672.50 L833.6,672.50 L834.6,672.50 L835.6,672.50 L836.6,672.50 L837.6,672.50 L838.6,672.50 L839.6,672.50 L840.6,672.50 L841.6,672.50 L842.6,672.50 L843.6,672.50 L844.6,672.50 L845.6,672.50 L846.6,672.50 L847.6,672.50 L848.6,672.50 L849.6,672.50 L850.6,672.50 L851.6,672.50 L852.6,672.50 L853.6,672.50 L854.6,672.50 L855.6,672.50 L856.6,672.50 L857.6,672.50 L858.6,672.50 L859.6,672.50 L860.6,672.50 L861.6,672.50 L862.6,672.50 L863.6,672.50 L864.6,672.50 L865.6,672.50 L866.6,672.50 L867.6,672.50 L868.6,672.50 L869.6,672.50 L870.6,672.50 L871.6,672.50 L872.6,672.50 L873.6,672.50 L874.6,672.50 L875.6,672.50 L876.6,672.50 L877.6,672.50 L878.6,672.50 L879.6,672.50 L880.6,672.50 L881.6,672.50 L882.6,672.50 L883.6,672.50 L884.6,672.50 L885.6,672.50 L886.6,672.50 L887.6,672.50 L888.6,672.50 L889.6,672.50 L890.6,672.50 L891.6,672.50 L892.6,672.50 L893.6,672.50 L894.6,672.50 L895.6,672.50 L896.6,672.50 L897.6,672.50 L898.6,672.50 L899.6,672.50 L900.6,672.50 L901.6,672.50 L902.6,672.50 L903.6,672.50 L904.6,672.50 L905.6,672.50 L906.6,672.50 L907.6,672.50 L908.6,672.50 L909.6,672.50 L910.6,672.50 L911.6,672.50 L912.6,672.50 L913.6,672.50 L914.6,672.50 L915.6,672.50 L916.6,672.50 L917.6,672.50 L918.6,672.50 L919.6,672.50 L920.6,672.50 L921.6,672.50 L922.6,672.50 L923.6,672.50 L924.6,672.50 L925.6,672.50 L926.6,672.50 L927.6,672.50 L928.6,672.50 L929.6,672.50 L930.6,672.50 L931.6,672.50 L932.6,672.50 L933.6,672.50 L934.6,672.50 L935.6,672.50 L936.6,672.50 L937.6,672.50 L938.6,672.50 L939.6,672.50 L940.6,672.50 L941.6,672.50 L942.6,672.50 L943.6,672.50 L944.6,672.50 L945.6,672.50 L946.6,672.50 L947.6,672.50 L948.6,672.50 L949.6,672.50 L950.6,672.50 L951.6,672.50 L952.6,672.50 L953.6,672.50 L954.6,672.50 L955.6,672.50 L956.6,672.50 L957.6,672.50 L958.6,672.50 L959.6,672.50 L960.6,672.50 L961.6,672.50 L962.6,672.50 L963.6,672.50 L964.6,672.50 L965.6,672.50 L966.6,672.50 L967.6,672.50 L968.6,672.50 L969.6,672.50 L970.6,672.50 L971.6,672.50 L972.6,672.50 L973.6,672.50 L974.6,672.50 L975.6,672.50 L976.6,672.50 L977.6,672.50 L978.6,672.50 L979.6,672.50 L980.6,672.50 L981.6,672.50 L982.6,672.50 L983.6,672.50 L984.6,672.50 L985.6,672.50 L986.6,672.50 L987.6,672.50 L988.6,672.50 L989.6,672.50 L990.6,672.50 L991.6,672.50 L992.6,672.50 L993.6,672.50 L994.6,672.50 L995.6,672.50 L996.6,672.50 L997.6,672.50 L998.6,672.50 L999.6,672.50 L1000.6,672.50 L1001.6,672.50 L1002.6,672.50 L1003.6,672.50 L1004.6,672.50 L1005.6,672.50 L1006.6,672.50 L1007.6,672.50" fill="none" stroke="#990099" stroke-width="3.3" stroke-linejoin="round"/>
<path d="M119.6,672.50 L120.6,672.50 L121.6,672.50 L122.6,672.50 L123.6,672.50 L124.6,672.50 L125.6,672.50 L126.6,672.50 L127.6,672.50 L128.6,672.50 L129.6,672.50 L130.6,672.50 L131.6,672.50 L132.6,672.50 L133.6,672.50 L134.6,672.50 L135.6,672.50 L136.6,672.50 L137.6,672.50 L138.6,672.50 L139.6,672.50 L140.6,672.50 L141.6,672.50 L142.6,672.50 L143.6,672.50 L144.6,672.50 L145.6,672.50 L146.6,672.50 L147.6,672.50 L148.6,672.50 L149.6,672.50 L150.6,672.50 L151.6,672.50 L152.6,672.50 L153.6,672.50 L154.6,672.50 L155.6,672.50 L156.6,672.50 L157.6,672.50 L158.6,672.50 L159.6,672.50 L160.6,672.50 L161.6,672.50 L162.6,672.50 L163.6,672.50 L164.6,672.50 L165.6,672.50 L166.6,672.50 L167.6,672.50 L168.6,672.50 L169.6,672.50 L170.6,672.50 L171.6,672.50 L172.6,672.50 L173.6,672.50 L174.6,672.50 L175.6,672.50 L176.6,672.50 L177.6,672.50 L178.6,672.50 L179.6,672.50 L180.6,672.50 L181.6,672.50 L182.6,672.50 L183.6,672.50 L184.6,672.50 L185.6,672.50 L186.6,672.50 L187.6,672.50 L188.6,672.50 L189.6,672.50 L190.6,672.50 L191.6,672.50 L192.6,672.50 L193.6,672.50 L194.6,672.50 L195.6,672.50 L196.6,672.50 L197.6,672.50 L198.6,672.50 L199.6,672.50 L200.6,672.50 L201.6,672.50 L202.6,672.50 L203.6,672.50 L204.6,672.50 L205.6,672.50 L206.6,672.50 L207.6,672.50 L208.6,672.50 L209.6,672.50 L210.6,672.50 L211.6,672.50 L212.6,672.50 L213.6,672.50 L214.6,672.50 L215.6,672.50 L216.6,672.50 L217.6,672.50 L218.6,672.50 L219.6,672.50 L220.6,672.50 L221.6,672.50 L222.6,672.50 L223.6,672.50 L224.6,672.50 L225.6,672.50 L226.6,672.50 L227.6,672.50 L228.6,672.50 L229.6,672.50 L230.6,672.50 L231.6,672.50 L232.6,672.50 L233.6,672.50 L234.6,672.50 L235.6,672.50 L236.6,672.50 L237.6,672.50 L238.6,672.50 L239.6,672.50 L240.6,672.50 L241.6,672.50 L242.6,672.50 L243.6,672.50 L244.6,672.50 L245.6,672.50 L246.6,672.50 L247.6,672.50 L248.6,672.50 L249.6,672.50 L250.6,672.50 L251.6,672.50 L252.6,672.50 L253.6,672.50 L254.6,672.50 L255.6,672.50 L256.6,672.50 L257.6,672.50 L258.6,672.50 L259.6,672.50 L260.6,672.50 L261.6,672.50 L262.6,672.50 L263.6,672.50 L264.6,672.50 L265.6,672.50 L266.6,672.50 L267.6,672.50 L268.6,672.50 L269.6,672.50 L270.6,672.50 L271.6,672.50 L272.6,672.50 L273.6,672.50 L274.6,672.50 L275.6,672.50 L276.6,672.50 L277.6,672.50 L278.6,672.50 L279.6,672.50 L280.6,672.50 L281.6,672.50 L282.6,672.50 L283.6,672.50 L284.6,672.50 L285.6,672.50 L286.6,672.50 L287.6,672.50 L288.6,672.50 L289.6,672.50 L290.6,672.50 L291.6,672.50 L292.6,672.50 L293.6,672.50 L294.6,672.50 L295.6,672.50 L296.6,672.50 L297.6,672.50 L298.6,672.50 L299.6,672.50 L300.6,672.50 L301.6,672.50 L302.6,672.50 L303.6,672.50 L304.6,672.50 L305.6,672.50 L306.6,672.50 L307.6,672.50 L308.6,672.50 L309.6,672.50 L310.6,672.50 L311.6,672.50 L312.6,672.50 L313.6,672.50 L314.6,672.50 L315.6,672.50 L316.6,672.50 L317.6,672.50 L318.6,672.50 L319.6,672.50 L320.6,672.50 L321.6,672.50 L322.6,672.50 L323.6,672.50 L324.6,672.50 L325.6,672.50 L326.6,672.50 L327.6,672.50 L328.6,672.50 L329.6,672.50 L330.6,672.50 L331.6,672.50 L332.6,672.50 L333.6,672.50 L334.6,672.50 L335.6,672.50 L336.6,672.50 L337.6,672.50 L338.6,672.50 L339.6,672.50 L340.6,672.50 L341.6,672.50 L342.6,672.50 L343.6,672.50 L344.6,672.50 L345.6,672.50 L346.6,672.50 L347.6,672.50 L348.6,672.50 L349.6,672.50 L350.6,672.50 L351.6,672.50 L352.6,672.50 L353.6,672.50 L354.6,672.50 L355.6,672.50 L356.6,672.50 L357.6,672.50 L358.6,672.50 L359.6,672.50 L360.6,672.50 L361.6,672.50 L362.6,672.50 L363.6,672.50 L364.6,672.50 L365.6,672.50 L366.6,672.50 L367.6,672.50 L368.6,672.50 L369.6,672.50 L370.6,672.50 L371.6,672.50 L372.6,672.50 L373.6,672.50 L374.6,672.50 L375.6,672.50 L376.6,672.50 L377.6,672.50 L378.6,672.50 L379.6,672.50 L380.6,672.50 L381.6,672.50 L382.6,672.50 L383.6,672.50 L384.6,672.50 L385.6,672.50 L386.6,672.50 L387.6,672.50 L388.6,672.50 L389.6,672.50 L390.6,672.50 L391.6,672.50 L392.6,672.50 L393.6,672.50 L394.6,672.50 L395.6,672.50 L396.6,672.50 L397.6,672.50 L398.6,672.50 L399.6,672.50 L400.6,672.50 L401.6,672.50 L402.6,672.50 L403.6,672.50 L404.6,672.50 L405.6,672.50 L406.6,672.50 L407.6,672.50 L408.6,672.50 L409.6,672.50 L410.6,672.50 L411.6,672.50 L412.6,672.50 L413.6,672.50 L414.6,672.50 L415.6,672.50 L416.6,672.50 L417.6,672.50 L418.6,672.50 L419.6,672.50 L420.6,672.50 L421.6,672.50 L422.6,672.50 L423.6,672.50 L424.6,672.50 L425.6,672.50 L426.6,672.50 L427.6,672.50 L428.6,672.50 L429.6,672.50 L430.6,672.50 L431.6,672.50 L432.6,672.50 L433.6,672.50 L434.6,672.50 L435.6,672.50 L436.6,672.50 L437.6,672.50 L438.6,672.50 L439.6,672.50 L440.6,672.50 L441.6,672.50 L442.6,672.50 L443.6,672.50 L444.6,672.50 L445.6,672.50 L446.6,672.50 L447.6,672.50 L448.6,672.50 L449.6,672.50 L450.6,672.50 L451.6,672.50 L452.6,672.50 L453.6,672.50 L454.6,672.50 L455.6,672.50 L456.6,672.50 L457.6,672.50 L458.6,672.50 L459.6,672.50 L460.6,672.50 L461.6,672.50 L462.6,672.50 L463.6,672.50 L464.6,672.50 L465.6,672.50 L466.6,672.50 L467.6,672.50 L468.6,672.50 L469.6,672.50 L470.6,672.50 L471.6,672.50 L472.6,672.50 L473.6,672.50 L474.6,672.50 L475.6,672.50 L476.6,672.50 L477.6,672.50 L478.6,672.50 L479.6,672.50 L480.6,672.50 L481.6,672.50 L482.6,672.50 L483.6,672.50 L484.6,672.50 L485.6,672.50 L486.6,672.50 L487.6,672.50 L488.6,672.50 L489.6,672.50 L490.6,672.50 L491.6,672.50 L492.6,672.50 L493.6,672.50 L494.6,672.50 L495.6,672.50 L496.6,672.50 L497.6,672.50 L498.6,672.50 L499.6,672.50 L500.6,672.50 L501.6,672.50 L502.6,672.50 L503.6,672.50 L504.6,672.50 L505.6,672.50 L506.6,672.50 L507.6,672.50 L508.6,672.50 L509.6,672.50 L510.6,672.50 L511.6,672.50 L512.6,672.50 L513.6,672.50 L514.6,672.50 L515.6,672.50 L516.6,672.50 L517.6,672.50 L518.6,672.50 L519.6,672.50 L520.6,672.50 L521.6,672.50 L522.6,672.50 L523.6,672.50 L524.6,672.50 L525.6,672.50 L526.6,672.50 L527.6,672.50 L528.6,672.50 L529.6,672.50 L530.6,672.50 L531.6,672.50 L532.6,672.50 L533.6,672.50 L534.6,672.50 L535.6,672.50 L536.6,672.50 L537.6,672.50 L538.6,672.50 L539.6,672.50 L540.6,672.50 L541.6,672.50 L542.6,672.50 L543.6,672.50 L544.6,672.50 L545.6,672.50 L546.6,672.50 L547.6,672.50 L548.6,672.50 L549.6,672.50 L550.6,672.50 L551.6,672.50 L552.6,672.50 L553.6,672.50 L554.6,672.50 L555.6,672.50 L556.6,672.50 L557.6,672.50 L558.6,672.50 L559.6,672.50 L560.6,672.50 L561.6,672.50 L562.6,672.50 L563.6,672.50 L564.6,672.50 L565.6,672.50 L566.6,672.50 L567.6,672.50 L568.6,672.50 L569.6,672.50 L570.6,672.49 L571.6,672.49 L572.6,672.49 L573.6,672.49 L574.6,672.49 L575.6,672.49 L576.6,672.49 L577.6,672.49 L578.6,672.49 L579.6,672.49 L580.6,672.49 L581.6,672.49 L582.6,672.49 L583.6,672.49 L584.6,672.48 L585.6,672.48 L586.6,672.48 L587.6,672.48 L588.6,672.48 L589.6,672.48 L590.6,672.48 L591.6,672.47 L592.6,672.47 L593.6,672.47 L594.6,672.47 L595.6,672.46 L596.6,672.46 L597.6,672.46 L598.6,672.46 L599.6,672.45 L600.6,672.45 L601.6,672.45 L602.6,672.44 L603.6,672.44 L604.6,672.43 L605.6,672.43 L606.6,672.42 L607.6,672.42 L608.6,672.41 L609.6,672.41 L610.6,672.40 L611.6,672.39 L612.6,672.39 L613.6,672.38 L614.6,672.37 L615.6,672.36 L616.6,672.35 L617.6,672.34 L618.6,672.33 L619.6,672.32 L620.6,672.31 L621.6,672.30 L622.6,672.29 L623.6,672.27 L624.6,672.26 L625.6,672.24 L626.6,672.23 L627.6,672.21 L628.6,672.20 L629.6,672.18 L630.6,672.16 L631.6,672.14 L632.6,672.12 L633.6,672.09 L634.6,672.07 L635.6,672.04 L636.6,672.02 L637.6,671.99 L638.6,671.96 L639.6,671.93 L640.6,671.90 L641.6,671.87 L642.6,671.83 L643.6,671.80 L644.6,671.76 L645.6,671.72 L646.6,671.68 L647.6,671.63 L648.6,671.59 L649.6,671.54 L650.6,671.49 L651.6,671.44 L652.6,671.39 L653.6,671.33 L654.6,671.27 L655.6,671.21 L656.6,671.15 L657.6,671.08 L658.6,671.02 L659.6,670.94 L660.6,670.87 L661.6,670.79 L662.6,670.71 L663.6,670.63 L664.6,670.55 L665.6,670.46 L666.6,670.36 L667.6,670.27 L668.6,670.17 L669.6,670.07 L670.6,669.96 L671.6,669.85 L672.6,669.74 L673.6,669.62 L674.6,669.50 L675.6,669.38 L676.6,669.25 L677.6,669.12 L678.6,668.98 L679.6,668.84 L680.6,668.70 L681.6,668.55 L682.6,668.39 L683.6,668.24 L684.6,668.08 L685.6,667.91 L686.6,667.74 L687.6,667.57 L688.6,667.39 L689.6,667.20 L690.6,667.01 L691.6,666.82 L692.6,666.63 L693.6,666.42 L694.6,666.22 L695.6,666.01 L696.6,665.79 L697.6,665.57 L698.6,665.35 L699.6,665.12 L700.6,664.89 L701.6,664.65 L702.6,664.41 L703.6,664.16 L704.6,663.92 L705.6,663.66 L706.6,663.40 L707.6,663.14 L708.6,662.88 L709.6,662.61 L710.6,662.34 L711.6,662.06 L712.6,661.78 L713.6,661.50 L714.6,661.21 L715.6,660.92 L716.6,660.63 L717.6,660.34 L718.6,660.04 L719.6,659.74 L720.6,659.44 L721.6,659.14 L722.6,658.83 L723.6,658.53 L724.6,658.22 L725.6,657.91 L726.6,657.60 L727.6,657.29 L728.6,656.98 L729.6,656.66 L730.6,656.35 L731.6,656.04 L732.6,655.73 L733.6,655.42 L734.6,655.11 L735.6,654.80 L736.6,654.49 L737.6,654.19 L738.6,653.89 L739.6,653.59 L740.6,653.29 L741.6,652.99 L742.6,652.70 L743.6,652.41 L744.6,652.12 L745.6,651.84 L746.6,651.57 L747.6,651.29 L748.6,651.02 L749.6,650.76 L750.6,650.50 L751.6,650.25 L752.6,650.00 L753.6,649.76 L754.6,649.53 L755.6,649.30 L756.6,649.08 L757.6,648.86 L758.6,648.66 L759.6,648.46 L760.6,648.27 L761.6,648.08 L762.6,647.91 L763.6,647.74 L764.6,647.58 L765.6,647.43 L766.6,647.29 L767.6,647.15 L768.6,647.03 L769.6,646.91 L770.6,646.81 L771.6,646.71 L772.6,646.63 L773.6,646.55 L774.6,646.48 L775.6,646.43 L776.6,646.38 L777.6,646.34 L778.6,646.31 L779.6,646.30 L780.6,646.29 L781.6,646.29 L782.6,646.31 L783.6,646.33 L784.6,646.36 L785.6,646.41 L786.6,646.46 L787.6,646.52 L788.6,646.60 L789.6,646.68 L790.6,646.77 L791.6,646.87 L792.6,646.98 L793.6,647.10 L794.6,647.23 L795.6,647.37 L796.6,647.52 L797.6,647.68 L798.6,647.84 L799.6,648.01 L800.6,648.19 L801.6,648.38 L802.6,648.58 L803.6,648.79 L804.6,649.00 L805.6,649.22 L806.6,649.44 L807.6,649.67 L808.6,649.91 L809.6,650.16 L810.6,650.41 L811.6,650.66 L812.6,650.92 L813.6,651.19 L814.6,651.46 L815.6,651.74 L816.6,652.02 L817.6,652.30 L818.6,652.59 L819.6,652.88 L820.6,653.17 L821.6,653.47 L822.6,653.77 L823.6,654.07 L824.6,654.38 L825.6,654.68 L826.6,654.99 L827.6,655.30 L828.6,655.61 L829.6,655.92 L830.6,656.23 L831.6,656.55 L832.6,656.86 L833.6,657.17 L834.6,657.48 L835.6,657.79 L836.6,658.10 L837.6,658.41 L838.6,658.72 L839.6,659.02 L840.6,659.33 L841.6,659.63 L842.6,659.93 L843.6,660.22 L844.6,660.52 L845.6,660.81 L846.6,661.10 L847.6,661.39 L848.6,661.67 L849.6,661.95 L850.6,662.23 L851.6,662.51 L852.6,662.78 L853.6,663.04 L854.6,663.31 L855.6,663.56 L856.6,663.82 L857.6,664.07 L858.6,664.32 L859.6,664.56 L860.6,664.80 L861.6,665.03 L862.6,665.26 L863.6,665.49 L864.6,665.71 L865.6,665.93 L866.6,666.14 L867.6,666.35 L868.6,666.55 L869.6,666.75 L870.6,666.94 L871.6,667.13 L872.6,667.32 L873.6,667.50 L874.6,667.67 L875.6,667.85 L876.6,668.01 L877.6,668.18 L878.6,668.34 L879.6,668.49 L880.6,668.64 L881.6,668.79 L882.6,668.93 L883.6,669.07 L884.6,669.20 L885.6,669.33 L886.6,669.46 L887.6,669.58 L888.6,669.70 L889.6,669.81 L890.6,669.92 L891.6,670.03 L892.6,670.13 L893.6,670.23 L894.6,670.33 L895.6,670.42 L896.6,670.51 L897.6,670.60 L898.6,670.68 L899.6,670.76 L900.6,670.84 L901.6,670.92 L902.6,670.99 L903.6,671.06 L904.6,671.12 L905.6,671.19 L906.6,671.25 L907.6,671.31 L908.6,671.37 L909.6,671.42 L910.6,671.47 L911.6,671.52 L912.6,671.57 L913.6,671.62 L914.6,671.66 L915.6,671.70 L916.6,671.74 L917.6,671.78 L918.6,671.82 L919.6,671.86 L920.6,671.89 L921.6,671.92 L922.6,671.95 L923.6,671.98 L924.6,672.01 L925.6,672.04 L926.6,672.06 L927.6,672.08 L928.6,672.11 L929.6,672.13 L930.6,672.15 L931.6,672.17 L932.6,672.19 L933.6,672.21 L934.6,672.22 L935.6,672.24 L936.6,672.25 L937.6,672.27 L938.6,672.28 L939.6,672.29 L940.6,672.31 L941.6,672.32 L942.6,672.33 L943.6,672.34 L944.6,672.35 L945.6,672.36 L946.6,672.37 L947.6,672.38 L948.6,672.38 L949.6,672.39 L950.6,672.40 L951.6,672.40 L952.6,672.41 L953.6,672.42 L954.6,672.42 L955.6,672.43 L956.6,672.43 L957.6,672.44 L958.6,672.44 L959.6,672.44 L960.6,672.45 L961.6,672.45 L962.6,672.45 L963.6,672.46 L964.6,672.46 L965.6,672.46 L966.6,672.47 L967.6,672.47 L968.6,672.47 L969.6,672.47 L970.6,672.47 L971.6,672.48 L972.6,672.48 L973.6,672.48 L974.6,672.48 L975.6,672.48 L976.6,672.48 L977.6,672.48 L978.6,672.49 L979.6,672.49 L980.6,672.49 L981.6,672.49 L982.6,672.49 L983.6,672.49 L984.6,672.49 L985.6,672.49 L986.6,672.49 L987.6,672.49 L988.6,672.49 L989.6,672.49 L990.6,672.49 L991.6,672.49 L992.6,672.50 L993.6,672.50 L994.6,672.50 L995.6,672.50 L996.6,672.50 L997.6,672.50 L998.6,672.50 L999.6,672.50 L1000.6,672.50 L1001.6,672.50 L1002.6,672.50 L1003.6,672.50 L1004.6,672.50 L1005.6,672.50 L1006.6,672.50 L1007.6,672.50" fill="none" stroke="#990000" stroke-width="3.3" stroke-linejoin="round"/>
<path d="M119.6,672.50 L120.6,672.50 L121.6,672.50 L122.6,672.50 L123.6,672.50 L124.6,672.50 L125.6,672.50 L126.6,672.50 L127.6,672.50 L128.6,672.50 L129.6,672.50 L130.6,672.50 L131.6,672.50 L132.6,672.50 L133.6,672.50 L134.6,672.50 L135.6,672.50 L136.6,672.50 L137.6,672.50 L138.6,672.50 L139.6,672.50 L140.6,672.50 L141.6,672.50 L142.6,672.50 L143.6,672.50 L144.6,672.50 L145.6,672.50 L146.6,672.50 L147.6,672.50 L148.6,672.50 L149.6,672.50 L150.6,672.50 L151.6,672.50 L152.6,672.50 L153.6,672.50 L154.6,672.50 L155.6,672.50 L156.6,672.50 L157.6,672.50 L158.6,672.50 L159.6,672.50 L160.6,672.50 L161.6,672.50 L162.6,672.50 L163.6,672.50 L164.6,672.50 L165.6,672.50 L166.6,672.50 L167.6,672.50 L168.6,672.50 L169.6,672.50 L170.6,672.50 L171.6,672.50 L172.6,672.50 L173.6,672.50 L174.6,672.50 L175.6,672.50 L176.6,672.50 L177.6,672.50 L178.6,672.50 L179.6,672.50 L180.6,672.50 L181.6,672.50 L182.6,672.50 L183.6,672.50 L184.6,672.50 L185.6,672.50 L186.6,672.50 L187.6,672.50 L188.6,672.50 L189.6,672.50 L190.6,672.50 L191.6,672.50 L192.6,672.50 L193.6,672.50 L194.6,672.50 L195.6,672.50 L196.6,672.50 L197.6,672.50 L198.6,672.50 L199.6,672.50 L200.6,672.50 L201.6,672.50 L202.6,672.50 L203.6,672.50 L204.6,672.50 L205.6,672.50 L206.6,672.50 L207.6,672.50 L208.6,672.50 L209.6,672.50 L210.6,672.50 L211.6,672.50 L212.6,672.50 L213.6,672.50 L214.6,672.50 L215.6,672.50 L216.6,672.50 L217.6,672.50 L218.6,672.50 L219.6,672.50 L220.6,672.50 L221.6,672.50 L222.6,672.50 L223.6,672.50 L224.6,672.50 L225.6,672.50 L226.6,672.50 L227.6,672.50 L228.6,672.50 L229.6,672.50 L230.6,672.50 L231.6,672.50 L232.6,672.50 L233.6,672.50 L234.6,672.50 L235.6,672.50 L236.6,672.50 L237.6,672.50 L238.6,672.50 L239.6,672.50 L240.6,672.50 L241.6,672.50 L242.6,672.50 L243.6,672.50 L244.6,672.50 L245.6,672.50 L246.6,672.50 L247.6,672.50 L248.6,672.50 L249.6,672.50 L250.6,672.50 L251.6,672.50 L252.6,672.50 L253.6,672.50 L254.6,672.50 L255.6,672.50 L256.6,672.50 L257.6,672.50 L258.6,672.50 L259.6,672.50 L260.6,672.50 L261.6,672.50 L262.6,672.50 L263.6,672.50 L264.6,672.50 L265.6,672.50 L266.6,672.50 L267.6,672.50 L268.6,672.50 L269.6,672.50 L270.6,672.50 L271.6,672.50 L272.6,672.50 L273.6,672.50 L274.6,672.50 L275.6,672.50 L276.6,672.50 L277.6,672.50 L278.6,672.50 L279.6,672.50 L280.6,672.50 L281.6,672.50 L282.6,672.50 L283.6,672.50 L284.6,672.50 L285.6,672.50 L286.6,672.50 L287.6,672.50 L288.6,672.50 L289.6,672.50 L290.6,672.50 L291.6,672.50 L292.6,672.50 L293.6,672.50 L294.6,672.50 L295.6,672.50 L296.6,672.50 L297.6,672.50 L298.6,672.50 L299.6,672.50 L300.6,672.50 L301.6,672.50 L302.6,672.50 L303.6,672.50 L304.6,672.50 L305.6,672.50 L306.6,672.50 L307.6,672.50 L308.6,672.50 L309.6,672.50 L310.6,672.50 L311.6,672.50 L312.6,672.50 L313.6,672.50 L314.6,672.50 L315.6,672.50 L316.6,672.50 L317.6,672.50 L318.6,672.50 L319.6,672.50 L320.6,672.50 L321.6,672.50 L322.6,672.50 L323.6,672.50 L324.6,672.50 L325.6,672.50 L326.6,672.50 L327.6,672.50 L328.6,672.50 L329.6,672.50 L330.6,672.50 L331.6,672.50 L332.6,672.50 L333.6,672.50 L334.6,672.50 L335.6,672.50 L336.6,672.50 L337.6,672.50 L338.6,672.50 L339.6,672.50 L340.6,672.50 L341.6,672.50 L342.6,672.50 L343.6,672.50 L344.6,672.50 L345.6,672.50 L346.6,672.50 L347.6,672.50 L348.6,672.50 L349.6,672.50 L350.6,672.50 L351.6,672.50 L352.6,672.50 L353.6,672.50 L354.6,672.50 L355.6,672.50 L356.6,672.50 L357.6,672.50 L358.6,672.50 L359.6,672.50 L360.6,672.50 L361.6,672.50 L362.6,672.50 L363.6,672.50 L364.6,672.50 L365.6,672.50 L366.6,672.50 L367.6,672.50 L368.6,672.50 L369.6,672.50 L370.6,672.50 L371.6,672.50 L372.6,672.50 L373.6,672.50 L374.6,672.50 L375.6,672.50 L376.6,672.50 L377.6,672.50 L378.6,672.50 L379.6,672.50 L380.6,672.50 L381.6,672.50 L382.6,672.50 L383.6,672.50 L384.6,672.50 L385.6,672.50 L386.6,672.50 L387.6,672.50 L388.6,672.50 L389.6,672.50 L390.6,672.50 L391.6,672.50 L392.6,672.50 L393.6,672.50 L394.6,672.50 L395.6,672.50 L396.6,672.50 L397.6,672.50 L398.6,672.50 L399.6,672.50 L400.6,672.50 L401.6,672.50 L402.6,672.50 L403.6,672.50 L404.6,672.50 L405.6,672.50 L406.6,672.50 L407.6,672.50 L408.6,672.50 L409.6,672.50 L410.6,672.50 L411.6,672.50 L412.6,672.50 L413.6,672.50 L414.6,672.50 L415.6,672.50 L416.6,672.50 L417.6,672.50 L418.6,672.50 L419.6,672.50 L420.6,672.50 L421.6,672.50 L422.6,672.50 L423.6,672.50 L424.6,672.50 L425.6,672.50 L426.6,672.50 L427.6,672.50 L428.6,672.50 L429.6,672.50 L430.6,672.50 L431.6,672.50 L432.6,672.50 L433.6,672.50 L434.6,672.50 L435.6,672.50 L436.6,672.50 L437.6,672.50 L438.6,672.50 L439.6,672.50 L440.6,672.50 L441.6,672.50 L442.6,672.50 L443.6,672.50 L444.6,672.50 L445.6,672.50 L446.6,672.50 L447.6,672.50 L448.6,672.50 L449.6,672.50 L450.6,672.50 L451.6,672.50 L452.6,672.50 L453.6,672.50 L454.6,672.50 L455.6,672.50 L456.6,672.50 L457.6,672.50 L458.6,672.50 L459.6,672.50 L460.6,672.50 L461.6,672.50 L462.6,672.50 L463.6,672.50 L464.6,672.50 L465.6,672.50 L466.6,672.50 L467.6,672.50 L468.6,672.50 L469.6,672.50 L470.6,672.50 L471.6,672.50 L472.6,672.50 L473.6,672.50 L474.6,672.50 L475.6,672.50 L476.6,672.50 L477.6,672.50 L478.6,672.50 L479.6,672.50 L480.6,672.50 L481.6,672.50 L482.6,672.50 L483.6,672.50 L484.6,672.50 L485.6,672.50 L486.6,672.50 L487.6,672.50 L488.6,672.50 L489.6,672.50 L490.6,672.50 L491.6,672.50 L492.6,672.50 L493.6,672.50 L494.6,672.50 L495.6,672.50 L496.6,672.50 L497.6,672.50 L498.6,672.50 L499.6,672.50 L500.6,672.50 L501.6,672.50 L502.6,672.50 L503.6,672.50 L504.6,672.50 L505.6,672.50 L506.6,672.50 L507.6,672.50 L508.6,672.50 L509.6,672.50 L510.6,672.50 L511.6,672.50 L512.6,672.50 L513.6,672.50 L514.6,672.50 L515.6,672.50 L516.6,672.50 L517.6,672.50 L518.6,672.50 L519.6,672.50 L520.6,672.50 L521.6,672.50 L522.6,672.50 L523.6,672.50 L524.6,672.50 L525.6,672.50 L526.6,672.50 L527.6,672.50 L528.6,672.50 L529.6,672.50 L530.6,672.50 L531.6,672.50 L532.6,672.50 L533.6,672.50 L534.6,672.50 L535.6,672.50 L536.6,672.50 L537.6,672.50 L538.6,672.50 L539.6,672.50 L540.6,672.50 L541.6,672.50 L542.6,672.50 L543.6,672.50 L544.6,672.50 L545.6,672.50 L546.6,672.50 L547.6,672.50 L548.6,672.50 L549.6,672.50 L550.6,672.50 L551.6,672.50 L552.6,672.50 L553.6,672.50 L554.6,672.50 L555.6,672.50 L556.6,672.50 L557.6,672.50 L558.6,672.50 L559.6,672.50 L560.6,672.50 L561.6,672.50 L562.6,672.50 L563.6,672.50 L564.6,672.50 L565.6,672.50 L566.6,672.50 L567.6,672.50 L568.6,672.50 L569.6,672.50 L570.6,672.50 L571.6,672.50 L572.6,672.50 L573.6,672.50 L574.6,672.50 L575.6,672.50 L576.6,672.50 L577.6,672.50 L578.6,672.50 L579.6,672.50 L580.6,672.50 L581.6,672.50 L582.6,672.50 L583.6,672.50 L584.6,672.50 L585.6,672.50 L586.6,672.50 L587.6,672.50 L588.6,672.50 L589.6,672.50 L590.6,672.50 L591.6,672.50 L592.6,672.50 L593.6,672.50 L594.6,672.50 L595.6,672.50 L596.6,672.50 L597.6,672.50 L598.6,672.50 L599.6,672.50 L600.6,672.50 L601.6,672.50 L602.6,672.50 L603.6,672.50 L604.6,672.50 L605.6,672.50 L606.6,672.50 L607.6,672.50 L608.6,672.50 L609.6,672.50 L610.6,672.50 L611.6,672.50 L612.6,672.50 L613.6,672.50 L614.6,672.50 L615.6,672.50 L616.6,672.50 L617.6,672.50 L618.6,672.50 L619.6,672.50 L620.6,672.50 L621.6,672.50 L622.6,672.50 L623.6,672.50 L624.6,672.50 L625.6,672.50 L626.6,672.50 L627.6,672.50 L628.6,672.50 L629.6,672.49 L630.6,672.49 L631.6,672.49 L632.6,672.49 L633.6,672.49 L634.6,672.49 L635.6,672.49 L636.6,672.49 L637.6,672.48 L638.6,672.48 L639.6,672.48 L640.6,672.48 L641.6,672.47 L642.6,672.47 L643.6,672.47 L644.6,672.46 L645.6,672.46 L646.6,672.45 L647.6,672.45 L648.6,672.44 L649.6,672.43 L650.6,672.43 L651.6,672.42 L652.6,672.41 L653.6,672.40 L654.6,672.38 L655.6,672.37 L656.6,672.36 L657.6,672.34 L658.6,672.32 L659.6,672.30 L660.6,672.28 L661.6,672.25 L662.6,672.23 L663.6,672.20 L664.6,672.16 L665.6,672.13 L666.6,672.09 L667.6,672.04 L668.6,671.99 L669.6,671.94 L670.6,671.88 L671.6,671.82 L672.6,671.75 L673.6,671.68 L674.6,671.60 L675.6,671.51 L676.6,671.41 L677.6,671.31 L678.6,671.19 L679.6,671.07 L680.6,670.94 L681.6,670.79 L682.6,670.63 L683.6,670.47 L684.6,670.28 L685.6,670.09 L686.6,669.87 L687.6,669.65 L688.6,669.40 L689.6,669.14 L690.6,668.86 L691.6,668.55 L692.6,668.23 L693.6,667.88 L694.6,667.51 L695.6,667.12 L696.6,666.69 L697.6,666.24 L698.6,665.77 L699.6,665.26 L700.6,664.72 L701.6,664.14 L702.6,663.54 L703.6,662.89 L704.6,662.21 L705.6,661.49 L706.6,660.73 L707.6,659.93 L708.6,659.08 L709.6,658.20 L710.6,657.26 L711.6,656.28 L712.6,655.25 L713.6,654.17 L714.6,653.04 L715.6,651.86 L716.6,650.63 L717.6,649.34 L718.6,648.00 L719.6,646.60 L720.6,645.15 L721.6,643.64 L722.6,642.08 L723.6,640.45 L724.6,638.77 L725.6,637.04 L726.6,635.24 L727.6,633.39 L728.6,631.48 L729.6,629.52 L730.6,627.50 L731.6,625.43 L732.6,623.31 L733.6,621.13 L734.6,618.90 L735.6,616.63 L736.6,614.31 L737.6,611.95 L738.6,609.55 L739.6,607.11 L740.6,604.63 L741.6,602.12 L742.6,599.58 L743.6,597.02 L744.6,594.43 L745.6,591.82 L746.6,589.20 L747.6,586.57 L748.6,583.93 L749.6,581.30 L750.6,578.66 L751.6,576.03 L752.6,573.42 L753.6,570.82 L754.6,568.25 L755.6,565.70 L756.6,563.19 L757.6,560.71 L758.6,558.28 L759.6,555.89 L760.6,553.56 L761.6,551.29 L762.6,549.08 L763.6,546.95 L764.6,544.88 L765.6,542.90 L766.6,540.99 L767.6,539.18 L768.6,537.46 L769.6,535.83 L770.6,534.31 L771.6,532.89 L772.6,531.58 L773.6,530.38 L774.6,529.29 L775.6,528.32 L776.6,527.47 L777.6,526.75 L778.6,526.14 L779.6,525.67 L780.6,525.31 L781.6,525.09 L782.6,524.99 L783.6,525.03 L784.6,525.19 L785.6,525.47 L786.6,525.89 L787.6,526.43 L788.6,527.09 L789.6,527.88 L790.6,528.79 L791.6,529.82 L792.6,530.96 L793.6,532.22 L794.6,533.58 L795.6,535.06 L796.6,536.63 L797.6,538.30 L798.6,540.07 L799.6,541.93 L800.6,543.88 L801.6,545.90 L802.6,548.00 L803.6,550.18 L804.6,552.42 L805.6,554.72 L806.6,557.08 L807.6,559.48 L808.6,561.94 L809.6,564.43 L810.6,566.97 L811.6,569.53 L812.6,572.11 L813.6,574.72 L814.6,577.34 L815.6,579.97 L816.6,582.61 L817.6,585.25 L818.6,587.88 L819.6,590.51 L820.6,593.12 L821.6,595.72 L822.6,598.30 L823.6,600.85 L824.6,603.38 L825.6,605.87 L826.6,608.33 L827.6,610.75 L828.6,613.13 L829.6,615.48 L830.6,617.77 L831.6,620.02 L832.6,622.22 L833.6,624.37 L834.6,626.47 L835.6,628.51 L836.6,630.50 L837.6,632.44 L838.6,634.32 L839.6,636.14 L840.6,637.91 L841.6,639.62 L842.6,641.27 L843.6,642.86 L844.6,644.40 L845.6,645.88 L846.6,647.31 L847.6,648.68 L848.6,649.99 L849.6,651.25 L850.6,652.46 L851.6,653.61 L852.6,654.72 L853.6,655.77 L854.6,656.78 L855.6,657.73 L856.6,658.65 L857.6,659.51 L858.6,660.33 L859.6,661.12 L860.6,661.85 L861.6,662.56 L862.6,663.22 L863.6,663.84 L864.6,664.43 L865.6,664.99 L866.6,665.52 L867.6,666.01 L868.6,666.47 L869.6,666.91 L870.6,667.32 L871.6,667.70 L872.6,668.06 L873.6,668.39 L874.6,668.71 L875.6,669.00 L876.6,669.27 L877.6,669.53 L878.6,669.76 L879.6,669.98 L880.6,670.19 L881.6,670.38 L882.6,670.55 L883.6,670.71 L884.6,670.86 L885.6,671.00 L886.6,671.13 L887.6,671.25 L888.6,671.36 L889.6,671.46 L890.6,671.55 L891.6,671.64 L892.6,671.72 L893.6,671.79 L894.6,671.85 L895.6,671.91 L896.6,671.97 L897.6,672.02 L898.6,672.07 L899.6,672.11 L900.6,672.14 L901.6,672.18 L902.6,672.21 L903.6,672.24 L904.6,672.27 L905.6,672.29 L906.6,672.31 L907.6,672.33 L908.6,672.35 L909.6,672.36 L910.6,672.38 L911.6,672.39 L912.6,672.40 L913.6,672.41 L914.6,672.42 L915.6,672.43 L916.6,672.44 L917.6,672.45 L918.6,672.45 L919.6,672.46 L920.6,672.46 L921.6,672.47 L922.6,672.47 L923.6,672.47 L924.6,672.48 L925.6,672.48 L926.6,672.48 L927.6,672.48 L928.6,672.49 L929.6,672.49 L930.6,672.49 L931.6,672.49 L932.6,672.49 L933.6,672.49 L934.6,672.49 L935.6,672.49 L936.6,672.49 L937.6,672.50 L938.6,672.50 L939.6,672.50 L940.6,672.50 L941.6,672.50 L942.6,672.50 L943.6,672.50 L944.6,672.50 L945.6,672.50 L946.6,672.50 L947.6,672.50 L948.6,672.50 L949.6,672.50 L950.6,672.50 L951.6,672.50 L952.6,672.50 L953.6,672.50 L954.6,672.50 L955.6,672.50 L956.6,672.50 L957.6,672.50 L958.6,672.50 L959.6,672.50 L960.6,672.50 L961.6,672.50 L962.6,672.50 L963.6,672.50 L964.6,672.50 L965.6,672.50 L966.6,672.50 L967.6,672.50 L968.6,672.50 L969.6,672.50 L970.6,672.50 L971.6,672.50 L972.6,672.50 L973.6,672.50 L974.6,672.50 L975.6,672.50 L976.6,672.50 L977.6,672.50 L978.6,672.50 L979.6,672.50 L980.6,672.50 L981.6,672.50 L982.6,672.50 L983.6,672.50 L984.6,672.50 L985.6,672.50 L986.6,672.50 L987.6,672.50 L988.6,672.50 L989.6,672.50 L990.6,672.50 L991.6,672.50 L992.6,672.50 L993.6,672.50 L994.6,672.50 L995.6,672.50 L996.6,672.50 L997.6,672.50 L998.6,672.50 L999.6,672.50 L1000.6,672.50 L1001.6,672.50 L1002.6,672.50 L1003.6,672.50 L1004.6,672.50 L1005.6,672.50 L1006.6,672.50 L1007.6,672.50" fill="none" stroke="#009000" stroke-width="3.3" stroke-linejoin="round"/>
<path d="M119.6,672.50 L120.6,672.50 L121.6,672.50 L122.6,672.50 L123.6,672.50 L124.6,672.50 L125.6,672.50 L126.6,672.50 L127.6,672.50 L128.6,672.50 L129.6,672.50 L130.6,672.50 L131.6,672.50 L132.6,672.50 L133.6,672.50 L134.6,672.50 L135.6,672.50 L136.6,672.50 L137.6,672.50 L138.6,672.50 L139.6,672.50 L140.6,672.50 L141.6,672.50 L142.6,672.50 L143.6,672.50 L144.6,672.50 L145.6,672.50 L146.6,672.50 L147.6,672.50 L148.6,672.50 L149.6,672.50 L150.6,672.50 L151.6,672.50 L152.6,672.50 L153.6,672.50 L154.6,672.50 L155.6,672.50 L156.6,672.50 L157.6,672.50 L158.6,672.50 L159.6,672.50 L160.6,672.50 L161.6,672.50 L162.6,672.50 L163.6,672.50 L164.6,672.50 L165.6,672.50 L166.6,672.50 L167.6,672.50 L168.6,672.50 L169.6,672.50 L170.6,672.50 L171.6,672.50 L172.6,672.50 L173.6,672.50 L174.6,672.50 L175.6,672.50 L176.6,672.50 L177.6,672.50 L178.6,672.50 L179.6,672.50 L180.6,672.50 L181.6,672.50 L182.6,672.50 L183.6,672.50 L184.6,672.50 L185.6,672.50 L186.6,672.50 L187.6,672.50 L188.6,672.50 L189.6,672.50 L190.6,672.50 L191.6,672.50 L192.6,672.50 L193.6,672.50 L194.6,672.50 L195.6,672.50 L196.6,672.50 L197.6,672.50 L198.6,672.50 L199.6,672.50 L200.6,672.50 L201.6,672.50 L202.6,672.50 L203.6,672.50 L204.6,672.50 L205.6,672.50 L206.6,672.50 L207.6,672.50 L208.6,672.50 L209.6,672.50 L210.6,672.50 L211.6,672.50 L212.6,672.50 L213.6,672.50 L214.6,672.50 L215.6,672.50 L216.6,672.50 L217.6,672.50 L218.6,672.50 L219.6,672.50 L220.6,672.50 L221.6,672.50 L222.6,672.50 L223.6,672.50 L224.6,672.50 L225.6,672.50 L226.6,672.50 L227.6,672.50 L228.6,672.50 L229.6,672.50 L230.6,672.50 L231.6,672.50 L232.6,672.50 L233.6,672.50 L234.6,672.50 L235.6,672.50 L236.6,672.50 L237.6,672.50 L238.6,672.50 L239.6,672.50 L240.6,672.50 L241.6,672.50 L242.6,672.50 L243.6,672.50 L244.6,672.50 L245.6,672.50 L246.6,672.50 L247.6,672.50 L248.6,672.50 L249.6,672.50 L250.6,672.50 L251.6,672.50 L252.6,672.50 L253.6,672.50 L254.6,672.50 L255.6,672.50 L256.6,672.50 L257.6,672.50 L258.6,672.50 L259.6,672.50 L260.6,672.50 L261.6,672.50 L262.6,672.50 L263.6,672.50 L264.6,672.50 L265.6,672.50 L266.6,672.50 L267.6,672.50 L268.6,672.50 L269.6,672.50 L270.6,672.50 L271.6,672.50 L272.6,672.50 L273.6,672.50 L274.6,672.50 L275.6,672.50 L276.6,672.50 L277.6,672.50 L278.6,672.50 L279.6,672.50 L280.6,672.50 L281.6,672.50 L282.6,672.50 L283.6,672.50 L284.6,672.50 L285.6,672.50 L286.6,672.50 L287.6,672.50 L288.6,672.50 L289.6,672.50 L290.6,672.50 L291.6,672.50 L292.6,672.50 L293.6,672.50 L294.6,672.50 L295.6,672.50 L296.6,672.50 L297.6,672.50 L298.6,672.50 L299.6,672.50 L300.6,672.50 L301.6,672.50 L302.6,672.50 L303.6,672.50 L304.6,672.50 L305.6,672.50 L306.6,672.50 L307.6,672.50 L308.6,672.50 L309.6,672.50 L310.6,672.50 L311.6,672.50 L312.6,672.50 L313.6,672.50 L314.6,672.50 L315.6,672.50 L316.6,672.50 L317.6,672.50 L318.6,672.50 L319.6,672.50 L320.6,672.50 L321.6,672.50 L322.6,672.50 L323.6,672.50 L324.6,672.50 L325.6,672.50 L326.6,672.50 L327.6,672.50 L328.6,672.50 L329.6,672.50 L330.6,672.50 L331.6,672.50 L332.6,672.50 L333.6,672.50 L334.6,672.50 L335.6,672.50 L336.6,672.50 L337.6,672.50 L338.6,672.50 L339.6,672.50 L340.6,672.50 L341.6,672.50 L342.6,672.50 L343.6,672.50 L344.6,672.50 L345.6,672.50 L346.6,672.50 L347.6,672.50 L348.6,672.50 L349.6,672.50 L350.6,672.50 L351.6,672.50 L352.6,672.50 L353.6,672.50 L354.6,672.50 L355.6,672.50 L356.6,672.50 L357.6,672.50 L358.6,672.50 L359.6,672.50 L360.6,672.50 L361.6,672.50 L362.6,672.50 L363.6,672.50 L364.6,672.50 L365.6,672.50 L366.6,672.50 L367.6,672.50 L368.6,672.50 L369.6,672.50 L370.6,672.50 L371.6,672.50 L372.6,672.50 L373.6,672.50 L374.6,672.50 L375.6,672.50 L376.6,672.50 L377.6,672.50 L378.6,672.50 L379.6,672.50 L380.6,672.50 L381.6,672.50 L382.6,672.50 L383.6,672.50 L384.6,672.50 L385.6,672.50 L386.6,672.50 L387.6,672.50 L388.6,672.50 L389.6,672.50 L390.6,672.50 L391.6,672.50 L392.6,672.50 L393.6,672.50 L394.6,672.50 L395.6,672.50 L396.6,672.50 L397.6,672.50 L398.6,672.50 L399.6,672.50 L400.6,672.50 L401.6,672.50 L402.6,672.50 L403.6,672.50 L404.6,672.50 L405.6,672.50 L406.6,672.50 L407.6,672.50 L408.6,672.50 L409.6,672.50 L410.6,672.50 L411.6,672.50 L412.6,672.50 L413.6,672.50 L414.6,672.50 L415.6,672.50 L416.6,672.50 L417.6,672.50 L418.6,672.50 L419.6,672.50 L420.6,672.50 L421.6,672.50 L422.6,672.50 L423.6,672.50 L424.6,672.50 L425.6,672.50 L426.6,672.50 L427.6,672.50 L428.6,672.50 L429.6,672.50 L430.6,672.50 L431.6,672.50 L432.6,672.50 L433.6,672.50 L434.6,672.50 L435.6,672.50 L436.6,672.50 L437.6,672.50 L438.6,672.50 L439.6,672.50 L440.6,672.50 L441.6,672.50 L442.6,672.50 L443.6,672.50 L444.6,672.50 L445.6,672.50 L446.6,672.50 L447.6,672.50 L448.6,672.50 L449.6,672.50 L450.6,672.50 L451.6,672.50 L452.6,672.50 L453.6,672.50 L454.6,672.50 L455.6,672.50 L456.6,672.50 L457.6,672.50 L458.6,672.50 L459.6,672.50 L460.6,672.50 L461.6,672.50 L462.6,672.50 L463.6,672.50 L464.6,672.50 L465.6,672.50 L466.6,672.50 L467.6,672.50 L468.6,672.50 L469.6,672.50 L470.6,672.50 L471.6,672.50 L472.6,672.50 L473.6,672.50 L474.6,672.50 L475.6,672.50 L476.6,672.50 L477.6,672.50 L478.6,672.50 L479.6,672.50 L480.6,672.50 L481.6,672.50 L482.6,672.50 L483.6,672.50 L484.6,672.50 L485.6,672.50 L486.6,672.50 L487.6,672.50 L488.6,672.50 L489.6,672.50 L490.6,672.50 L491.6,672.50 L492.6,672.50 L493.6,672.50 L494.6,672.50 L495.6,672.50 L496.6,672.50 L497.6,672.50 L498.6,672.50 L499.6,672.50 L500.6,672.50 L501.6,672.50 L502.6,672.50 L503.6,672.50 L504.6,672.50 L505.6,672.50 L506.6,672.50 L507.6,672.50 L508.6,672.50 L509.6,672.50 L510.6,672.50 L511.6,672.50 L512.6,672.50 L513.6,672.50 L514.6,672.50 L515.6,672.50 L516.6,672.50 L517.6,672.50 L518.6,672.50 L519.6,672.50 L520.6,672.50 L521.6,672.50 L522.6,672.50 L523.6,672.50 L524.6,672.50 L525.6,672.50 L526.6,672.50 L527.6,672.50 L528.6,672.50 L529.6,672.50 L530.6,672.50 L531.6,672.50 L532.6,672.50 L533.6,672.50 L534.6,672.50 L535.6,672.50 L536.6,672.50 L537.6,672.50 L538.6,672.50 L539.6,672.50 L540.6,672.50 L541.6,672.50 L542.6,672.50 L543.6,672.50 L544.6,672.50 L545.6,672.50 L546.6,672.50 L547.6,672.50 L548.6,672.50 L549.6,672.50 L550.6,672.50 L551.6,672.50 L552.6,672.50 L553.6,672.50 L554.6,672.50 L555.6,672.50 L556.6,672.50 L557.6,672.50 L558.6,672.50 L559.6,672.50 L560.6,672.50 L561.6,672.50 L562.6,672.50 L563.6,672.50 L564.6,672.50 L565.6,672.50 L566.6,672.50 L567.6,672.50 L568.6,672.50 L569.6,672.50 L570.6,672.50 L571.6,672.50 L572.6,672.50 L573.6,672.50 L574.6,672.50 L575.6,672.50 L576.6,672.50 L577.6,672.50 L578.6,672.50 L579.6,672.50 L580.6,672.50 L581.6,672.50 L582.6,672.50 L583.6,672.50 L584.6,672.50 L585.6,672.50 L586.6,672.50 L587.6,672.50 L588.6,672.50 L589.6,672.50 L590.6,672.50 L591.6,672.50 L592.6,672.50 L593.6,672.50 L594.6,672.50 L595.6,672.50 L596.6,672.50 L597.6,672.50 L598.6,672.50 L599.6,672.50 L600.6,672.50 L601.6,672.50 L602.6,672.50 L603.6,672.50 L604.6,672.50 L605.6,672.50 L606.6,672.50 L607.6,672.50 L608.6,672.50 L609.6,672.50 L610.6,672.50 L611.6,672.50 L612.6,672.50 L613.6,672.50 L614.6,672.50 L615.6,672.50 L616.6,672.50 L617.6,672.50 L618.6,672.50 L619.6,672.50 L620.6,672.50 L621.6,672.50 L622.6,672.50 L623.6,672.50 L624.6,672.50 L625.6,672.50 L626.6,672.50 L627.6,672.50 L628.6,672.50 L629.6,672.50 L630.6,672.50 L631.6,672.50 L632.6,672.50 L633.6,672.50 L634.6,672.50 L635.6,672.50 L636.6,672.50 L637.6,672.50 L638.6,672.50 L639.6,672.50 L640.6,672.50 L641.6,672.50 L642.6,672.50 L643.6,672.50 L644.6,672.50 L645.6,672.50 L646.6,672.50 L647.6,672.50 L648.6,672.50 L649.6,672.50 L650.6,672.50 L651.6,672.50 L652.6,672.50 L653.6,672.50 L654.6,672.50 L655.6,672.50 L656.6,672.50 L657.6,672.50 L658.6,672.50 L659.6,672.50 L660.6,672.50 L661.6,672.50 L662.6,672.50 L663.6,672.50 L664.6,672.50 L665.6,672.50 L666.6,672.50 L667.6,672.50 L668.6,672.50 L669.6,672.50 L670.6,672.50 L671.6,672.50 L672.6,672.50 L673.6,672.50 L674.6,672.50 L675.6,672.50 L676.6,672.50 L677.6,672.50 L678.6,672.50 L679.6,672.50 L680.6,672.50 L681.6,672.50 L682.6,672.50 L683.6,672.50 L684.6,672.50 L685.6,672.50 L686.6,672.50 L687.6,672.50 L688.6,672.49 L689.6,672.49 L690.6,672.49 L691.6,672.49 L692.6,672.49 L693.6,672.49 L694.6,672.49 L695.6,672.49 L696.6,672.48 L697.6,672.48 L698.6,672.48 L699.6,672.48 L700.6,672.47 L701.6,672.47 L702.6,672.46 L703.6,672.46 L704.6,672.45 L705.6,672.45 L706.6,672.44 L707.6,672.43 L708.6,672.42 L709.6,672.41 L710.6,672.40 L711.6,672.38 L712.6,672.37 L713.6,672.35 L714.6,672.33 L715.6,672.31 L716.6,672.29 L717.6,672.26 L718.6,672.23 L719.6,672.20 L720.6,672.16 L721.6,672.12 L722.6,672.08 L723.6,672.03 L724.6,671.97 L725.6,671.91 L726.6,671.84 L727.6,671.76 L728.6,671.68 L729.6,671.58 L730.6,671.48 L731.6,671.37 L732.6,671.24 L733.6,671.10 L734.6,670.95 L735.6,670.79 L736.6,670.60 L737.6,670.40 L738.6,670.18 L739.6,669.94 L740.6,669.68 L741.6,669.40 L742.6,669.08 L743.6,668.74 L744.6,668.37 L745.6,667.97 L746.6,667.53 L747.6,667.06 L748.6,666.54 L749.6,665.98 L750.6,665.38 L751.6,664.73 L752.6,664.02 L753.6,663.26 L754.6,662.44 L755.6,661.56 L756.6,660.61 L757.6,659.59 L758.6,658.49 L759.6,657.31 L760.6,656.05 L761.6,654.71 L762.6,653.27 L763.6,651.73 L764.6,650.08 L765.6,648.33 L766.6,646.47 L767.6,644.49 L768.6,642.38 L769.6,640.14 L770.6,637.77 L771.6,635.26 L772.6,632.61 L773.6,629.80 L774.6,626.83 L775.6,623.71 L776.6,620.41 L777.6,616.95 L778.6,613.30 L779.6,609.48 L780.6,605.47 L781.6,601.26 L782.6,596.86 L783.6,592.26 L784.6,587.46 L785.6,582.45 L786.6,577.23 L787.6,571.79 L788.6,566.15 L789.6,560.28 L790.6,554.20 L791.6,547.91 L792.6,541.39 L793.6,534.66 L794.6,527.71 L795.6,520.55 L796.6,513.18 L797.6,505.60 L798.6,497.82 L799.6,489.83 L800.6,481.66 L801.6,473.29 L802.6,464.75 L803.6,456.03 L804.6,447.16 L805.6,438.12 L806.6,428.95 L807.6,419.64 L808.6,410.21 L809.6,400.67 L810.6,391.04 L811.6,381.33 L812.6,371.56 L813.6,361.73 L814.6,351.87 L815.6,342.00 L816.6,332.13 L817.6,322.28 L818.6,312.46 L819.6,302.71 L820.6,293.02 L821.6,283.44 L822.6,273.97 L823.6,264.63 L824.6,255.46 L825.6,246.45 L826.6,237.65 L827.6,229.06 L828.6,220.70 L829.6,212.60 L830.6,204.78 L831.6,197.25 L832.6,190.03 L833.6,183.14 L834.6,176.59 L835.6,170.41 L836.6,164.61 L837.6,159.21 L838.6,154.21 L839.6,149.63 L840.6,145.48 L841.6,141.78 L842.6,138.53 L843.6,135.74 L844.6,133.43 L845.6,131.58 L846.6,130.22 L847.6,129.34 L848.6,128.95 L849.6,129.05 L850.6,129.63 L851.6,130.70 L852.6,132.25 L853.6,134.28 L854.6,136.79 L855.6,139.76 L856.6,143.19 L857.6,147.07 L858.6,151.39 L859.6,156.13 L860.6,161.29 L861.6,166.86 L862.6,172.81 L863.6,179.13 L864.6,185.82 L865.6,192.84 L866.6,200.18 L867.6,207.83 L868.6,215.77 L869.6,223.97 L870.6,232.42 L871.6,241.10 L872.6,249.98 L873.6,259.06 L874.6,268.30 L875.6,277.69 L876.6,287.21 L877.6,296.84 L878.6,306.55 L879.6,316.33 L880.6,326.16 L881.6,336.03 L882.6,345.90 L883.6,355.77 L884.6,365.62 L885.6,375.42 L886.6,385.17 L887.6,394.85 L888.6,404.45 L889.6,413.94 L890.6,423.33 L891.6,432.59 L892.6,441.71 L893.6,450.68 L894.6,459.50 L895.6,468.14 L896.6,476.62 L897.6,484.91 L898.6,493.01 L899.6,500.91 L900.6,508.62 L901.6,516.12 L902.6,523.40 L903.6,530.48 L904.6,537.34 L905.6,543.99 L906.6,550.42 L907.6,556.63 L908.6,562.62 L909.6,568.40 L910.6,573.96 L911.6,579.31 L912.6,584.45 L913.6,589.38 L914.6,594.10 L915.6,598.62 L916.6,602.94 L917.6,607.07 L918.6,611.01 L919.6,614.76 L920.6,618.34 L921.6,621.73 L922.6,624.96 L923.6,628.02 L924.6,630.93 L925.6,633.67 L926.6,636.27 L927.6,638.73 L928.6,641.04 L929.6,643.23 L930.6,645.28 L931.6,647.22 L932.6,649.04 L933.6,650.74 L934.6,652.35 L935.6,653.85 L936.6,655.25 L937.6,656.56 L938.6,657.79 L939.6,658.93 L940.6,660.00 L941.6,660.99 L942.6,661.91 L943.6,662.77 L944.6,663.57 L945.6,664.31 L946.6,664.99 L947.6,665.62 L948.6,666.21 L949.6,666.75 L950.6,667.25 L951.6,667.71 L952.6,668.13 L953.6,668.52 L954.6,668.88 L955.6,669.21 L956.6,669.51 L957.6,669.79 L958.6,670.04 L959.6,670.27 L960.6,670.48 L961.6,670.68 L962.6,670.85 L963.6,671.01 L964.6,671.16 L965.6,671.29 L966.6,671.41 L967.6,671.52 L968.6,671.62 L969.6,671.71 L970.6,671.79 L971.6,671.87 L972.6,671.93 L973.6,671.99 L974.6,672.05 L975.6,672.09 L976.6,672.14 L977.6,672.18 L978.6,672.21 L979.6,672.24 L980.6,672.27 L981.6,672.30 L982.6,672.32 L983.6,672.34 L984.6,672.36 L985.6,672.38 L986.6,672.39 L987.6,672.40 L988.6,672.41 L989.6,672.42 L990.6,672.43 L991.6,672.44 L992.6,672.45 L993.6,672.45 L994.6,672.46 L995.6,672.47 L996.6,672.47 L997.6,672.47 L998.6,672.48 L999.6,672.48 L1000.6,672.48 L1001.6,672.48 L1002.6,672.49 L1003.6,672.49 L1004.6,672.49 L1005.6,672.49 L1006.6,672.49 L1007.6,672.49" fill="none" stroke="#10A0A0" stroke-width="3.3" stroke-linejoin="round"/>
<path d="M119.6,672.50 L120.6,672.50 L121.6,672.50 L122.6,672.50 L123.6,672.50 L124.6,672.50 L125.6,672.50 L126.6,672.50 L127.6,672.50 L128.6,672.50 L129.6,672.50 L130.6,672.50 L131.6,672.50 L132.6,672.50 L133.6,672.50 L134.6,672.50 L135.6,672.50 L136.6,672.50 L137.6,672.50 L138.6,672.50 L139.6,672.50 L140.6,672.50 L141.6,672.50 L142.6,672.50 L143.6,672.50 L144.6,672.50 L145.6,672.50 L146.6,672.50 L147.6,672.50 L148.6,672.50 L149.6,672.50 L150.6,672.50 L151.6,672.50 L152.6,672.50 L153.6,672.50 L154.6,672.50 L155.6,672.50 L156.6,672.50 L157.6,672.50 L158.6,672.50 L159.6,672.50 L160.6,672.50 L161.6,672.50 L162.6,672.50 L163.6,672.50 L164.6,672.50 L165.6,672.50 L166.6,672.50 L167.6,672.50 L168.6,672.50 L169.6,672.50 L170.6,672.50 L171.6,672.50 L172.6,672.50 L173.6,672.50 L174.6,672.50 L175.6,672.50 L176.6,672.50 L177.6,672.50 L178.6,672.50 L179.6,672.50 L180.6,672.50 L181.6,672.50 L182.6,672.50 L183.6,672.50 L184.6,672.50 L185.6,672.50 L186.6,672.50 L187.6,672.50 L188.6,672.50 L189.6,672.50 L190.6,672.50 L191.6,672.50 L192.6,672.50 L193.6,672.50 L194.6,672.50 L195.6,672.50 L196.6,672.50 L197.6,672.50 L198.6,672.50 L199.6,672.50 L200.6,672.50 L201.6,672.50 L202.6,672.50 L203.6,672.50 L204.6,672.50 L205.6,672.50 L206.6,672.50 L207.6,672.50 L208.6,672.50 L209.6,672.50 L210.6,672.50 L211.6,672.50 L212.6,672.50 L213.6,672.50 L214.6,672.50 L215.6,672.50 L216.6,672.50 L217.6,672.50 L218.6,672.50 L219.6,672.50 L220.6,672.50 L221.6,672.50 L222.6,672.50 L223.6,672.50 L224.6,672.50 L225.6,672.50 L226.6,672.50 L227.6,672.50 L228.6,672.50 L229.6,672.50 L230.6,672.50 L231.6,672.50 L232.6,672.50 L233.6,672.50 L234.6,672.50 L235.6,672.50 L236.6,672.50 L237.6,672.50 L238.6,672.50 L239.6,672.50 L240.6,672.50 L241.6,672.50 L242.6,672.50 L243.6,672.50 L244.6,672.50 L245.6,672.50 L246.6,672.50 L247.6,672.50 L248.6,672.50 L249.6,672.50 L250.6,672.50 L251.6,672.50 L252.6,672.50 L253.6,672.50 L254.6,672.50 L255.6,672.50 L256.6,672.50 L257.6,672.50 L258.6,672.50 L259.6,672.50 L260.6,672.50 L261.6,672.50 L262.6,672.50 L263.6,672.50 L264.6,672.50 L265.6,672.50 L266.6,672.50 L267.6,672.50 L268.6,672.50 L269.6,672.50 L270.6,672.50 L271.6,672.50 L272.6,672.50 L273.6,672.50 L274.6,672.50 L275.6,672.50 L276.6,672.50 L277.6,672.50 L278.6,672.50 L279.6,672.50 L280.6,672.50 L281.6,672.50 L282.6,672.50 L283.6,672.50 L284.6,672.50 L285.6,672.50 L286.6,672.50 L287.6,672.50 L288.6,672.50 L289.6,672.50 L290.6,672.50 L291.6,672.50 L292.6,672.50 L293.6,672.50 L294.6,672.50 L295.6,672.50 L296.6,672.50 L297.6,672.50 L298.6,672.50 L299.6,672.50 L300.6,672.50 L301.6,672.50 L302.6,672.50 L303.6,672.50 L304.6,672.50 L305.6,672.50 L306.6,672.50 L307.6,672.50 L308.6,672.50 L309.6,672.50 L310.6,672.50 L311.6,672.50 L312.6,672.50 L313.6,672.50 L314.6,672.50 L315.6,672.50 L316.6,672.50 L317.6,672.50 L318.6,672.50 L319.6,672.50 L320.6,672.50 L321.6,672.50 L322.6,672.50 L323.6,672.50 L324.6,672.50 L325.6,672.50 L326.6,672.50 L327.6,672.50 L328.6,672.50 L329.6,672.50 L330.6,672.50 L331.6,672.50 L332.6,672.50 L333.6,672.50 L334.6,672.50 L335.6,672.50 L336.6,672.50 L337.6,672.50 L338.6,672.50 L339.6,672.50 L340.6,672.50 L341.6,672.50 L342.6,672.50 L343.6,672.50 L344.6,672.50 L345.6,672.50 L346.6,672.50 L347.6,672.50 L348.6,672.50 L349.6,672.50 L350.6,672.50 L351.6,672.50 L352.6,672.50 L353.6,672.50 L354.6,672.50 L355.6,672.50 L356.6,672.50 L357.6,672.50 L358.6,672.50 L359.6,672.50 L360.6,672.50 L361.6,672.50 L362.6,672.50 L363.6,672.50 L364.6,672.50 L365.6,672.50 L366.6,672.50 L367.6,672.50 L368.6,672.50 L369.6,672.50 L370.6,672.50 L371.6,672.50 L372.6,672.50 L373.6,672.50 L374.6,672.50 L375.6,672.50 L376.6,672.50 L377.6,672.50 L378.6,672.50 L379.6,672.50 L380.6,672.50 L381.6,672.50 L382.6,672.50 L383.6,672.50 L384.6,672.50 L385.6,672.50 L386.6,672.50 L387.6,672.50 L388.6,672.50 L389.6,672.50 L390.6,672.50 L391.6,672.50 L392.6,672.50 L393.6,672.50 L394.6,672.50 L395.6,672.50 L396.6,672.50 L397.6,672.50 L398.6,672.50 L399.6,672.50 L400.6,672.50 L401.6,672.50 L402.6,672.50 L403.6,672.50 L404.6,672.50 L405.6,672.50 L406.6,672.50 L407.6,672.50 L408.6,672.50 L409.6,672.50 L410.6,672.50 L411.6,672.50 L412.6,672.50 L413.6,672.50 L414.6,672.50 L415.6,672.50 L416.6,672.50 L417.6,672.50 L418.6,672.50 L419.6,672.50 L420.6,672.50 L421.6,672.50 L422.6,672.50 L423.6,672.50 L424.6,672.50 L425.6,672.50 L426.6,672.50 L427.6,672.50 L428.6,672.50 L429.6,672.50 L430.6,672.50 L431.6,672.50 L432.6,672.50 L433.6,672.50 L434.6,672.50 L435.6,672.50 L436.6,672.50 L437.6,672.50 L438.6,672.50 L439.6,672.50 L440.6,672.50 L441.6,672.50 L442.6,672.50 L443.6,672.50 L444.6,672.50 L445.6,672.50 L446.6,672.50 L447.6,672.50 L448.6,672.50 L449.6,672.50 L450.6,672.50 L451.6,672.50 L452.6,672.50 L453.6,672.50 L454.6,672.50 L455.6,672.50 L456.6,672.50 L457.6,672.50 L458.6,672.50 L459.6,672.50 L460.6,672.50 L461.6,672.50 L462.6,672.50 L463.6,672.50 L464.6,672.50 L465.6,672.50 L466.6,672.50 L467.6,672.50 L468.6,672.50 L469.6,672.50 L470.6,672.50 L471.6,672.50 L472.6,672.50 L473.6,672.50 L474.6,672.50 L475.6,672.50 L476.6,672.50 L477.6,672.50 L478.6,672.50 L479.6,672.50 L480.6,672.50 L481.6,672.50 L482.6,672.50 L483.6,672.50 L484.6,672.50 L485.6,672.50 L486.6,672.50 L487.6,672.50 L488.6,672.50 L489.6,672.50 L490.6,672.50 L491.6,672.50 L492.6,672.50 L493.6,672.50 L494.6,672.50 L495.6,672.50 L496.6,672.50 L497.6,672.50 L498.6,672.50 L499.6,672.50 L500.6,672.50 L501.6,672.50 L502.6,672.50 L503.6,672.50 L504.6,672.50 L505.6,672.50 L506.6,672.50 L507.6,672.50 L508.6,672.50 L509.6,672.50 L510.6,672.50 L511.6,672.50 L512.6,672.50 L513.6,672.50 L514.6,672.50 L515.6,672.50 L516.6,672.50 L517.6,672.50 L518.6,672.50 L519.6,672.50 L520.6,672.50 L521.6,672.50 L522.6,672.50 L523.6,672.50 L524.6,672.50 L525.6,672.50 L526.6,672.50 L527.6,672.50 L528.6,672.50 L529.6,672.50 L530.6,672.50 L531.6,672.50 L532.6,672.50 L533.6,672.50 L534.6,672.50 L535.6,672.50 L536.6,672.50 L537.6,672.50 L538.6,672.50 L539.6,672.50 L540.6,672.50 L541.6,672.50 L542.6,672.50 L543.6,672.50 L544.6,672.50 L545.6,672.50 L546.6,672.50 L547.6,672.50 L548.6,672.50 L549.6,672.50 L550.6,672.50 L551.6,672.50 L552.6,672.50 L553.6,672.50 L554.6,672.50 L555.6,672.50 L556.6,672.50 L557.6,672.50 L558.6,672.50 L559.6,672.50 L560.6,672.50 L561.6,672.50 L562.6,672.50 L563.6,672.50 L564.6,672.50 L565.6,672.50 L566.6,672.50 L567.6,672.50 L568.6,672.50 L569.6,672.50 L570.6,672.50 L571.6,672.50 L572.6,672.50 L573.6,672.50 L574.6,672.50 L575.6,672.50 L576.6,672.50 L577.6,672.50 L578.6,672.50 L579.6,672.50 L580.6,672.50 L581.6,672.50 L582.6,672.50 L583.6,672.50 L584.6,672.50 L585.6,672.50 L586.6,672.50 L587.6,672.50 L588.6,672.50 L589.6,672.50 L590.6,672.50 L591.6,672.50 L592.6,672.50 L593.6,672.50 L594.6,672.50 L595.6,672.50 L596.6,672.50 L597.6,672.50 L598.6,672.50 L599.6,672.50 L600.6,672.50 L601.6,672.50 L602.6,672.50 L603.6,672.50 L604.6,672.50 L605.6,672.50 L606.6,672.50 L607.6,672.50 L608.6,672.50 L609.6,672.50 L610.6,672.50 L611.6,672.50 L612.6,672.50 L613.6,672.50 L614.6,672.50 L615.6,672.50 L616.6,672.50 L617.6,672.50 L618.6,672.50 L619.6,672.50 L620.6,672.50 L621.6,672.50 L622.6,672.50 L623.6,672.50 L624.6,672.50 L625.6,672.50 L626.6,672.50 L627.6,672.50 L628.6,672.50 L629.6,672.50 L630.6,672.50 L631.6,672.50 L632.6,672.50 L633.6,672.50 L634.6,672.50 L635.6,672.50 L636.6,672.50 L637.6,672.50 L638.6,672.50 L639.6,672.50 L640.6,672.50 L641.6,672.50 L642.6,672.50 L643.6,672.50 L644.6,672.50 L645.6,672.50 L646.6,672.50 L647.6,672.50 L648.6,672.50 L649.6,672.50 L650.6,672.50 L651.6,672.50 L652.6,672.50 L653.6,672.50 L654.6,672.50 L655.6,672.50 L656.6,672.50 L657.6,672.50 L658.6,672.50 L659.6,672.50 L660.6,672.50 L661.6,672.50 L662.6,672.50 L663.6,672.50 L664.6,672.50 L665.6,672.50 L666.6,672.50 L667.6,672.50 L668.6,672.50 L669.6,672.50 L670.6,672.50 L671.6,672.50 L672.6,672.50 L673.6,672.50 L674.6,672.50 L675.6,672.50 L676.6,672.50 L677.6,672.50 L678.6,672.50 L679.6,672.50 L680.6,672.50 L681.6,672.50 L682.6,672.50 L683.6,672.50 L684.6,672.50 L685.6,672.50 L686.6,672.50 L687.6,672.50 L688.6,672.50 L689.6,672.50 L690.6,672.50 L691.6,672.50 L692.6,672.50 L693.6,672.50 L694.6,672.50 L695.6,672.50 L696.6,672.50 L697.6,672.50 L698.6,672.50 L699.6,672.50 L700.6,672.50 L701.6,672.50 L702.6,672.50 L703.6,672.50 L704.6,672.50 L705.6,672.50 L706.6,672.50 L707.6,672.50 L708.6,672.50 L709.6,672.50 L710.6,672.50 L711.6,672.50 L712.6,672.50 L713.6,672.50 L714.6,672.50 L715.6,672.50 L716.6,672.50 L717.6,672.50 L718.6,672.50 L719.6,672.50 L720.6,672.50 L721.6,672.50 L722.6,672.50 L723.6,672.50 L724.6,672.50 L725.6,672.50 L726.6,672.50 L727.6,672.50 L728.6,672.50 L729.6,672.50 L730.6,672.50 L731.6,672.50 L732.6,672.50 L733.6,672.50 L734.6,672.50 L735.6,672.50 L736.6,672.50 L737.6,672.50 L738.6,672.50 L739.6,672.50 L740.6,672.50 L741.6,672.50 L742.6,672.50 L743.6,672.50 L744.6,672.50 L745.6,672.50 L746.6,672.50 L747.6,672.50 L748.6,672.50 L749.6,672.50 L750.6,672.50 L751.6,672.50 L752.6,672.50 L753.6,672.50 L754.6,672.50 L755.6,672.50 L756.6,672.50 L757.6,672.50 L758.6,672.50 L759.6,672.50 L760.6,672.50 L761.6,672.50 L762.6,672.50 L763.6,672.50 L764.6,672.50 L765.6,672.50 L766.6,672.50 L767.6,672.50 L768.6,672.50 L769.6,672.50 L770.6,672.50 L771.6,672.50 L772.6,672.50 L773.6,672.50 L774.6,672.50 L775.6,672.50 L776.6,672.50 L777.6,672.50 L778.6,672.50 L779.6,672.50 L780.6,672.50 L781.6,672.50 L782.6,672.50 L783.6,672.50 L784.6,672.50 L785.6,672.50 L786.6,672.50 L787.6,672.50 L788.6,672.50 L789.6,672.50 L790.6,672.50 L791.6,672.50 L792.6,672.50 L793.6,672.50 L794.6,672.50 L795.6,672.50 L796.6,672.49 L797.6,672.49 L798.6,672.49 L799.6,672.49 L800.6,672.49 L801.6,672.49 L802.6,672.48 L803.6,672.48 L804.6,672.48 L805.6,672.47 L806.6,672.47 L807.6,672.46 L808.6,672.45 L809.6,672.45 L810.6,672.44 L811.6,672.42 L812.6,672.41 L813.6,672.39 L814.6,672.37 L815.6,672.35 L816.6,672.33 L817.6,672.30 L818.6,672.26 L819.6,672.22 L820.6,672.18 L821.6,672.13 L822.6,672.07 L823.6,672.00 L824.6,671.92 L825.6,671.83 L826.6,671.73 L827.6,671.61 L828.6,671.48 L829.6,671.33 L830.6,671.16 L831.6,670.97 L832.6,670.76 L833.6,670.52 L834.6,670.25 L835.6,669.95 L836.6,669.61 L837.6,669.23 L838.6,668.81 L839.6,668.35 L840.6,667.83 L841.6,667.26 L842.6,666.62 L843.6,665.93 L844.6,665.16 L845.6,664.32 L846.6,663.40 L847.6,662.39 L848.6,661.29 L849.6,660.09 L850.6,658.79 L851.6,657.38 L852.6,655.85 L853.6,654.20 L854.6,652.42 L855.6,650.51 L856.6,648.45 L857.6,646.25 L858.6,643.90 L859.6,641.40 L860.6,638.73 L861.6,635.90 L862.6,632.90 L863.6,629.74 L864.6,626.39 L865.6,622.88 L866.6,619.19 L867.6,615.33 L868.6,611.29 L869.6,607.08 L870.6,602.71 L871.6,598.17 L872.6,593.48 L873.6,588.64 L874.6,583.66 L875.6,578.55 L876.6,573.32 L877.6,567.98 L878.6,562.54 L879.6,557.03 L880.6,551.45 L881.6,545.83 L882.6,540.17 L883.6,534.51 L884.6,528.85 L885.6,523.22 L886.6,517.65 L887.6,512.15 L888.6,506.74 L889.6,501.46 L890.6,496.31 L891.6,491.32 L892.6,486.53 L893.6,481.93 L894.6,477.57 L895.6,473.46 L896.6,469.61 L897.6,466.06 L898.6,462.81 L899.6,459.88 L900.6,457.29 L901.6,455.05 L902.6,453.16 L903.6,451.66 L904.6,450.53 L905.6,449.78 L906.6,449.42 L907.6,449.46 L908.6,449.88 L909.6,450.70 L910.6,451.90 L911.6,453.47 L912.6,455.42 L913.6,457.72 L914.6,460.37 L915.6,463.36 L916.6,466.67 L917.6,470.28 L918.6,474.17 L919.6,478.33 L920.6,482.73 L921.6,487.36 L922.6,492.20 L923.6,497.21 L924.6,502.39 L925.6,507.70 L926.6,513.12 L927.6,518.63 L928.6,524.22 L929.6,529.85 L930.6,535.51 L931.6,541.18 L932.6,546.83 L933.6,552.45 L934.6,558.01 L935.6,563.52 L936.6,568.93 L937.6,574.26 L938.6,579.47 L939.6,584.56 L940.6,589.51 L941.6,594.33 L942.6,598.99 L943.6,603.50 L944.6,607.84 L945.6,612.02 L946.6,616.02 L947.6,619.86 L948.6,623.52 L949.6,627.00 L950.6,630.31 L951.6,633.45 L952.6,636.42 L953.6,639.22 L954.6,641.86 L955.6,644.33 L956.6,646.66 L957.6,648.83 L958.6,650.86 L959.6,652.75 L960.6,654.50 L961.6,656.13 L962.6,657.64 L963.6,659.03 L964.6,660.31 L965.6,661.49 L966.6,662.58 L967.6,663.57 L968.6,664.47 L969.6,665.30 L970.6,666.06 L971.6,666.74 L972.6,667.36 L973.6,667.92 L974.6,668.43 L975.6,668.89 L976.6,669.30 L977.6,669.67 L978.6,670.00 L979.6,670.30 L980.6,670.56 L981.6,670.80 L982.6,671.01 L983.6,671.20 L984.6,671.36 L985.6,671.51 L986.6,671.63 L987.6,671.75 L988.6,671.85 L989.6,671.94 L990.6,672.01 L991.6,672.08 L992.6,672.14 L993.6,672.19 L994.6,672.23 L995.6,672.27 L996.6,672.30 L997.6,672.33 L998.6,672.36 L999.6,672.38 L1000.6,672.40 L1001.6,672.41 L1002.6,672.43 L1003.6,672.44 L1004.6,672.45 L1005.6,672.46 L1006.6,672.46 L1007.6,672.47" fill="none" stroke="#0000B0" stroke-width="3.3" stroke-linejoin="round"/>
<path d="M119.6,667.69 L120.6,667.33 L121.6,667.33 L122.6,666.91 L123.6,666.84 L124.6,666.62 L125.6,666.22 L126.6,666.14 L127.6,665.74 L128.6,665.62 L129.6,665.25 L130.6,664.93 L131.6,664.83 L132.6,664.92 L133.6,664.49 L134.6,664.16 L135.6,664.09 L136.6,664.15 L137.6,663.88 L138.6,663.50 L139.6,663.49 L140.6,662.83 L141.6,662.77 L142.6,662.28 L143.6,661.76 L144.6,661.28 L145.6,660.96 L146.6,660.93 L147.6,660.43 L148.6,660.21 L149.6,659.98 L150.6,659.56 L151.6,659.25 L152.6,658.63 L153.6,658.08 L154.6,657.67 L155.6,657.55 L156.6,657.19 L157.6,656.75 L158.6,656.48 L159.6,656.09 L160.6,655.60 L161.6,655.43 L162.6,655.12 L163.6,654.50 L164.6,654.13 L165.6,653.72 L166.6,653.50 L167.6,653.13 L168.6,652.46 L169.6,652.28 L170.6,651.49 L171.6,650.98 L172.6,650.69 L173.6,649.98 L174.6,649.55 L175.6,648.83 L176.6,648.56 L177.6,648.29 L178.6,647.84 L179.6,647.56 L180.6,646.89 L181.6,646.50 L182.6,646.02 L183.6,645.53 L184.6,644.96 L185.6,644.65 L186.6,644.35 L187.6,643.71 L188.6,643.23 L189.6,642.39 L190.6,642.03 L191.6,641.61 L192.6,641.37 L193.6,640.96 L194.6,640.20 L195.6,639.59 L196.6,639.18 L197.6,638.37 L198.6,637.92 L199.6,637.29 L200.6,636.67 L201.6,636.06 L202.6,635.92 L203.6,635.30 L204.6,634.80 L205.6,634.40 L206.6,634.27 L207.6,633.57 L208.6,633.16 L209.6,632.80 L210.6,632.62 L211.6,632.32 L212.6,632.01 L213.6,631.31 L214.6,630.77 L215.6,630.23 L216.6,630.04 L217.6,629.83 L218.6,629.07 L219.6,628.43 L220.6,627.90 L221.6,627.40 L222.6,627.08 L223.6,626.80 L224.6,626.29 L225.6,625.66 L226.6,625.35 L227.6,624.99 L228.6,624.74 L229.6,624.68 L230.6,624.37 L231.6,623.94 L232.6,623.58 L233.6,623.25 L234.6,622.54 L235.6,622.44 L236.6,622.19 L237.6,621.96 L238.6,621.64 L239.6,621.07 L240.6,620.56 L241.6,619.92 L242.6,619.68 L243.6,619.07 L244.6,618.53 L245.6,618.13 L246.6,617.71 L247.6,617.42 L248.6,616.93 L249.6,616.45 L250.6,616.10 L251.6,615.71 L252.6,615.49 L253.6,615.01 L254.6,615.08 L255.6,614.86 L256.6,614.32 L257.6,613.89 L258.6,613.53 L259.6,613.17 L260.6,612.66 L261.6,612.63 L262.6,612.57 L263.6,612.10 L264.6,611.66 L265.6,610.99 L266.6,610.42 L267.6,610.04 L268.6,609.60 L269.6,609.51 L270.6,608.93 L271.6,608.31 L272.6,608.31 L273.6,607.93 L274.6,607.30 L275.6,606.98 L276.6,606.31 L277.6,606.02 L278.6,605.95 L279.6,605.70 L280.6,605.30 L281.6,604.63 L282.6,604.09 L283.6,603.46 L284.6,603.25 L285.6,602.82 L286.6,602.54 L287.6,601.94 L288.6,601.33 L289.6,601.12 L290.6,600.95 L291.6,600.62 L292.6,600.23 L293.6,599.84 L294.6,599.38 L295.6,598.63 L296.6,598.16 L297.6,597.60 L298.6,596.90 L299.6,596.28 L300.6,595.88 L301.6,595.48 L302.6,595.34 L303.6,595.28 L304.6,594.83 L305.6,594.70 L306.6,594.54 L307.6,594.30 L308.6,593.69 L309.6,593.07 L310.6,592.56 L311.6,592.09 L312.6,591.69 L313.6,591.57 L314.6,591.59 L315.6,591.49 L316.6,591.14 L317.6,590.93 L318.6,590.82 L319.6,590.26 L320.6,590.17 L321.6,590.21 L322.6,590.13 L323.6,590.02 L324.6,589.75 L325.6,589.37 L326.6,589.45 L327.6,589.22 L328.6,589.34 L329.6,589.53 L330.6,589.33 L331.6,589.20 L332.6,589.46 L333.6,589.54 L334.6,589.30 L335.6,589.14 L336.6,589.08 L337.6,589.55 L338.6,589.88 L339.6,589.77 L340.6,590.18 L341.6,590.63 L342.6,590.83 L343.6,590.87 L344.6,591.11 L345.6,591.13 L346.6,591.17 L347.6,591.88 L348.6,592.30 L349.6,592.64 L350.6,593.24 L351.6,593.48 L352.6,594.04 L353.6,594.54 L354.6,594.66 L355.6,594.91 L356.6,595.24 L357.6,595.59 L358.6,596.19 L359.6,596.56 L360.6,597.06 L361.6,597.39 L362.6,598.24 L363.6,598.65 L364.6,599.15 L365.6,599.73 L366.6,600.47 L367.6,600.85 L368.6,601.55 L369.6,601.94 L370.6,602.37 L371.6,602.80 L372.6,602.93 L373.6,603.40 L374.6,603.70 L375.6,603.92 L376.6,604.67 L377.6,604.92 L378.6,605.38 L379.6,605.95 L380.6,606.34 L381.6,606.55 L382.6,606.90 L383.6,607.23 L384.6,607.66 L385.6,607.61 L386.6,607.90 L387.6,607.95 L388.6,608.04 L389.6,608.43 L390.6,608.56 L391.6,608.70 L392.6,608.92 L393.6,609.17 L394.6,609.06 L395.6,609.07 L396.6,609.00 L397.6,608.94 L398.6,608.98 L399.6,608.84 L400.6,608.76 L401.6,608.64 L402.6,608.80 L403.6,608.74 L404.6,608.76 L405.6,608.79 L406.6,608.37 L407.6,608.23 L408.6,608.34 L409.6,608.33 L410.6,607.88 L411.6,607.55 L412.6,607.51 L413.6,607.26 L414.6,607.19 L415.6,607.06 L416.6,607.35 L417.6,607.66 L418.6,607.98 L419.6,607.82 L420.6,608.10 L421.6,608.33 L422.6,608.26 L423.6,608.75 L424.6,609.24 L425.6,609.23 L426.6,609.78 L427.6,609.95 L428.6,610.25 L429.6,610.89 L430.6,611.38 L431.6,611.45 L432.6,611.80 L433.6,612.23 L434.6,612.56 L435.6,612.84 L436.6,613.23 L437.6,613.87 L438.6,614.01 L439.6,614.52 L440.6,614.91 L441.6,615.00 L442.6,615.31 L443.6,615.75 L444.6,616.03 L445.6,615.96 L446.6,616.47 L447.6,616.68 L448.6,616.89 L449.6,616.46 L450.6,616.18 L451.6,615.74 L452.6,615.77 L453.6,615.35 L454.6,614.83 L455.6,614.47 L456.6,614.34 L457.6,614.00 L458.6,613.21 L459.6,612.38 L460.6,612.02 L461.6,611.30 L462.6,610.60 L463.6,609.46 L464.6,608.32 L465.6,607.56 L466.6,606.49 L467.6,605.12 L468.6,604.22 L469.6,602.91 L470.6,601.54 L471.6,599.54 L472.6,597.93 L473.6,595.59 L474.6,593.62 L475.6,591.12 L476.6,588.36 L477.6,585.54 L478.6,582.72 L479.6,579.22 L480.6,575.52 L481.6,571.96 L482.6,568.08 L483.6,564.05 L484.6,560.06 L485.6,556.02 L486.6,552.15 L487.6,548.46 L488.6,544.90 L489.6,541.81 L490.6,538.62 L491.6,535.88 L492.6,533.29 L493.6,531.22 L494.6,529.36 L495.6,528.12 L496.6,527.15 L497.6,527.07 L498.6,527.17 L499.6,527.37 L500.6,528.10 L501.6,529.35 L502.6,530.22 L503.6,531.76 L504.6,533.11 L505.6,534.56 L506.6,536.22 L507.6,537.52 L508.6,538.83 L509.6,540.15 L510.6,541.49 L511.6,542.22 L512.6,543.16 L513.6,543.84 L514.6,544.33 L515.6,544.59 L516.6,544.79 L517.6,544.80 L518.6,544.92 L519.6,545.06 L520.6,545.70 L521.6,546.04 L522.6,546.44 L523.6,546.97 L524.6,548.12 L525.6,549.33 L526.6,550.50 L527.6,551.56 L528.6,552.79 L529.6,554.22 L530.6,555.87 L531.6,557.40 L532.6,559.19 L533.6,560.86 L534.6,562.94 L535.6,564.86 L536.6,566.35 L537.6,567.55 L538.6,569.08 L539.6,569.95 L540.6,570.69 L541.6,571.02 L542.6,571.39 L543.6,571.54 L544.6,571.41 L545.6,570.77 L546.6,570.06 L547.6,568.73 L548.6,567.32 L549.6,565.53 L550.6,563.68 L551.6,561.31 L552.6,558.71 L553.6,556.07 L554.6,553.14 L555.6,550.19 L556.6,546.95 L557.6,543.62 L558.6,540.00 L559.6,536.24 L560.6,532.41 L561.6,528.11 L562.6,523.72 L563.6,519.68 L564.6,514.97 L565.6,510.63 L566.6,506.14 L567.6,501.23 L568.6,496.85 L569.6,492.40 L570.6,487.71 L571.6,483.07 L572.6,478.44 L573.6,473.38 L574.6,468.65 L575.6,463.92 L576.6,459.40 L577.6,454.82 L578.6,450.22 L579.6,445.48 L580.6,440.96 L581.6,436.29 L582.6,431.67 L583.6,426.79 L584.6,421.90 L585.6,417.20 L586.6,412.70 L587.6,408.06 L588.6,403.93 L589.6,399.54 L590.6,395.19 L591.6,390.84 L592.6,386.50 L593.6,382.05 L594.6,377.33 L595.6,373.20 L596.6,368.97 L597.6,364.55 L598.6,360.17 L599.6,355.87 L600.6,351.18 L601.6,346.98 L602.6,342.42 L603.6,337.79 L604.6,333.33 L605.6,329.16 L606.6,324.57 L607.6,320.34 L608.6,316.17 L609.6,311.60 L610.6,306.97 L611.6,302.43 L612.6,298.00 L613.6,293.58 L614.6,289.03 L615.6,284.48 L616.6,279.59 L617.6,274.83 L618.6,270.20 L619.6,265.89 L620.6,261.25 L621.6,256.82 L622.6,252.05 L623.6,247.41 L624.6,242.98 L625.6,238.83 L626.6,234.66 L627.6,230.48 L628.6,226.10 L629.6,221.97 L630.6,217.81 L631.6,213.68 L632.6,209.45 L633.6,205.84 L634.6,201.84 L635.6,198.48 L636.6,195.12 L637.6,191.28 L638.6,187.97 L639.6,185.02 L640.6,182.26 L641.6,179.28 L642.6,176.40 L643.6,173.71 L644.6,171.70 L645.6,169.37 L646.6,167.53 L647.6,165.59 L648.6,164.14 L649.6,163.10 L650.6,161.66 L651.6,160.90 L652.6,160.08 L653.6,159.67 L654.6,159.27 L655.6,158.83 L656.6,159.08 L657.6,159.19 L658.6,159.22 L659.6,159.49 L660.6,160.22 L661.6,160.97 L662.6,161.70 L663.6,162.45 L664.6,163.46 L665.6,164.52 L666.6,165.99 L667.6,166.93 L668.6,168.60 L669.6,170.41 L670.6,171.81 L671.6,173.86 L672.6,175.77 L673.6,177.84 L674.6,179.56 L675.6,181.47 L676.6,183.48 L677.6,185.93 L678.6,188.10 L679.6,190.18 L680.6,192.42 L681.6,194.65 L682.6,196.83 L683.6,199.17 L684.6,202.04 L685.6,204.54 L686.6,207.51 L687.6,210.04 L688.6,212.72 L689.6,215.65 L690.6,218.45 L691.6,221.50 L692.6,225.00 L693.6,228.46 L694.6,231.92 L695.6,235.43 L696.6,239.29 L697.6,243.25 L698.6,247.09 L699.6,251.22 L700.6,255.48 L701.6,260.73 L702.6,265.97 L703.6,271.64 L704.6,277.41 L705.6,283.09 L706.6,288.83 L707.6,295.40 L708.6,301.07 L709.6,306.83 L710.6,312.64 L711.6,318.57 L712.6,324.90 L713.6,331.41 L714.6,337.49 L715.6,344.00 L716.6,350.37 L717.6,356.99 L718.6,363.53 L719.6,369.97 L720.6,376.46 L721.6,383.00 L722.6,389.94 L723.6,396.47 L724.6,402.75 L725.6,409.39 L726.6,415.86 L727.6,421.80 L728.6,427.45 L729.6,433.07 L730.6,438.50 L731.6,443.94 L732.6,449.03 L733.6,454.03 L734.6,458.82 L735.6,463.55 L736.6,468.18 L737.6,472.37 L738.6,476.05 L739.6,479.50 L740.6,482.81 L741.6,485.78 L742.6,488.48 L743.6,490.76 L744.6,492.95 L745.6,495.30 L746.6,496.74 L747.6,498.20 L748.6,499.46 L749.6,500.56 L750.6,500.94 L751.6,501.17 L752.6,500.96 L753.6,500.49 L754.6,499.80 L755.6,499.19 L756.6,498.20 L757.6,496.97 L758.6,495.00 L759.6,492.96 L760.6,491.31 L761.6,489.59 L762.6,487.38 L763.6,485.10 L764.6,482.32 L765.6,479.73 L766.6,477.33 L767.6,474.64 L768.6,471.88 L769.6,469.08 L770.6,465.68 L771.6,462.19 L772.6,458.72 L773.6,455.43 L774.6,452.10 L775.6,448.51 L776.6,444.41 L777.6,440.13 L778.6,435.80 L779.6,431.16 L780.6,426.50 L781.6,421.44 L782.6,416.80 L783.6,411.65 L784.6,406.86 L785.6,402.05 L786.6,397.17 L787.6,392.14 L788.6,387.15 L789.6,382.32 L790.6,377.38 L791.6,371.93 L792.6,366.43 L793.6,361.14 L794.6,355.75 L795.6,350.10 L796.6,344.24 L797.6,338.54 L798.6,332.34 L799.6,326.29 L800.6,320.23 L801.6,314.34 L802.6,308.06 L803.6,301.81 L804.6,295.17 L805.6,288.34 L806.6,281.50 L807.6,275.08 L808.6,268.34 L809.6,261.28 L810.6,254.07 L811.6,247.20 L812.6,240.39 L813.6,233.37 L814.6,226.26 L815.6,219.44 L816.6,212.76 L817.6,205.61 L818.6,198.47 L819.6,191.67 L820.6,184.99 L821.6,178.55 L822.6,171.88 L823.6,165.74 L824.6,159.63 L825.6,153.49 L826.6,147.36 L827.6,141.94 L828.6,136.23 L829.6,131.09 L830.6,125.77 L831.6,120.76 L832.6,116.38 L833.6,111.92 L834.6,108.18 L835.6,104.77 L836.6,101.69 L837.6,98.89 L838.6,96.46 L839.6,94.39 L840.6,92.66 L841.6,90.58 L842.6,88.83 L843.6,87.23 L844.6,86.47 L845.6,85.44 L846.6,84.78 L847.6,84.53 L848.6,84.99 L849.6,86.15 L850.6,87.51 L851.6,89.03 L852.6,90.77 L853.6,92.57 L854.6,94.26 L855.6,96.23 L856.6,99.00 L857.6,101.84 L858.6,104.47 L859.6,107.83 L860.6,111.19 L861.6,114.77 L862.6,118.48 L863.6,122.27 L864.6,126.14 L865.6,130.36 L866.6,134.16 L867.6,137.99 L868.6,141.24 L869.6,145.11 L870.6,148.46 L871.6,151.99 L872.6,156.45 L873.6,161.28 L874.6,165.83 L875.6,170.25 L876.6,175.05 L877.6,179.76 L878.6,184.79 L879.6,189.26 L880.6,193.87 L881.6,198.79 L882.6,203.06 L883.6,207.62 L884.6,212.39 L885.6,217.03 L886.6,221.17 L887.6,225.38 L888.6,229.66 L889.6,234.50 L890.6,238.81 L891.6,243.45 L892.6,248.13 L893.6,252.44 L894.6,256.81 L895.6,261.69 L896.6,266.35 L897.6,270.88 L898.6,275.83 L899.6,280.62 L900.6,285.53 L901.6,290.45 L902.6,296.04 L903.6,301.78 L904.6,307.42 L905.6,314.01 L906.6,320.62 L907.6,327.71 L908.6,335.23 L909.6,343.27 L910.6,351.45 L911.6,359.45 L912.6,366.83 L913.6,374.01 L914.6,381.39 L915.6,389.14 L916.6,396.49 L917.6,404.40 L918.6,412.30 L919.6,420.31 L920.6,428.35 L921.6,436.35 L922.6,444.23 L923.6,452.19 L924.6,460.21 L925.6,468.49 L926.6,476.26 L927.6,484.12 L928.6,492.29 L929.6,500.00 L930.6,507.54 L931.6,515.00 L932.6,522.68 L933.6,530.03 L934.6,537.61 L935.6,544.85 L936.6,551.90 L937.6,558.27 L938.6,564.42 L939.6,570.46 L940.6,576.59 L941.6,582.60 L942.6,588.18 L943.6,593.41 L944.6,598.57 L945.6,603.62 L946.6,608.44 L947.6,613.05 L948.6,617.45 L949.6,621.48 L950.6,624.87 L951.6,628.51 L952.6,631.55 L953.6,634.61 L954.6,637.35 L955.6,640.44 L956.6,642.14 L957.6,643.88 L958.6,645.57 L959.6,647.01 L960.6,649.71 L961.6,651.40 L962.6,652.62 L963.6,654.04 L964.6,656.44 L965.6,657.55 L966.6,658.10 L967.6,659.77 L968.6,660.89 L969.6,662.48 L970.6,662.18 L971.6,662.80 L972.6,664.00 L973.6,665.01 L974.6,665.96 L975.6,665.22 L976.6,665.31 L977.6,665.17 L978.6,665.29 L979.6,666.89 L980.6,667.38 L981.6,668.43 L982.6,668.23 L983.6,669.04 L984.6,668.92 L985.6,668.54 L986.6,669.27 L987.6,670.12 L988.6,669.25 L989.6,669.56 L990.6,669.80 L991.6,669.23 L992.6,669.10 L993.6,668.61 L994.6,668.38 L995.6,668.31 L996.6,668.88 L997.6,669.37 L998.6,668.90 L999.6,668.23 L1000.6,668.32 L1001.6,669.01 L1002.6,668.60 L1003.6,668.53 L1004.6,668.29 L1005.6,669.17 L1006.6,669.34 L1007.6,668.58" fill="none" stroke="#000" stroke-width="4.4" stroke-linejoin="round"/>
<path d="M119.6,667.80 L120.6,667.62 L121.6,667.43 L122.6,667.25 L123.6,667.05 L124.6,666.85 L125.6,666.65 L126.6,666.44 L127.6,666.22 L128.6,666.00 L129.6,665.77 L130.6,665.54 L131.6,665.30 L132.6,665.06 L133.6,664.81 L134.6,664.55 L135.6,664.29 L136.6,664.02 L137.6,663.75 L138.6,663.47 L139.6,663.18 L140.6,662.89 L141.6,662.59 L142.6,662.29 L143.6,661.98 L144.6,661.66 L145.6,661.34 L146.6,661.01 L147.6,660.67 L148.6,660.33 L149.6,659.99 L150.6,659.63 L151.6,659.28 L152.6,658.91 L153.6,658.54 L154.6,658.17 L155.6,657.79 L156.6,657.40 L157.6,657.01 L158.6,656.61 L159.6,656.21 L160.6,655.80 L161.6,655.39 L162.6,654.97 L163.6,654.55 L164.6,654.13 L165.6,653.70 L166.6,653.26 L167.6,652.82 L168.6,652.38 L169.6,651.93 L170.6,651.48 L171.6,651.02 L172.6,650.56 L173.6,650.10 L174.6,649.64 L175.6,649.17 L176.6,648.70 L177.6,648.23 L178.6,647.75 L179.6,647.28 L180.6,646.80 L181.6,646.32 L182.6,645.83 L183.6,645.35 L184.6,644.87 L185.6,644.38 L186.6,643.89 L187.6,643.41 L188.6,642.92 L189.6,642.43 L190.6,641.94 L191.6,641.46 L192.6,640.97 L193.6,640.48 L194.6,640.00 L195.6,639.51 L196.6,639.03 L197.6,638.55 L198.6,638.07 L199.6,637.59 L200.6,637.11 L201.6,636.64 L202.6,636.17 L203.6,635.70 L204.6,635.23 L205.6,634.76 L206.6,634.30 L207.6,633.84 L208.6,633.38 L209.6,632.93 L210.6,632.48 L211.6,632.03 L212.6,631.59 L213.6,631.15 L214.6,630.71 L215.6,630.27 L216.6,629.84 L217.6,629.42 L218.6,628.99 L219.6,628.57 L220.6,628.15 L221.6,627.74 L222.6,627.33 L223.6,626.92 L224.6,626.52 L225.6,626.12 L226.6,625.72 L227.6,625.33 L228.6,624.94 L229.6,624.55 L230.6,624.16 L231.6,623.78 L232.6,623.40 L233.6,623.02 L234.6,622.65 L235.6,622.27 L236.6,621.90 L237.6,621.53 L238.6,621.17 L239.6,620.80 L240.6,620.43 L241.6,620.07 L242.6,619.71 L243.6,619.34 L244.6,618.98 L245.6,618.62 L246.6,618.26 L247.6,617.90 L248.6,617.54 L249.6,617.18 L250.6,616.81 L251.6,616.45 L252.6,616.08 L253.6,615.72 L254.6,615.35 L255.6,614.98 L256.6,614.61 L257.6,614.24 L258.6,613.87 L259.6,613.49 L260.6,613.11 L261.6,612.73 L262.6,612.35 L263.6,611.96 L264.6,611.57 L265.6,611.18 L266.6,610.79 L267.6,610.39 L268.6,609.99 L269.6,609.59 L270.6,609.18 L271.6,608.77 L272.6,608.36 L273.6,607.95 L274.6,607.53 L275.6,607.11 L276.6,606.69 L277.6,606.26 L278.6,605.84 L279.6,605.41 L280.6,604.97 L281.6,604.54 L282.6,604.11 L283.6,603.67 L284.6,603.23 L285.6,602.79 L286.6,602.35 L287.6,601.91 L288.6,601.48 L289.6,601.04 L290.6,600.60 L291.6,600.16 L292.6,599.73 L293.6,599.29 L294.6,598.86 L295.6,598.43 L296.6,598.01 L297.6,597.58 L298.6,597.17 L299.6,596.75 L300.6,596.35 L301.6,595.94 L302.6,595.55 L303.6,595.16 L304.6,594.78 L305.6,594.40 L306.6,594.04 L307.6,593.68 L308.6,593.33 L309.6,592.99 L310.6,592.66 L311.6,592.35 L312.6,592.04 L313.6,591.75 L314.6,591.47 L315.6,591.20 L316.6,590.95 L317.6,590.71 L318.6,590.49 L319.6,590.28 L320.6,590.08 L321.6,589.90 L322.6,589.74 L323.6,589.60 L324.6,589.47 L325.6,589.36 L326.6,589.27 L327.6,589.20 L328.6,589.15 L329.6,589.11 L330.6,589.10 L331.6,589.10 L332.6,589.12 L333.6,589.17 L334.6,589.23 L335.6,589.32 L336.6,589.42 L337.6,589.54 L338.6,589.69 L339.6,589.85 L340.6,590.04 L341.6,590.24 L342.6,590.46 L343.6,590.71 L344.6,590.97 L345.6,591.25 L346.6,591.55 L347.6,591.86 L348.6,592.20 L349.6,592.55 L350.6,592.91 L351.6,593.29 L352.6,593.69 L353.6,594.10 L354.6,594.52 L355.6,594.96 L356.6,595.40 L357.6,595.86 L358.6,596.33 L359.6,596.80 L360.6,597.28 L361.6,597.77 L362.6,598.26 L363.6,598.75 L364.6,599.25 L365.6,599.74 L366.6,600.24 L367.6,600.73 L368.6,601.22 L369.6,601.71 L370.6,602.18 L371.6,602.66 L372.6,603.12 L373.6,603.57 L374.6,604.01 L375.6,604.43 L376.6,604.85 L377.6,605.24 L378.6,605.62 L379.6,605.99 L380.6,606.33 L381.6,606.65 L382.6,606.95 L383.6,607.24 L384.6,607.50 L385.6,607.73 L386.6,607.95 L387.6,608.14 L388.6,608.30 L389.6,608.45 L390.6,608.57 L391.6,608.67 L392.6,608.74 L393.6,608.80 L394.6,608.83 L395.6,608.85 L396.6,608.84 L397.6,608.82 L398.6,608.78 L399.6,608.73 L400.6,608.66 L401.6,608.58 L402.6,608.50 L403.6,608.40 L404.6,608.31 L405.6,608.21 L406.6,608.11 L407.6,608.01 L408.6,607.91 L409.6,607.83 L410.6,607.75 L411.6,607.69 L412.6,607.64 L413.6,607.60 L414.6,607.59 L415.6,607.60 L416.6,607.63 L417.6,607.68 L418.6,607.76 L419.6,607.87 L420.6,608.00 L421.6,608.17 L422.6,608.37 L423.6,608.59 L424.6,608.84 L425.6,609.13 L426.6,609.44 L427.6,609.77 L428.6,610.13 L429.6,610.51 L430.6,610.91 L431.6,611.33 L432.6,611.76 L433.6,612.19 L434.6,612.63 L435.6,613.07 L436.6,613.50 L437.6,613.93 L438.6,614.33 L439.6,614.72 L440.6,615.08 L441.6,615.41 L442.6,615.70 L443.6,615.95 L444.6,616.16 L445.6,616.32 L446.6,616.42 L447.6,616.47 L448.6,616.46 L449.6,616.40 L450.6,616.27 L451.6,616.09 L452.6,615.84 L453.6,615.54 L454.6,615.18 L455.6,614.77 L456.6,614.30 L457.6,613.78 L458.6,613.20 L459.6,612.58 L460.6,611.91 L461.6,611.18 L462.6,610.40 L463.6,609.56 L464.6,608.66 L465.6,607.68 L466.6,606.62 L467.6,605.46 L468.6,604.20 L469.6,602.82 L470.6,601.30 L471.6,599.62 L472.6,597.77 L473.6,595.74 L474.6,593.51 L475.6,591.07 L476.6,588.42 L477.6,585.55 L478.6,582.47 L479.6,579.19 L480.6,575.72 L481.6,572.08 L482.6,568.32 L483.6,564.46 L484.6,560.54 L485.6,556.63 L486.6,552.76 L487.6,548.99 L488.6,545.39 L489.6,542.00 L490.6,538.88 L491.6,536.06 L492.6,533.61 L493.6,531.53 L494.6,529.87 L495.6,528.62 L496.6,527.80 L497.6,527.38 L498.6,527.36 L499.6,527.69 L500.6,528.33 L501.6,529.25 L502.6,530.39 L503.6,531.69 L504.6,533.10 L505.6,534.56 L506.6,536.02 L507.6,537.44 L508.6,538.78 L509.6,540.00 L510.6,541.09 L511.6,542.03 L512.6,542.83 L513.6,543.48 L514.6,544.01 L515.6,544.42 L516.6,544.76 L517.6,545.04 L518.6,545.31 L519.6,545.60 L520.6,545.93 L521.6,546.34 L522.6,546.86 L523.6,547.51 L524.6,548.29 L525.6,549.23 L526.6,550.33 L527.6,551.57 L528.6,552.95 L529.6,554.45 L530.6,556.06 L531.6,557.74 L532.6,559.46 L533.6,561.19 L534.6,562.90 L535.6,564.55 L536.6,566.10 L537.6,567.52 L538.6,568.79 L539.6,569.86 L540.6,570.72 L541.6,571.33 L542.6,571.68 L543.6,571.76 L544.6,571.56 L545.6,571.06 L546.6,570.26 L547.6,569.16 L548.6,567.77 L549.6,566.09 L550.6,564.13 L551.6,561.90 L552.6,559.41 L553.6,556.68 L554.6,553.72 L555.6,550.55 L556.6,547.18 L557.6,543.63 L558.6,539.91 L559.6,536.05 L560.6,532.05 L561.6,527.92 L562.6,523.69 L563.6,519.37 L564.6,514.97 L565.6,510.49 L566.6,505.96 L567.6,501.38 L568.6,496.76 L569.6,492.10 L570.6,487.42 L571.6,482.72 L572.6,478.01 L573.6,473.30 L574.6,468.58 L575.6,463.87 L576.6,459.16 L577.6,454.47 L578.6,449.78 L579.6,445.12 L580.6,440.47 L581.6,435.84 L582.6,431.24 L583.6,426.65 L584.6,422.09 L585.6,417.55 L586.6,413.03 L587.6,408.53 L588.6,404.05 L589.6,399.59 L590.6,395.15 L591.6,390.73 L592.6,386.32 L593.6,381.93 L594.6,377.54 L595.6,373.17 L596.6,368.80 L597.6,364.43 L598.6,360.07 L599.6,355.70 L600.6,351.33 L601.6,346.96 L602.6,342.58 L603.6,338.19 L604.6,333.79 L605.6,329.38 L606.6,324.95 L607.6,320.51 L608.6,316.05 L609.6,311.58 L610.6,307.10 L611.6,302.60 L612.6,298.09 L613.6,293.56 L614.6,289.03 L615.6,284.48 L616.6,279.94 L617.6,275.39 L618.6,270.84 L619.6,266.30 L620.6,261.78 L621.6,257.26 L622.6,252.77 L623.6,248.31 L624.6,243.88 L625.6,239.50 L626.6,235.16 L627.6,230.88 L628.6,226.66 L629.6,222.51 L630.6,218.44 L631.6,214.45 L632.6,210.56 L633.6,206.78 L634.6,203.10 L635.6,199.54 L636.6,196.11 L637.6,192.81 L638.6,189.65 L639.6,186.63 L640.6,183.78 L641.6,181.08 L642.6,178.54 L643.6,176.18 L644.6,173.98 L645.6,171.97 L646.6,170.14 L647.6,168.49 L648.6,167.02 L649.6,165.74 L650.6,164.65 L651.6,163.74 L652.6,163.02 L653.6,162.47 L654.6,162.11 L655.6,161.92 L656.6,161.91 L657.6,162.06 L658.6,162.38 L659.6,162.85 L660.6,163.47 L661.6,164.24 L662.6,165.14 L663.6,166.18 L664.6,167.33 L665.6,168.61 L666.6,169.99 L667.6,171.47 L668.6,173.05 L669.6,174.72 L670.6,176.46 L671.6,178.29 L672.6,180.18 L673.6,182.13 L674.6,184.15 L675.6,186.22 L676.6,188.35 L677.6,190.53 L678.6,192.76 L679.6,195.04 L680.6,197.36 L681.6,199.74 L682.6,202.18 L683.6,204.67 L684.6,207.22 L685.6,209.83 L686.6,212.51 L687.6,215.27 L688.6,218.10 L689.6,221.03 L690.6,224.04 L691.6,227.16 L692.6,230.39 L693.6,233.73 L694.6,237.19 L695.6,240.78 L696.6,244.51 L697.6,248.38 L698.6,252.40 L699.6,256.56 L700.6,260.89 L701.6,265.37 L702.6,270.01 L703.6,274.82 L704.6,279.79 L705.6,284.92 L706.6,290.20 L707.6,295.64 L708.6,301.23 L709.6,306.96 L710.6,312.83 L711.6,318.82 L712.6,324.93 L713.6,331.14 L714.6,337.45 L715.6,343.83 L716.6,350.28 L717.6,356.77 L718.6,363.30 L719.6,369.84 L720.6,376.39 L721.6,382.91 L722.6,389.40 L723.6,395.83 L724.6,402.19 L725.6,408.45 L726.6,414.61 L727.6,420.65 L728.6,426.54 L729.6,432.27 L730.6,437.84 L731.6,443.21 L732.6,448.38 L733.6,453.34 L734.6,458.07 L735.6,462.57 L736.6,466.82 L737.6,470.82 L738.6,474.55 L739.6,478.03 L740.6,481.23 L741.6,484.15 L742.6,486.80 L743.6,489.17 L744.6,491.27 L745.6,493.09 L746.6,494.63 L747.6,495.91 L748.6,496.91 L749.6,497.66 L750.6,498.14 L751.6,498.38 L752.6,498.37 L753.6,498.13 L754.6,497.66 L755.6,496.96 L756.6,496.05 L757.6,494.94 L758.6,493.63 L759.6,492.13 L760.6,490.45 L761.6,488.60 L762.6,486.59 L763.6,484.42 L764.6,482.10 L765.6,479.64 L766.6,477.04 L767.6,474.32 L768.6,471.47 L769.6,468.51 L770.6,465.44 L771.6,462.26 L772.6,458.97 L773.6,455.59 L774.6,452.11 L775.6,448.53 L776.6,444.87 L777.6,441.11 L778.6,437.26 L779.6,433.32 L780.6,429.29 L781.6,425.18 L782.6,420.97 L783.6,416.68 L784.6,412.29 L785.6,407.81 L786.6,403.23 L787.6,398.56 L788.6,393.79 L789.6,388.93 L790.6,383.96 L791.6,378.89 L792.6,373.71 L793.6,368.43 L794.6,363.05 L795.6,357.56 L796.6,351.96 L797.6,346.25 L798.6,340.44 L799.6,334.52 L800.6,328.50 L801.6,322.38 L802.6,316.16 L803.6,309.84 L804.6,303.42 L805.6,296.92 L806.6,290.34 L807.6,283.68 L808.6,276.94 L809.6,270.15 L810.6,263.30 L811.6,256.40 L812.6,249.46 L813.6,242.50 L814.6,235.52 L815.6,228.54 L816.6,221.56 L817.6,214.61 L818.6,207.68 L819.6,200.81 L820.6,193.99 L821.6,187.25 L822.6,180.60 L823.6,174.05 L824.6,167.62 L825.6,161.33 L826.6,155.19 L827.6,149.22 L828.6,143.43 L829.6,137.83 L830.6,132.44 L831.6,127.28 L832.6,122.36 L833.6,117.69 L834.6,113.29 L835.6,109.16 L836.6,105.33 L837.6,101.79 L838.6,98.55 L839.6,95.64 L840.6,93.04 L841.6,90.78 L842.6,88.85 L843.6,87.26 L844.6,86.01 L845.6,85.10 L846.6,84.53 L847.6,84.30 L848.6,84.41 L849.6,84.84 L850.6,85.61 L851.6,86.70 L852.6,88.10 L853.6,89.80 L854.6,91.79 L855.6,94.06 L856.6,96.61 L857.6,99.40 L858.6,102.44 L859.6,105.71 L860.6,109.18 L861.6,112.85 L862.6,116.69 L863.6,120.70 L864.6,124.85 L865.6,129.13 L866.6,133.53 L867.6,138.01 L868.6,142.58 L869.6,147.21 L870.6,151.89 L871.6,156.60 L872.6,161.34 L873.6,166.09 L874.6,170.84 L875.6,175.59 L876.6,180.31 L877.6,185.02 L878.6,189.69 L879.6,194.33 L880.6,198.94 L881.6,203.51 L882.6,208.05 L883.6,212.55 L884.6,217.03 L885.6,221.48 L886.6,225.91 L887.6,230.33 L888.6,234.75 L889.6,239.17 L890.6,243.61 L891.6,248.08 L892.6,252.58 L893.6,257.13 L894.6,261.75 L895.6,266.44 L896.6,271.21 L897.6,276.08 L898.6,281.06 L899.6,286.16 L900.6,291.39 L901.6,296.76 L902.6,302.27 L903.6,307.94 L904.6,313.76 L905.6,319.75 L906.6,325.90 L907.6,332.23 L908.6,338.72 L909.6,345.38 L910.6,352.21 L911.6,359.20 L912.6,366.34 L913.6,373.63 L914.6,381.06 L915.6,388.62 L916.6,396.29 L917.6,404.08 L918.6,411.95 L919.6,419.91 L920.6,427.92 L921.6,435.99 L922.6,444.08 L923.6,452.19 L924.6,460.30 L925.6,468.38 L926.6,476.43 L927.6,484.43 L928.6,492.36 L929.6,500.20 L930.6,507.93 L931.6,515.55 L932.6,523.04 L933.6,530.39 L934.6,537.58 L935.6,544.59 L936.6,551.43 L937.6,558.08 L938.6,564.53 L939.6,570.78 L940.6,576.81 L941.6,582.63 L942.6,588.23 L943.6,593.61 L944.6,598.76 L945.6,603.68 L946.6,608.38 L947.6,612.86 L948.6,617.11 L949.6,621.14 L950.6,624.96 L951.6,628.56 L952.6,631.96 L953.6,635.16 L954.6,638.16 L955.6,640.97 L956.6,643.60 L957.6,646.05 L958.6,648.34 L959.6,650.46 L960.6,652.43 L961.6,654.26 L962.6,655.94 L963.6,657.50 L964.6,658.93 L965.6,660.25 L966.6,661.45 L967.6,662.56 L968.6,663.57 L969.6,664.49 L970.6,665.32 L971.6,666.08 L972.6,666.77 L973.6,667.40 L974.6,667.96 L975.6,668.47 L976.6,668.92 L977.6,669.33 L978.6,669.70 L979.6,670.03 L980.6,670.32 L981.6,670.59 L982.6,670.82 L983.6,671.03 L984.6,671.21 L985.6,671.37 L986.6,671.52 L987.6,671.64 L988.6,671.76 L989.6,671.85 L990.6,671.94 L991.6,672.02 L992.6,672.08 L993.6,672.14 L994.6,672.19 L995.6,672.23 L996.6,672.27 L997.6,672.30 L998.6,672.33 L999.6,672.36 L1000.6,672.38 L1001.6,672.39 L1002.6,672.41 L1003.6,672.42 L1004.6,672.44 L1005.6,672.44 L1006.6,672.45 L1007.6,672.46" fill="none" stroke="#FF0000" stroke-width="4.2" stroke-linejoin="round"/>
<text x="119.3" y="713.8" text-anchor="middle" font-family="Liberation Sans, sans-serif" font-size="32.5">0</text>
<text x="225.5" y="713.8" text-anchor="middle" font-family="Liberation Sans, sans-serif" font-size="32.5">200</text>
<text x="331.7" y="713.8" text-anchor="middle" font-family="Liberation Sans, sans-serif" font-size="32.5">400</text>
<text x="438.0" y="713.8" text-anchor="middle" font-family="Liberation Sans, sans-serif" font-size="32.5">600</text>
<text x="544.2" y="713.8" text-anchor="middle" font-family="Liberation Sans, sans-serif" font-size="32.5">800</text>
<text x="650.4" y="713.8" text-anchor="middle" font-family="Liberation Sans, sans-serif" font-size="32.5">1000</text>
<text x="756.6" y="713.8" text-anchor="middle" font-family="Liberation Sans, sans-serif" font-size="32.5">1200</text>
<text x="862.8" y="713.8" text-anchor="middle" font-family="Liberation Sans, sans-serif" font-size="32.5">1400</text>
<text x="969.1" y="713.8" text-anchor="middle" font-family="Liberation Sans, sans-serif" font-size="32.5">1600</text>
<text x="105" y="683.9" text-anchor="end" font-family="Liberation Sans, sans-serif" font-size="32.5">0</text>
<text x="105" y="594.2" text-anchor="end" font-family="Liberation Sans, sans-serif" font-size="32.5">2</text>
<text x="105" y="504.5" text-anchor="end" font-family="Liberation Sans, sans-serif" font-size="32.5">4</text>
<text x="105" y="414.8" text-anchor="end" font-family="Liberation Sans, sans-serif" font-size="32.5">6</text>
<text x="105" y="325.1" text-anchor="end" font-family="Liberation Sans, sans-serif" font-size="32.5">8</text>
<text x="105" y="235.4" text-anchor="end" font-family="Liberation Sans, sans-serif" font-size="32.5">10</text>
<text x="105" y="145.7" text-anchor="end" font-family="Liberation Sans, sans-serif" font-size="32.5">12</text>
<text x="105" y="56.0" text-anchor="end" font-family="Liberation Sans, sans-serif" font-size="32.5">14</text>
<text x="390.7" y="771.5" font-family="Liberation Sans, sans-serif" font-size="39.3">Wavenumbers (cm<tspan font-size="22" dx="-1.5" dy="-17.5">-1</tspan><tspan dx="0.5" dy="17.5">)</tspan></text>
<text transform="translate(36,658.7) rotate(-90)" font-family="Liberation Sans, sans-serif" font-size="39">Absorption coefficient,<tspan x="418.4">(</tspan><tspan x="451">)</tspan><tspan x="478.4">(</tspan><tspan x="490.3">10</tspan><tspan x="533.2" y="-20.4" font-size="21">3</tspan><tspan x="557.3" y="0">cm</tspan><tspan x="608.6" y="-19" font-size="22">-1</tspan><tspan x="632" y="0">)</tspan></text>
<text transform="translate(36,658.7) rotate(-90) translate(395.7,0) scale(1.3,1)" font-family="Liberation Serif, serif" font-size="34">α</text>
<text transform="translate(36,658.7) rotate(-90) translate(432,0) scale(1.2,1)" font-family="Liberation Serif, serif" font-size="34">ν</text>
<text x="908.3" y="432.3" transform="translate(0,432.3) scale(1,1.04) translate(0,-432.3)" text-anchor="middle" font-family="Liberation Sans, sans-serif" font-size="32.5">1</text>
<text x="848.3" y="272" transform="translate(0,272) scale(1,1.04) translate(0,-272)" text-anchor="middle" font-family="Liberation Sans, sans-serif" font-size="32.5">2</text>
<text x="794.2" y="632.9" transform="translate(0,632.9) scale(1,1.04) translate(0,-632.9)" text-anchor="middle" font-family="Liberation Sans, sans-serif" font-size="32.5">3</text>
<text x="780.2" y="511.7" transform="translate(0,511.7) scale(1,1.04) translate(0,-511.7)" text-anchor="middle" font-family="Liberation Sans, sans-serif" font-size="32.5">4</text>
<text x="710.5" y="459.2" transform="translate(0,459.2) scale(1,1.04) translate(0,-459.2)" text-anchor="middle" font-family="Liberation Sans, sans-serif" font-size="32.5">5</text>
<text x="651.7" y="267.7" transform="translate(0,267.7) scale(1,1.04) translate(0,-267.7)" text-anchor="middle" font-family="Liberation Sans, sans-serif" font-size="32.5">6</text>
<text x="589.2" y="482.6" transform="translate(0,482.6) scale(1,1.04) translate(0,-482.6)" text-anchor="middle" font-family="Liberation Sans, sans-serif" font-size="32.5">7</text>
<text x="521.7" y="575" transform="translate(0,575) scale(1,1.04) translate(0,-575)" text-anchor="middle" font-family="Liberation Sans, sans-serif" font-size="32.5">8</text>
<text x="498.5" y="566.9" transform="translate(0,566.9) scale(1,1.04) translate(0,-566.9)" text-anchor="middle" font-family="Liberation Sans, sans-serif" font-size="32.5">9</text>
<text x="460" y="588.8" transform="translate(0,588.8) scale(1,1.04) translate(0,-588.8)" text-anchor="middle" font-family="Liberation Sans, sans-serif" font-size="32.5">10</text>
<text x="420" y="602.7" transform="translate(0,602.7) scale(1,1.04) translate(0,-602.7)" text-anchor="middle" font-family="Liberation Sans, sans-serif" font-size="32.5">11</text>
<text x="343" y="634.3" transform="translate(0,634.3) scale(1,1.04) translate(0,-634.3)" text-anchor="middle" font-family="Liberation Sans, sans-serif" font-size="32.5">12</text>
<text x="223" y="607" transform="translate(0,607) scale(1,1.04) translate(0,-607)" text-anchor="middle" font-family="Liberation Sans, sans-serif" font-size="32.5">13</text>
</svg></body></html>
